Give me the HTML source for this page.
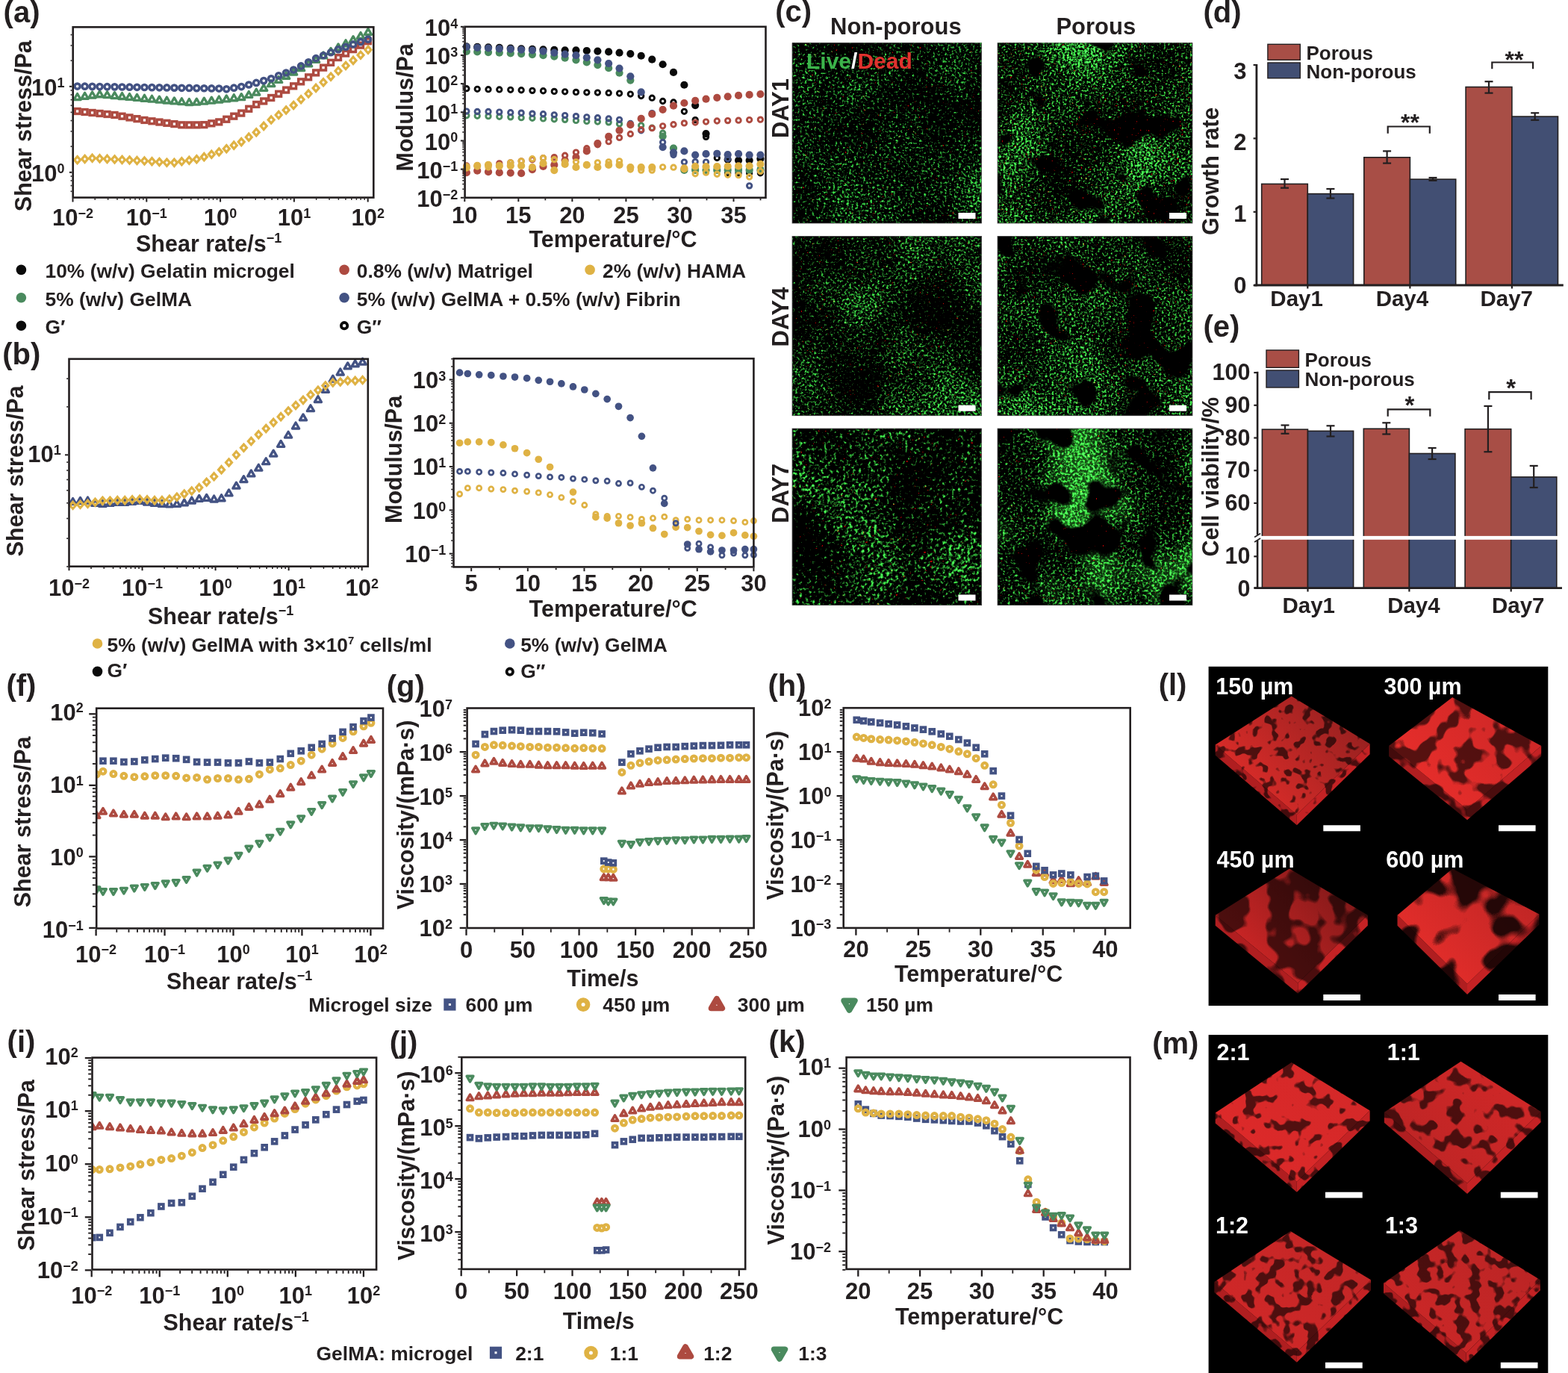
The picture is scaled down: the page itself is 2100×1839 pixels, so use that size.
<!DOCTYPE html>
<html><head><meta charset="utf-8"><title>figure</title>
<style>html,body{margin:0;padding:0;background:#fff;overflow:hidden;}svg{display:block;}
text{font-family:'Liberation Sans', Arial, Helvetica, sans-serif;}</style></head>
<body><svg xmlns="http://www.w3.org/2000/svg" width="2100" height="1839" viewBox="0 0 2100 1839">
<rect width="2100" height="1839" fill="#ffffff"/>
<path d="M103.6 209.66L107.6 214.26L103.6 218.86L99.6 214.26Z" fill="none" stroke="#dfb244" stroke-width="3.2" stroke-linejoin="miter"/>
<path d="M113.58 208.42L117.58 213.02L113.58 217.62L109.58 213.02Z" fill="none" stroke="#dfb244" stroke-width="3.2" stroke-linejoin="miter"/>
<path d="M123.57 207.23L127.57 211.83L123.57 216.43L119.57 211.83Z" fill="none" stroke="#dfb244" stroke-width="3.2" stroke-linejoin="miter"/>
<path d="M133.55 207.76L137.55 212.36L133.55 216.96L129.55 212.36Z" fill="none" stroke="#dfb244" stroke-width="3.2" stroke-linejoin="miter"/>
<path d="M143.54 208.3L147.54 212.9L143.54 217.5L139.54 212.9Z" fill="none" stroke="#dfb244" stroke-width="3.2" stroke-linejoin="miter"/>
<path d="M153.52 208.83L157.52 213.43L153.52 218.03L149.52 213.43Z" fill="none" stroke="#dfb244" stroke-width="3.2" stroke-linejoin="miter"/>
<path d="M163.51 209.37L167.51 213.97L163.51 218.57L159.51 213.97Z" fill="none" stroke="#dfb244" stroke-width="3.2" stroke-linejoin="miter"/>
<path d="M173.49 209.9L177.49 214.5L173.49 219.1L169.49 214.5Z" fill="none" stroke="#dfb244" stroke-width="3.2" stroke-linejoin="miter"/>
<path d="M183.48 210.44L187.48 215.04L183.48 219.64L179.48 215.04Z" fill="none" stroke="#dfb244" stroke-width="3.2" stroke-linejoin="miter"/>
<path d="M193.46 210.97L197.46 215.57L193.46 220.17L189.46 215.57Z" fill="none" stroke="#dfb244" stroke-width="3.2" stroke-linejoin="miter"/>
<path d="M203.45 211.66L207.45 216.26L203.45 220.86L199.45 216.26Z" fill="none" stroke="#dfb244" stroke-width="3.2" stroke-linejoin="miter"/>
<path d="M213.43 212.37L217.43 216.97L213.43 221.57L209.43 216.97Z" fill="none" stroke="#dfb244" stroke-width="3.2" stroke-linejoin="miter"/>
<path d="M223.42 213.08L227.42 217.68L223.42 222.28L219.42 217.68Z" fill="none" stroke="#dfb244" stroke-width="3.2" stroke-linejoin="miter"/>
<path d="M233.4 213.27L237.4 217.87L233.4 222.47L229.4 217.87Z" fill="none" stroke="#dfb244" stroke-width="3.2" stroke-linejoin="miter"/>
<path d="M243.38 211.73L247.38 216.33L243.38 220.93L239.38 216.33Z" fill="none" stroke="#dfb244" stroke-width="3.2" stroke-linejoin="miter"/>
<path d="M253.37 210.2L257.37 214.8L253.37 219.4L249.37 214.8Z" fill="none" stroke="#dfb244" stroke-width="3.2" stroke-linejoin="miter"/>
<path d="M263.35 208.66L267.35 213.26L263.35 217.86L259.35 213.26Z" fill="none" stroke="#dfb244" stroke-width="3.2" stroke-linejoin="miter"/>
<path d="M273.34 205.53L277.34 210.13L273.34 214.73L269.34 210.13Z" fill="none" stroke="#dfb244" stroke-width="3.2" stroke-linejoin="miter"/>
<path d="M283.32 202.2L287.32 206.8L283.32 211.4L279.32 206.8Z" fill="none" stroke="#dfb244" stroke-width="3.2" stroke-linejoin="miter"/>
<path d="M293.31 198.87L297.31 203.47L293.31 208.07L289.31 203.47Z" fill="none" stroke="#dfb244" stroke-width="3.2" stroke-linejoin="miter"/>
<path d="M303.29 194.57L307.29 199.17L303.29 203.77L299.29 199.17Z" fill="none" stroke="#dfb244" stroke-width="3.2" stroke-linejoin="miter"/>
<path d="M313.28 190.03L317.28 194.63L313.28 199.23L309.28 194.63Z" fill="none" stroke="#dfb244" stroke-width="3.2" stroke-linejoin="miter"/>
<path d="M323.26 185.49L327.26 190.09L323.26 194.69L319.26 190.09Z" fill="none" stroke="#dfb244" stroke-width="3.2" stroke-linejoin="miter"/>
<path d="M333.25 179.05L337.25 183.65L333.25 188.25L329.25 183.65Z" fill="none" stroke="#dfb244" stroke-width="3.2" stroke-linejoin="miter"/>
<path d="M343.23 172.57L347.23 177.17L343.23 181.77L339.23 177.17Z" fill="none" stroke="#dfb244" stroke-width="3.2" stroke-linejoin="miter"/>
<path d="M353.22 164.25L357.22 168.85L353.22 173.45L349.22 168.85Z" fill="none" stroke="#dfb244" stroke-width="3.2" stroke-linejoin="miter"/>
<path d="M363.2 155.93L367.2 160.53L363.2 165.13L359.2 160.53Z" fill="none" stroke="#dfb244" stroke-width="3.2" stroke-linejoin="miter"/>
<path d="M373.18 149.41L377.18 154.01L373.18 158.61L369.18 154.01Z" fill="none" stroke="#dfb244" stroke-width="3.2" stroke-linejoin="miter"/>
<path d="M383.17 142.89L387.17 147.49L383.17 152.09L379.17 147.49Z" fill="none" stroke="#dfb244" stroke-width="3.2" stroke-linejoin="miter"/>
<path d="M393.15 136.34L397.15 140.94L393.15 145.54L389.15 140.94Z" fill="none" stroke="#dfb244" stroke-width="3.2" stroke-linejoin="miter"/>
<path d="M403.14 128.66L407.14 133.26L403.14 137.86L399.14 133.26Z" fill="none" stroke="#dfb244" stroke-width="3.2" stroke-linejoin="miter"/>
<path d="M413.12 120.98L417.12 125.58L413.12 130.18L409.12 125.58Z" fill="none" stroke="#dfb244" stroke-width="3.2" stroke-linejoin="miter"/>
<path d="M423.11 113.3L427.11 117.9L423.11 122.5L419.11 117.9Z" fill="none" stroke="#dfb244" stroke-width="3.2" stroke-linejoin="miter"/>
<path d="M433.09 105.69L437.09 110.29L433.09 114.89L429.09 110.29Z" fill="none" stroke="#dfb244" stroke-width="3.2" stroke-linejoin="miter"/>
<path d="M443.08 98.07L447.08 102.67L443.08 107.27L439.08 102.67Z" fill="none" stroke="#dfb244" stroke-width="3.2" stroke-linejoin="miter"/>
<path d="M453.06 90.46L457.06 95.06L453.06 99.66L449.06 95.06Z" fill="none" stroke="#dfb244" stroke-width="3.2" stroke-linejoin="miter"/>
<path d="M463.05 83.37L467.05 87.97L463.05 92.57L459.05 87.97Z" fill="none" stroke="#dfb244" stroke-width="3.2" stroke-linejoin="miter"/>
<path d="M473.03 76.28L477.03 80.88L473.03 85.48L469.03 80.88Z" fill="none" stroke="#dfb244" stroke-width="3.2" stroke-linejoin="miter"/>
<path d="M483.02 69.2L487.02 73.8L483.02 78.4L479.02 73.8Z" fill="none" stroke="#dfb244" stroke-width="3.2" stroke-linejoin="miter"/>
<path d="M493 62.15L497 66.75L493 71.35L489 66.75Z" fill="none" stroke="#dfb244" stroke-width="3.2" stroke-linejoin="miter"/>
<rect x="100.2" y="145.6" width="6.8" height="6.8" fill="none" stroke="#ad4a40" stroke-width="3.5"/>
<rect x="110.18" y="146.6" width="6.8" height="6.8" fill="none" stroke="#ad4a40" stroke-width="3.5"/>
<rect x="120.17" y="147.6" width="6.8" height="6.8" fill="none" stroke="#ad4a40" stroke-width="3.5"/>
<rect x="130.15" y="148.59" width="6.8" height="6.8" fill="none" stroke="#ad4a40" stroke-width="3.5"/>
<rect x="140.14" y="149.59" width="6.8" height="6.8" fill="none" stroke="#ad4a40" stroke-width="3.5"/>
<rect x="150.12" y="150.59" width="6.8" height="6.8" fill="none" stroke="#ad4a40" stroke-width="3.5"/>
<rect x="160.11" y="152.3" width="6.8" height="6.8" fill="none" stroke="#ad4a40" stroke-width="3.5"/>
<rect x="170.09" y="154.05" width="6.8" height="6.8" fill="none" stroke="#ad4a40" stroke-width="3.5"/>
<rect x="180.08" y="155.79" width="6.8" height="6.8" fill="none" stroke="#ad4a40" stroke-width="3.5"/>
<rect x="190.06" y="157.54" width="6.8" height="6.8" fill="none" stroke="#ad4a40" stroke-width="3.5"/>
<rect x="200.05" y="158.88" width="6.8" height="6.8" fill="none" stroke="#ad4a40" stroke-width="3.5"/>
<rect x="210.03" y="160.15" width="6.8" height="6.8" fill="none" stroke="#ad4a40" stroke-width="3.5"/>
<rect x="220.02" y="161.41" width="6.8" height="6.8" fill="none" stroke="#ad4a40" stroke-width="3.5"/>
<rect x="230" y="162.67" width="6.8" height="6.8" fill="none" stroke="#ad4a40" stroke-width="3.5"/>
<rect x="239.98" y="163.93" width="6.8" height="6.8" fill="none" stroke="#ad4a40" stroke-width="3.5"/>
<rect x="249.97" y="163.99" width="6.8" height="6.8" fill="none" stroke="#ad4a40" stroke-width="3.5"/>
<rect x="259.95" y="163.99" width="6.8" height="6.8" fill="none" stroke="#ad4a40" stroke-width="3.5"/>
<rect x="269.94" y="163.77" width="6.8" height="6.8" fill="none" stroke="#ad4a40" stroke-width="3.5"/>
<rect x="279.92" y="161.88" width="6.8" height="6.8" fill="none" stroke="#ad4a40" stroke-width="3.5"/>
<rect x="289.91" y="160" width="6.8" height="6.8" fill="none" stroke="#ad4a40" stroke-width="3.5"/>
<rect x="299.89" y="156.34" width="6.8" height="6.8" fill="none" stroke="#ad4a40" stroke-width="3.5"/>
<rect x="309.88" y="152.26" width="6.8" height="6.8" fill="none" stroke="#ad4a40" stroke-width="3.5"/>
<rect x="319.86" y="148.17" width="6.8" height="6.8" fill="none" stroke="#ad4a40" stroke-width="3.5"/>
<rect x="329.85" y="142.38" width="6.8" height="6.8" fill="none" stroke="#ad4a40" stroke-width="3.5"/>
<rect x="339.83" y="136.54" width="6.8" height="6.8" fill="none" stroke="#ad4a40" stroke-width="3.5"/>
<rect x="349.82" y="132.06" width="6.8" height="6.8" fill="none" stroke="#ad4a40" stroke-width="3.5"/>
<rect x="359.8" y="127.58" width="6.8" height="6.8" fill="none" stroke="#ad4a40" stroke-width="3.5"/>
<rect x="369.78" y="122.37" width="6.8" height="6.8" fill="none" stroke="#ad4a40" stroke-width="3.5"/>
<rect x="379.77" y="117.16" width="6.8" height="6.8" fill="none" stroke="#ad4a40" stroke-width="3.5"/>
<rect x="389.75" y="111.93" width="6.8" height="6.8" fill="none" stroke="#ad4a40" stroke-width="3.5"/>
<rect x="399.74" y="105.95" width="6.8" height="6.8" fill="none" stroke="#ad4a40" stroke-width="3.5"/>
<rect x="409.72" y="99.98" width="6.8" height="6.8" fill="none" stroke="#ad4a40" stroke-width="3.5"/>
<rect x="419.71" y="93.99" width="6.8" height="6.8" fill="none" stroke="#ad4a40" stroke-width="3.5"/>
<rect x="429.69" y="87.22" width="6.8" height="6.8" fill="none" stroke="#ad4a40" stroke-width="3.5"/>
<rect x="439.68" y="80.45" width="6.8" height="6.8" fill="none" stroke="#ad4a40" stroke-width="3.5"/>
<rect x="449.66" y="73.68" width="6.8" height="6.8" fill="none" stroke="#ad4a40" stroke-width="3.5"/>
<rect x="459.65" y="68.19" width="6.8" height="6.8" fill="none" stroke="#ad4a40" stroke-width="3.5"/>
<rect x="469.63" y="62.72" width="6.8" height="6.8" fill="none" stroke="#ad4a40" stroke-width="3.5"/>
<rect x="479.62" y="57.24" width="6.8" height="6.8" fill="none" stroke="#ad4a40" stroke-width="3.5"/>
<rect x="489.6" y="51.8" width="6.8" height="6.8" fill="none" stroke="#ad4a40" stroke-width="3.5"/>
<path d="M103.6 125.51L108.2 133.48L99 133.48Z" fill="none" stroke="#4a8a5e" stroke-width="3.3" stroke-linejoin="round"/>
<path d="M113.58 124.26L118.18 132.23L108.98 132.23Z" fill="none" stroke="#4a8a5e" stroke-width="3.3" stroke-linejoin="round"/>
<path d="M123.57 123.02L128.17 130.98L118.97 130.98Z" fill="none" stroke="#4a8a5e" stroke-width="3.3" stroke-linejoin="round"/>
<path d="M133.55 121.78L138.15 129.75L128.95 129.75Z" fill="none" stroke="#4a8a5e" stroke-width="3.3" stroke-linejoin="round"/>
<path d="M143.54 122.7L148.14 130.67L138.94 130.67Z" fill="none" stroke="#4a8a5e" stroke-width="3.3" stroke-linejoin="round"/>
<path d="M153.52 123.62L158.12 131.59L148.92 131.59Z" fill="none" stroke="#4a8a5e" stroke-width="3.3" stroke-linejoin="round"/>
<path d="M163.51 124.54L168.11 132.51L158.91 132.51Z" fill="none" stroke="#4a8a5e" stroke-width="3.3" stroke-linejoin="round"/>
<path d="M173.49 125.46L178.09 133.42L168.89 133.42Z" fill="none" stroke="#4a8a5e" stroke-width="3.3" stroke-linejoin="round"/>
<path d="M183.48 126.38L188.08 134.34L178.88 134.34Z" fill="none" stroke="#4a8a5e" stroke-width="3.3" stroke-linejoin="round"/>
<path d="M193.46 127.3L198.06 135.26L188.86 135.26Z" fill="none" stroke="#4a8a5e" stroke-width="3.3" stroke-linejoin="round"/>
<path d="M203.45 128.22L208.05 136.18L198.85 136.18Z" fill="none" stroke="#4a8a5e" stroke-width="3.3" stroke-linejoin="round"/>
<path d="M213.43 129.14L218.03 137.1L208.83 137.1Z" fill="none" stroke="#4a8a5e" stroke-width="3.3" stroke-linejoin="round"/>
<path d="M223.42 130.06L228.02 138.02L218.82 138.02Z" fill="none" stroke="#4a8a5e" stroke-width="3.3" stroke-linejoin="round"/>
<path d="M233.4 130.95L238 138.91L228.8 138.91Z" fill="none" stroke="#4a8a5e" stroke-width="3.3" stroke-linejoin="round"/>
<path d="M243.38 131.75L247.98 139.71L238.78 139.71Z" fill="none" stroke="#4a8a5e" stroke-width="3.3" stroke-linejoin="round"/>
<path d="M253.37 132.54L257.97 140.51L248.77 140.51Z" fill="none" stroke="#4a8a5e" stroke-width="3.3" stroke-linejoin="round"/>
<path d="M263.35 132.15L267.95 140.12L258.75 140.12Z" fill="none" stroke="#4a8a5e" stroke-width="3.3" stroke-linejoin="round"/>
<path d="M273.34 131.15L277.94 139.12L268.74 139.12Z" fill="none" stroke="#4a8a5e" stroke-width="3.3" stroke-linejoin="round"/>
<path d="M283.32 130.14L287.92 138.11L278.72 138.11Z" fill="none" stroke="#4a8a5e" stroke-width="3.3" stroke-linejoin="round"/>
<path d="M293.31 129.02L297.91 136.99L288.71 136.99Z" fill="none" stroke="#4a8a5e" stroke-width="3.3" stroke-linejoin="round"/>
<path d="M303.29 127.9L307.89 135.87L298.69 135.87Z" fill="none" stroke="#4a8a5e" stroke-width="3.3" stroke-linejoin="round"/>
<path d="M313.28 126.77L317.88 134.74L308.68 134.74Z" fill="none" stroke="#4a8a5e" stroke-width="3.3" stroke-linejoin="round"/>
<path d="M323.26 125.65L327.86 133.62L318.66 133.62Z" fill="none" stroke="#4a8a5e" stroke-width="3.3" stroke-linejoin="round"/>
<path d="M333.25 122.46L337.85 130.43L328.65 130.43Z" fill="none" stroke="#4a8a5e" stroke-width="3.3" stroke-linejoin="round"/>
<path d="M343.23 119.22L347.83 127.18L338.63 127.18Z" fill="none" stroke="#4a8a5e" stroke-width="3.3" stroke-linejoin="round"/>
<path d="M353.22 113.46L357.82 121.43L348.62 121.43Z" fill="none" stroke="#4a8a5e" stroke-width="3.3" stroke-linejoin="round"/>
<path d="M363.2 107.7L367.8 115.67L358.6 115.67Z" fill="none" stroke="#4a8a5e" stroke-width="3.3" stroke-linejoin="round"/>
<path d="M373.18 102.49L377.78 110.46L368.58 110.46Z" fill="none" stroke="#4a8a5e" stroke-width="3.3" stroke-linejoin="round"/>
<path d="M383.17 97.28L387.77 105.25L378.57 105.25Z" fill="none" stroke="#4a8a5e" stroke-width="3.3" stroke-linejoin="round"/>
<path d="M393.15 92.06L397.75 100.03L388.55 100.03Z" fill="none" stroke="#4a8a5e" stroke-width="3.3" stroke-linejoin="round"/>
<path d="M403.14 86.51L407.74 94.48L398.54 94.48Z" fill="none" stroke="#4a8a5e" stroke-width="3.3" stroke-linejoin="round"/>
<path d="M413.12 80.97L417.72 88.93L408.52 88.93Z" fill="none" stroke="#4a8a5e" stroke-width="3.3" stroke-linejoin="round"/>
<path d="M423.11 75.42L427.71 83.39L418.51 83.39Z" fill="none" stroke="#4a8a5e" stroke-width="3.3" stroke-linejoin="round"/>
<path d="M433.09 69.92L437.69 77.89L428.49 77.89Z" fill="none" stroke="#4a8a5e" stroke-width="3.3" stroke-linejoin="round"/>
<path d="M443.08 64.42L447.68 72.39L438.48 72.39Z" fill="none" stroke="#4a8a5e" stroke-width="3.3" stroke-linejoin="round"/>
<path d="M453.06 58.92L457.66 66.89L448.46 66.89Z" fill="none" stroke="#4a8a5e" stroke-width="3.3" stroke-linejoin="round"/>
<path d="M463.05 53.76L467.65 61.73L458.45 61.73Z" fill="none" stroke="#4a8a5e" stroke-width="3.3" stroke-linejoin="round"/>
<path d="M473.03 48.61L477.63 56.58L468.43 56.58Z" fill="none" stroke="#4a8a5e" stroke-width="3.3" stroke-linejoin="round"/>
<path d="M483.02 43.46L487.62 51.42L478.42 51.42Z" fill="none" stroke="#4a8a5e" stroke-width="3.3" stroke-linejoin="round"/>
<path d="M493 38.33L497.6 46.3L488.4 46.3Z" fill="none" stroke="#4a8a5e" stroke-width="3.3" stroke-linejoin="round"/>
<circle cx="103.6" cy="115.55" r="3.6" fill="none" stroke="#435283" stroke-width="3.5"/>
<circle cx="113.58" cy="115.71" r="3.6" fill="none" stroke="#435283" stroke-width="3.5"/>
<circle cx="123.57" cy="115.87" r="3.6" fill="none" stroke="#435283" stroke-width="3.5"/>
<circle cx="133.55" cy="116.03" r="3.6" fill="none" stroke="#435283" stroke-width="3.5"/>
<circle cx="143.54" cy="116.19" r="3.6" fill="none" stroke="#435283" stroke-width="3.5"/>
<circle cx="153.52" cy="116.35" r="3.6" fill="none" stroke="#435283" stroke-width="3.5"/>
<circle cx="163.51" cy="116.51" r="3.6" fill="none" stroke="#435283" stroke-width="3.5"/>
<circle cx="173.49" cy="116.67" r="3.6" fill="none" stroke="#435283" stroke-width="3.5"/>
<circle cx="183.48" cy="116.83" r="3.6" fill="none" stroke="#435283" stroke-width="3.5"/>
<circle cx="193.46" cy="116.98" r="3.6" fill="none" stroke="#435283" stroke-width="3.5"/>
<circle cx="203.45" cy="117.14" r="3.6" fill="none" stroke="#435283" stroke-width="3.5"/>
<circle cx="213.43" cy="117.3" r="3.6" fill="none" stroke="#435283" stroke-width="3.5"/>
<circle cx="223.42" cy="117.46" r="3.6" fill="none" stroke="#435283" stroke-width="3.5"/>
<circle cx="233.4" cy="117.62" r="3.6" fill="none" stroke="#435283" stroke-width="3.5"/>
<circle cx="243.38" cy="117.78" r="3.6" fill="none" stroke="#435283" stroke-width="3.5"/>
<circle cx="253.37" cy="117.94" r="3.6" fill="none" stroke="#435283" stroke-width="3.5"/>
<circle cx="263.35" cy="118.1" r="3.6" fill="none" stroke="#435283" stroke-width="3.5"/>
<circle cx="273.34" cy="118.26" r="3.6" fill="none" stroke="#435283" stroke-width="3.5"/>
<circle cx="283.32" cy="118.42" r="3.6" fill="none" stroke="#435283" stroke-width="3.5"/>
<circle cx="293.31" cy="118.58" r="3.6" fill="none" stroke="#435283" stroke-width="3.5"/>
<circle cx="303.29" cy="119.33" r="3.6" fill="none" stroke="#435283" stroke-width="3.5"/>
<circle cx="313.28" cy="117.71" r="3.6" fill="none" stroke="#435283" stroke-width="3.5"/>
<circle cx="323.26" cy="116.08" r="3.6" fill="none" stroke="#435283" stroke-width="3.5"/>
<circle cx="333.25" cy="113.51" r="3.6" fill="none" stroke="#435283" stroke-width="3.5"/>
<circle cx="343.23" cy="110.92" r="3.6" fill="none" stroke="#435283" stroke-width="3.5"/>
<circle cx="353.22" cy="108.1" r="3.6" fill="none" stroke="#435283" stroke-width="3.5"/>
<circle cx="363.2" cy="105.29" r="3.6" fill="none" stroke="#435283" stroke-width="3.5"/>
<circle cx="373.18" cy="101.39" r="3.6" fill="none" stroke="#435283" stroke-width="3.5"/>
<circle cx="383.17" cy="97.48" r="3.6" fill="none" stroke="#435283" stroke-width="3.5"/>
<circle cx="393.15" cy="93.53" r="3.6" fill="none" stroke="#435283" stroke-width="3.5"/>
<circle cx="403.14" cy="88.41" r="3.6" fill="none" stroke="#435283" stroke-width="3.5"/>
<circle cx="413.12" cy="83.29" r="3.6" fill="none" stroke="#435283" stroke-width="3.5"/>
<circle cx="423.11" cy="78.2" r="3.6" fill="none" stroke="#435283" stroke-width="3.5"/>
<circle cx="433.09" cy="74.23" r="3.6" fill="none" stroke="#435283" stroke-width="3.5"/>
<circle cx="443.08" cy="70.25" r="3.6" fill="none" stroke="#435283" stroke-width="3.5"/>
<circle cx="453.06" cy="66.27" r="3.6" fill="none" stroke="#435283" stroke-width="3.5"/>
<circle cx="463.05" cy="62.85" r="3.6" fill="none" stroke="#435283" stroke-width="3.5"/>
<circle cx="473.03" cy="59.44" r="3.6" fill="none" stroke="#435283" stroke-width="3.5"/>
<circle cx="483.02" cy="56.03" r="3.6" fill="none" stroke="#435283" stroke-width="3.5"/>
<circle cx="493" cy="52.63" r="3.6" fill="none" stroke="#435283" stroke-width="3.5"/>
<rect x="97.7" y="36.3" width="402.6" height="228.3" fill="none" stroke="#231f20" stroke-width="2.6"/>
<line x1="94.6" y1="256.31" x2="96.4" y2="256.31" stroke="#231f20" stroke-width="1.6" stroke-linecap="butt"/>
<line x1="94.6" y1="248.61" x2="96.4" y2="248.61" stroke="#231f20" stroke-width="1.6" stroke-linecap="butt"/>
<line x1="94.6" y1="241.94" x2="96.4" y2="241.94" stroke="#231f20" stroke-width="1.6" stroke-linecap="butt"/>
<line x1="94.6" y1="236.06" x2="96.4" y2="236.06" stroke="#231f20" stroke-width="1.6" stroke-linecap="butt"/>
<line x1="92.9" y1="230.8" x2="96.4" y2="230.8" stroke="#231f20" stroke-width="2" stroke-linecap="butt"/>
<line x1="94.6" y1="196.18" x2="96.4" y2="196.18" stroke="#231f20" stroke-width="1.6" stroke-linecap="butt"/>
<line x1="94.6" y1="175.93" x2="96.4" y2="175.93" stroke="#231f20" stroke-width="1.6" stroke-linecap="butt"/>
<line x1="94.6" y1="161.56" x2="96.4" y2="161.56" stroke="#231f20" stroke-width="1.6" stroke-linecap="butt"/>
<line x1="94.6" y1="150.42" x2="96.4" y2="150.42" stroke="#231f20" stroke-width="1.6" stroke-linecap="butt"/>
<line x1="94.6" y1="141.31" x2="96.4" y2="141.31" stroke="#231f20" stroke-width="1.6" stroke-linecap="butt"/>
<line x1="94.6" y1="133.61" x2="96.4" y2="133.61" stroke="#231f20" stroke-width="1.6" stroke-linecap="butt"/>
<line x1="94.6" y1="126.94" x2="96.4" y2="126.94" stroke="#231f20" stroke-width="1.6" stroke-linecap="butt"/>
<line x1="94.6" y1="121.06" x2="96.4" y2="121.06" stroke="#231f20" stroke-width="1.6" stroke-linecap="butt"/>
<line x1="92.9" y1="115.8" x2="96.4" y2="115.8" stroke="#231f20" stroke-width="2" stroke-linecap="butt"/>
<line x1="94.6" y1="81.18" x2="96.4" y2="81.18" stroke="#231f20" stroke-width="1.6" stroke-linecap="butt"/>
<line x1="94.6" y1="60.93" x2="96.4" y2="60.93" stroke="#231f20" stroke-width="1.6" stroke-linecap="butt"/>
<line x1="94.6" y1="46.56" x2="96.4" y2="46.56" stroke="#231f20" stroke-width="1.6" stroke-linecap="butt"/>
<text x="86.6" y="242.5" font-size="31" text-anchor="end" fill="#231f20" font-weight="bold">10<tspan font-size="18" dy="-10.1">0</tspan></text>
<text x="86.6" y="127.5" font-size="31" text-anchor="end" fill="#231f20" font-weight="bold">10<tspan font-size="18" dy="-10.1">1</tspan></text>
<line x1="97.5" y1="265.9" x2="97.5" y2="270.5" stroke="#231f20" stroke-width="2" stroke-linecap="butt"/>
<line x1="127.24" y1="265.9" x2="127.24" y2="267.8" stroke="#231f20" stroke-width="1.6" stroke-linecap="butt"/>
<line x1="144.64" y1="265.9" x2="144.64" y2="267.8" stroke="#231f20" stroke-width="1.6" stroke-linecap="butt"/>
<line x1="156.98" y1="265.9" x2="156.98" y2="267.8" stroke="#231f20" stroke-width="1.6" stroke-linecap="butt"/>
<line x1="166.56" y1="265.9" x2="166.56" y2="267.8" stroke="#231f20" stroke-width="1.6" stroke-linecap="butt"/>
<line x1="174.38" y1="265.9" x2="174.38" y2="267.8" stroke="#231f20" stroke-width="1.6" stroke-linecap="butt"/>
<line x1="181" y1="265.9" x2="181" y2="267.8" stroke="#231f20" stroke-width="1.6" stroke-linecap="butt"/>
<line x1="186.73" y1="265.9" x2="186.73" y2="267.8" stroke="#231f20" stroke-width="1.6" stroke-linecap="butt"/>
<line x1="191.78" y1="265.9" x2="191.78" y2="267.8" stroke="#231f20" stroke-width="1.6" stroke-linecap="butt"/>
<line x1="196.3" y1="265.9" x2="196.3" y2="270.5" stroke="#231f20" stroke-width="2" stroke-linecap="butt"/>
<line x1="226.04" y1="265.9" x2="226.04" y2="267.8" stroke="#231f20" stroke-width="1.6" stroke-linecap="butt"/>
<line x1="243.44" y1="265.9" x2="243.44" y2="267.8" stroke="#231f20" stroke-width="1.6" stroke-linecap="butt"/>
<line x1="255.78" y1="265.9" x2="255.78" y2="267.8" stroke="#231f20" stroke-width="1.6" stroke-linecap="butt"/>
<line x1="265.36" y1="265.9" x2="265.36" y2="267.8" stroke="#231f20" stroke-width="1.6" stroke-linecap="butt"/>
<line x1="273.18" y1="265.9" x2="273.18" y2="267.8" stroke="#231f20" stroke-width="1.6" stroke-linecap="butt"/>
<line x1="279.8" y1="265.9" x2="279.8" y2="267.8" stroke="#231f20" stroke-width="1.6" stroke-linecap="butt"/>
<line x1="285.53" y1="265.9" x2="285.53" y2="267.8" stroke="#231f20" stroke-width="1.6" stroke-linecap="butt"/>
<line x1="290.58" y1="265.9" x2="290.58" y2="267.8" stroke="#231f20" stroke-width="1.6" stroke-linecap="butt"/>
<line x1="295.1" y1="265.9" x2="295.1" y2="270.5" stroke="#231f20" stroke-width="2" stroke-linecap="butt"/>
<line x1="324.84" y1="265.9" x2="324.84" y2="267.8" stroke="#231f20" stroke-width="1.6" stroke-linecap="butt"/>
<line x1="342.24" y1="265.9" x2="342.24" y2="267.8" stroke="#231f20" stroke-width="1.6" stroke-linecap="butt"/>
<line x1="354.58" y1="265.9" x2="354.58" y2="267.8" stroke="#231f20" stroke-width="1.6" stroke-linecap="butt"/>
<line x1="364.16" y1="265.9" x2="364.16" y2="267.8" stroke="#231f20" stroke-width="1.6" stroke-linecap="butt"/>
<line x1="371.98" y1="265.9" x2="371.98" y2="267.8" stroke="#231f20" stroke-width="1.6" stroke-linecap="butt"/>
<line x1="378.6" y1="265.9" x2="378.6" y2="267.8" stroke="#231f20" stroke-width="1.6" stroke-linecap="butt"/>
<line x1="384.33" y1="265.9" x2="384.33" y2="267.8" stroke="#231f20" stroke-width="1.6" stroke-linecap="butt"/>
<line x1="389.38" y1="265.9" x2="389.38" y2="267.8" stroke="#231f20" stroke-width="1.6" stroke-linecap="butt"/>
<line x1="393.9" y1="265.9" x2="393.9" y2="270.5" stroke="#231f20" stroke-width="2" stroke-linecap="butt"/>
<line x1="423.64" y1="265.9" x2="423.64" y2="267.8" stroke="#231f20" stroke-width="1.6" stroke-linecap="butt"/>
<line x1="441.04" y1="265.9" x2="441.04" y2="267.8" stroke="#231f20" stroke-width="1.6" stroke-linecap="butt"/>
<line x1="453.38" y1="265.9" x2="453.38" y2="267.8" stroke="#231f20" stroke-width="1.6" stroke-linecap="butt"/>
<line x1="462.96" y1="265.9" x2="462.96" y2="267.8" stroke="#231f20" stroke-width="1.6" stroke-linecap="butt"/>
<line x1="470.78" y1="265.9" x2="470.78" y2="267.8" stroke="#231f20" stroke-width="1.6" stroke-linecap="butt"/>
<line x1="477.4" y1="265.9" x2="477.4" y2="267.8" stroke="#231f20" stroke-width="1.6" stroke-linecap="butt"/>
<line x1="483.13" y1="265.9" x2="483.13" y2="267.8" stroke="#231f20" stroke-width="1.6" stroke-linecap="butt"/>
<line x1="488.18" y1="265.9" x2="488.18" y2="267.8" stroke="#231f20" stroke-width="1.6" stroke-linecap="butt"/>
<line x1="492.7" y1="265.9" x2="492.7" y2="270.5" stroke="#231f20" stroke-width="2" stroke-linecap="butt"/>
<text x="97.5" y="302.3" font-size="31" text-anchor="middle" fill="#231f20" font-weight="bold">10<tspan font-size="18" dy="-10.1">−2</tspan></text>
<text x="196.3" y="302.3" font-size="31" text-anchor="middle" fill="#231f20" font-weight="bold">10<tspan font-size="18" dy="-10.1">−1</tspan></text>
<text x="295.1" y="302.3" font-size="31" text-anchor="middle" fill="#231f20" font-weight="bold">10<tspan font-size="18" dy="-10.1">0</tspan></text>
<text x="393.9" y="302.3" font-size="31" text-anchor="middle" fill="#231f20" font-weight="bold">10<tspan font-size="18" dy="-10.1">1</tspan></text>
<text x="492.7" y="302.3" font-size="31" text-anchor="middle" fill="#231f20" font-weight="bold">10<tspan font-size="18" dy="-10.1">2</tspan></text>
<text x="41.69" y="168.7" font-size="30.5" text-anchor="middle" fill="#231f20" font-weight="bold" transform="rotate(-90 41.69 168.7)">Shear stress/Pa</text>
<text x="182" y="337.4" font-size="30.5" font-weight="bold" fill="#231f20">Shear rate/s<tspan font-size="18" dy="-12">−1</tspan></text>
<circle cx="624.85" cy="118.69" r="3.2" fill="none" stroke="#0a0a0a" stroke-width="2.9"/>
<circle cx="639.23" cy="119.3" r="3.2" fill="none" stroke="#0a0a0a" stroke-width="2.9"/>
<circle cx="654.01" cy="119.71" r="3.2" fill="none" stroke="#0a0a0a" stroke-width="2.9"/>
<circle cx="668.79" cy="119.92" r="3.2" fill="none" stroke="#0a0a0a" stroke-width="2.9"/>
<circle cx="683.77" cy="120.33" r="3.2" fill="none" stroke="#0a0a0a" stroke-width="2.9"/>
<circle cx="698.15" cy="120.74" r="3.2" fill="none" stroke="#0a0a0a" stroke-width="2.9"/>
<circle cx="712.93" cy="121.36" r="3.2" fill="none" stroke="#0a0a0a" stroke-width="2.9"/>
<circle cx="727.5" cy="121.77" r="3.2" fill="none" stroke="#0a0a0a" stroke-width="2.9"/>
<circle cx="742.28" cy="122.38" r="3.2" fill="none" stroke="#0a0a0a" stroke-width="2.9"/>
<circle cx="756.65" cy="122.79" r="3.2" fill="none" stroke="#0a0a0a" stroke-width="2.9"/>
<circle cx="771.44" cy="123.41" r="3.2" fill="none" stroke="#0a0a0a" stroke-width="2.9"/>
<circle cx="785.81" cy="123.82" r="3.2" fill="none" stroke="#0a0a0a" stroke-width="2.9"/>
<circle cx="800.38" cy="124.03" r="3.2" fill="none" stroke="#0a0a0a" stroke-width="2.9"/>
<circle cx="815.16" cy="124.44" r="3.2" fill="none" stroke="#0a0a0a" stroke-width="2.9"/>
<circle cx="829.54" cy="125.05" r="3.2" fill="none" stroke="#0a0a0a" stroke-width="2.9"/>
<circle cx="844.32" cy="126.08" r="3.2" fill="none" stroke="#0a0a0a" stroke-width="2.9"/>
<circle cx="858.69" cy="128.54" r="3.2" fill="none" stroke="#0a0a0a" stroke-width="2.9"/>
<circle cx="873.26" cy="131.21" r="3.2" fill="none" stroke="#0a0a0a" stroke-width="2.9"/>
<circle cx="887.63" cy="135.52" r="3.2" fill="none" stroke="#0a0a0a" stroke-width="2.9"/>
<circle cx="902" cy="136.96" r="3.2" fill="none" stroke="#0a0a0a" stroke-width="2.9"/>
<circle cx="916.38" cy="149.28" r="3.2" fill="none" stroke="#0a0a0a" stroke-width="2.9"/>
<circle cx="931.16" cy="160.57" r="3.2" fill="none" stroke="#0a0a0a" stroke-width="2.9"/>
<circle cx="945.53" cy="183.36" r="3.2" fill="none" stroke="#0a0a0a" stroke-width="2.9"/>
<circle cx="960.31" cy="211.48" r="3.2" fill="none" stroke="#0a0a0a" stroke-width="2.9"/>
<circle cx="974.68" cy="231.81" r="3.2" fill="none" stroke="#0a0a0a" stroke-width="2.9"/>
<circle cx="989.05" cy="231.81" r="3.2" fill="none" stroke="#0a0a0a" stroke-width="2.9"/>
<circle cx="1003.63" cy="231.81" r="3.2" fill="none" stroke="#0a0a0a" stroke-width="2.9"/>
<circle cx="1018.41" cy="231.81" r="3.2" fill="none" stroke="#0a0a0a" stroke-width="2.9"/>
<circle cx="624.85" cy="62.44" r="5.1" fill="#0a0a0a"/>
<circle cx="639.23" cy="62.85" r="5.1" fill="#0a0a0a"/>
<circle cx="654.01" cy="63.26" r="5.1" fill="#0a0a0a"/>
<circle cx="668.79" cy="63.87" r="5.1" fill="#0a0a0a"/>
<circle cx="683.77" cy="64.49" r="5.1" fill="#0a0a0a"/>
<circle cx="698.15" cy="65.31" r="5.1" fill="#0a0a0a"/>
<circle cx="712.93" cy="65.93" r="5.1" fill="#0a0a0a"/>
<circle cx="727.5" cy="66.34" r="5.1" fill="#0a0a0a"/>
<circle cx="742.28" cy="66.95" r="5.1" fill="#0a0a0a"/>
<circle cx="756.65" cy="67.36" r="5.1" fill="#0a0a0a"/>
<circle cx="771.44" cy="67.36" r="5.1" fill="#0a0a0a"/>
<circle cx="785.81" cy="67.98" r="5.1" fill="#0a0a0a"/>
<circle cx="800.38" cy="68.6" r="5.1" fill="#0a0a0a"/>
<circle cx="815.16" cy="69.42" r="5.1" fill="#0a0a0a"/>
<circle cx="829.54" cy="70.65" r="5.1" fill="#0a0a0a"/>
<circle cx="844.32" cy="72.09" r="5.1" fill="#0a0a0a"/>
<circle cx="858.69" cy="74.75" r="5.1" fill="#0a0a0a"/>
<circle cx="873.26" cy="79.68" r="5.1" fill="#0a0a0a"/>
<circle cx="887.63" cy="86.25" r="5.1" fill="#0a0a0a"/>
<circle cx="902" cy="96.93" r="5.1" fill="#0a0a0a"/>
<circle cx="916.38" cy="113.76" r="5.1" fill="#0a0a0a"/>
<circle cx="931.16" cy="141.07" r="5.1" fill="#0a0a0a"/>
<circle cx="945.53" cy="179.05" r="5.1" fill="#0a0a0a"/>
<circle cx="974.68" cy="213.74" r="5.1" fill="#0a0a0a"/>
<circle cx="989.05" cy="214.77" r="5.1" fill="#0a0a0a"/>
<circle cx="1003.63" cy="214.77" r="5.1" fill="#0a0a0a"/>
<circle cx="1018.41" cy="212.71" r="5.1" fill="#0a0a0a"/>
<circle cx="624.85" cy="154.82" r="3.2" fill="none" stroke="#4a8a5e" stroke-width="2.9"/>
<circle cx="639.23" cy="155.23" r="3.2" fill="none" stroke="#4a8a5e" stroke-width="2.9"/>
<circle cx="654.01" cy="155.64" r="3.2" fill="none" stroke="#4a8a5e" stroke-width="2.9"/>
<circle cx="668.79" cy="156.26" r="3.2" fill="none" stroke="#4a8a5e" stroke-width="2.9"/>
<circle cx="683.77" cy="156.87" r="3.2" fill="none" stroke="#4a8a5e" stroke-width="2.9"/>
<circle cx="698.15" cy="157.69" r="3.2" fill="none" stroke="#4a8a5e" stroke-width="2.9"/>
<circle cx="712.93" cy="158.31" r="3.2" fill="none" stroke="#4a8a5e" stroke-width="2.9"/>
<circle cx="727.5" cy="158.93" r="3.2" fill="none" stroke="#4a8a5e" stroke-width="2.9"/>
<circle cx="742.28" cy="159.75" r="3.2" fill="none" stroke="#4a8a5e" stroke-width="2.9"/>
<circle cx="756.65" cy="160.36" r="3.2" fill="none" stroke="#4a8a5e" stroke-width="2.9"/>
<circle cx="771.44" cy="161.39" r="3.2" fill="none" stroke="#4a8a5e" stroke-width="2.9"/>
<circle cx="785.81" cy="162.42" r="3.2" fill="none" stroke="#4a8a5e" stroke-width="2.9"/>
<circle cx="800.38" cy="163.03" r="3.2" fill="none" stroke="#4a8a5e" stroke-width="2.9"/>
<circle cx="815.16" cy="163.85" r="3.2" fill="none" stroke="#4a8a5e" stroke-width="2.9"/>
<circle cx="829.54" cy="165.91" r="3.2" fill="none" stroke="#4a8a5e" stroke-width="2.9"/>
<circle cx="858.69" cy="167.96" r="3.2" fill="none" stroke="#4a8a5e" stroke-width="2.9"/>
<circle cx="873.26" cy="171.24" r="3.2" fill="none" stroke="#4a8a5e" stroke-width="2.9"/>
<circle cx="887.63" cy="178.22" r="3.2" fill="none" stroke="#4a8a5e" stroke-width="2.9"/>
<circle cx="902" cy="198.34" r="3.2" fill="none" stroke="#4a8a5e" stroke-width="2.9"/>
<circle cx="916.38" cy="226.06" r="3.2" fill="none" stroke="#4a8a5e" stroke-width="2.9"/>
<circle cx="931.16" cy="226.06" r="3.2" fill="none" stroke="#4a8a5e" stroke-width="2.9"/>
<circle cx="945.53" cy="226.06" r="3.2" fill="none" stroke="#4a8a5e" stroke-width="2.9"/>
<circle cx="960.31" cy="226.06" r="3.2" fill="none" stroke="#4a8a5e" stroke-width="2.9"/>
<circle cx="974.68" cy="226.06" r="3.2" fill="none" stroke="#4a8a5e" stroke-width="2.9"/>
<circle cx="989.05" cy="226.06" r="3.2" fill="none" stroke="#4a8a5e" stroke-width="2.9"/>
<circle cx="1003.63" cy="226.06" r="3.2" fill="none" stroke="#4a8a5e" stroke-width="2.9"/>
<circle cx="1018.41" cy="226.06" r="3.2" fill="none" stroke="#4a8a5e" stroke-width="2.9"/>
<circle cx="624.85" cy="69.01" r="5.1" fill="#4a8a5e"/>
<circle cx="639.23" cy="69.42" r="5.1" fill="#4a8a5e"/>
<circle cx="654.01" cy="70.03" r="5.1" fill="#4a8a5e"/>
<circle cx="668.79" cy="70.65" r="5.1" fill="#4a8a5e"/>
<circle cx="683.77" cy="71.47" r="5.1" fill="#4a8a5e"/>
<circle cx="698.15" cy="72.09" r="5.1" fill="#4a8a5e"/>
<circle cx="712.93" cy="73.11" r="5.1" fill="#4a8a5e"/>
<circle cx="727.5" cy="74.14" r="5.1" fill="#4a8a5e"/>
<circle cx="742.28" cy="75.58" r="5.1" fill="#4a8a5e"/>
<circle cx="756.65" cy="77.63" r="5.1" fill="#4a8a5e"/>
<circle cx="771.44" cy="80.3" r="5.1" fill="#4a8a5e"/>
<circle cx="785.81" cy="83.38" r="5.1" fill="#4a8a5e"/>
<circle cx="800.38" cy="87.07" r="5.1" fill="#4a8a5e"/>
<circle cx="815.16" cy="91.18" r="5.1" fill="#4a8a5e"/>
<circle cx="829.54" cy="97.75" r="5.1" fill="#4a8a5e"/>
<circle cx="844.32" cy="107.6" r="5.1" fill="#4a8a5e"/>
<circle cx="887.63" cy="182.54" r="5.1" fill="#4a8a5e"/>
<circle cx="902" cy="198.55" r="5.1" fill="#4a8a5e"/>
<circle cx="916.38" cy="227.91" r="5.1" fill="#4a8a5e"/>
<circle cx="931.16" cy="227.91" r="5.1" fill="#4a8a5e"/>
<circle cx="945.53" cy="227.91" r="5.1" fill="#4a8a5e"/>
<circle cx="960.31" cy="227.91" r="5.1" fill="#4a8a5e"/>
<circle cx="974.68" cy="227.91" r="5.1" fill="#4a8a5e"/>
<circle cx="989.05" cy="227.91" r="5.1" fill="#4a8a5e"/>
<circle cx="1003.63" cy="227.91" r="5.1" fill="#4a8a5e"/>
<circle cx="1018.41" cy="227.91" r="5.1" fill="#4a8a5e"/>
<circle cx="624.85" cy="149.07" r="3.2" fill="none" stroke="#435283" stroke-width="2.9"/>
<circle cx="639.23" cy="149.48" r="3.2" fill="none" stroke="#435283" stroke-width="2.9"/>
<circle cx="654.01" cy="149.48" r="3.2" fill="none" stroke="#435283" stroke-width="2.9"/>
<circle cx="668.79" cy="150.1" r="3.2" fill="none" stroke="#435283" stroke-width="2.9"/>
<circle cx="683.77" cy="150.71" r="3.2" fill="none" stroke="#435283" stroke-width="2.9"/>
<circle cx="698.15" cy="151.13" r="3.2" fill="none" stroke="#435283" stroke-width="2.9"/>
<circle cx="712.93" cy="152.15" r="3.2" fill="none" stroke="#435283" stroke-width="2.9"/>
<circle cx="727.5" cy="152.77" r="3.2" fill="none" stroke="#435283" stroke-width="2.9"/>
<circle cx="742.28" cy="153.79" r="3.2" fill="none" stroke="#435283" stroke-width="2.9"/>
<circle cx="756.65" cy="154.62" r="3.2" fill="none" stroke="#435283" stroke-width="2.9"/>
<circle cx="771.44" cy="155.64" r="3.2" fill="none" stroke="#435283" stroke-width="2.9"/>
<circle cx="785.81" cy="156.87" r="3.2" fill="none" stroke="#435283" stroke-width="2.9"/>
<circle cx="800.38" cy="157.69" r="3.2" fill="none" stroke="#435283" stroke-width="2.9"/>
<circle cx="815.16" cy="158.93" r="3.2" fill="none" stroke="#435283" stroke-width="2.9"/>
<circle cx="829.54" cy="160.36" r="3.2" fill="none" stroke="#435283" stroke-width="2.9"/>
<circle cx="844.32" cy="165.5" r="3.2" fill="none" stroke="#435283" stroke-width="2.9"/>
<circle cx="858.69" cy="174.73" r="3.2" fill="none" stroke="#435283" stroke-width="2.9"/>
<circle cx="873.26" cy="151.54" r="3.2" fill="none" stroke="#435283" stroke-width="2.9"/>
<circle cx="887.63" cy="190.54" r="3.2" fill="none" stroke="#435283" stroke-width="2.9"/>
<circle cx="902" cy="207.58" r="3.2" fill="none" stroke="#435283" stroke-width="2.9"/>
<circle cx="916.38" cy="217.03" r="3.2" fill="none" stroke="#435283" stroke-width="2.9"/>
<circle cx="931.16" cy="216.61" r="3.2" fill="none" stroke="#435283" stroke-width="2.9"/>
<circle cx="945.53" cy="217.03" r="3.2" fill="none" stroke="#435283" stroke-width="2.9"/>
<circle cx="974.68" cy="212.71" r="3.2" fill="none" stroke="#435283" stroke-width="2.9"/>
<circle cx="1003.63" cy="248.85" r="3.2" fill="none" stroke="#435283" stroke-width="2.9"/>
<circle cx="624.85" cy="62.85" r="5.1" fill="#435283"/>
<circle cx="639.23" cy="63.87" r="5.1" fill="#435283"/>
<circle cx="654.01" cy="64.49" r="5.1" fill="#435283"/>
<circle cx="668.79" cy="65.31" r="5.1" fill="#435283"/>
<circle cx="683.77" cy="65.93" r="5.1" fill="#435283"/>
<circle cx="698.15" cy="66.54" r="5.1" fill="#435283"/>
<circle cx="712.93" cy="67.36" r="5.1" fill="#435283"/>
<circle cx="727.5" cy="68.6" r="5.1" fill="#435283"/>
<circle cx="742.28" cy="70.65" r="5.1" fill="#435283"/>
<circle cx="756.65" cy="72.7" r="5.1" fill="#435283"/>
<circle cx="771.44" cy="74.14" r="5.1" fill="#435283"/>
<circle cx="785.81" cy="77.22" r="5.1" fill="#435283"/>
<circle cx="800.38" cy="80.3" r="5.1" fill="#435283"/>
<circle cx="815.16" cy="85.02" r="5.1" fill="#435283"/>
<circle cx="829.54" cy="91.59" r="5.1" fill="#435283"/>
<circle cx="844.32" cy="102.26" r="5.1" fill="#435283"/>
<circle cx="858.69" cy="123.41" r="5.1" fill="#435283"/>
<circle cx="887.63" cy="197.11" r="5.1" fill="#435283"/>
<circle cx="902" cy="204.3" r="5.1" fill="#435283"/>
<circle cx="916.38" cy="202.45" r="5.1" fill="#435283"/>
<circle cx="931.16" cy="207.58" r="5.1" fill="#435283"/>
<circle cx="945.53" cy="206.14" r="5.1" fill="#435283"/>
<circle cx="960.31" cy="205.73" r="5.1" fill="#435283"/>
<circle cx="974.68" cy="207.17" r="5.1" fill="#435283"/>
<circle cx="989.05" cy="206.14" r="5.1" fill="#435283"/>
<circle cx="1003.63" cy="207.58" r="5.1" fill="#435283"/>
<circle cx="1018.41" cy="207.58" r="5.1" fill="#435283"/>
<circle cx="624.85" cy="221.95" r="3.2" fill="none" stroke="#ad4a40" stroke-width="2.9"/>
<circle cx="639.23" cy="221.95" r="3.2" fill="none" stroke="#ad4a40" stroke-width="2.9"/>
<circle cx="654.01" cy="220.93" r="3.2" fill="none" stroke="#ad4a40" stroke-width="2.9"/>
<circle cx="668.79" cy="218.87" r="3.2" fill="none" stroke="#ad4a40" stroke-width="2.9"/>
<circle cx="683.77" cy="217.85" r="3.2" fill="none" stroke="#ad4a40" stroke-width="2.9"/>
<circle cx="698.15" cy="215.79" r="3.2" fill="none" stroke="#ad4a40" stroke-width="2.9"/>
<circle cx="712.93" cy="213.74" r="3.2" fill="none" stroke="#ad4a40" stroke-width="2.9"/>
<circle cx="727.5" cy="211.69" r="3.2" fill="none" stroke="#ad4a40" stroke-width="2.9"/>
<circle cx="742.28" cy="210.66" r="3.2" fill="none" stroke="#ad4a40" stroke-width="2.9"/>
<circle cx="756.65" cy="208.2" r="3.2" fill="none" stroke="#ad4a40" stroke-width="2.9"/>
<circle cx="771.44" cy="204.09" r="3.2" fill="none" stroke="#ad4a40" stroke-width="2.9"/>
<circle cx="785.81" cy="198.75" r="3.2" fill="none" stroke="#ad4a40" stroke-width="2.9"/>
<circle cx="800.38" cy="193.83" r="3.2" fill="none" stroke="#ad4a40" stroke-width="2.9"/>
<circle cx="815.16" cy="189.72" r="3.2" fill="none" stroke="#ad4a40" stroke-width="2.9"/>
<circle cx="829.54" cy="184.38" r="3.2" fill="none" stroke="#ad4a40" stroke-width="2.9"/>
<circle cx="844.32" cy="179.46" r="3.2" fill="none" stroke="#ad4a40" stroke-width="2.9"/>
<circle cx="858.69" cy="173.71" r="3.2" fill="none" stroke="#ad4a40" stroke-width="2.9"/>
<circle cx="873.26" cy="171.65" r="3.2" fill="none" stroke="#ad4a40" stroke-width="2.9"/>
<circle cx="887.63" cy="168.78" r="3.2" fill="none" stroke="#ad4a40" stroke-width="2.9"/>
<circle cx="902" cy="166.73" r="3.2" fill="none" stroke="#ad4a40" stroke-width="2.9"/>
<circle cx="916.38" cy="164.88" r="3.2" fill="none" stroke="#ad4a40" stroke-width="2.9"/>
<circle cx="931.16" cy="164.06" r="3.2" fill="none" stroke="#ad4a40" stroke-width="2.9"/>
<circle cx="945.53" cy="163.03" r="3.2" fill="none" stroke="#ad4a40" stroke-width="2.9"/>
<circle cx="960.31" cy="162.01" r="3.2" fill="none" stroke="#ad4a40" stroke-width="2.9"/>
<circle cx="974.68" cy="161.6" r="3.2" fill="none" stroke="#ad4a40" stroke-width="2.9"/>
<circle cx="989.05" cy="161.18" r="3.2" fill="none" stroke="#ad4a40" stroke-width="2.9"/>
<circle cx="1003.63" cy="160.57" r="3.2" fill="none" stroke="#ad4a40" stroke-width="2.9"/>
<circle cx="1018.41" cy="160.16" r="3.2" fill="none" stroke="#ad4a40" stroke-width="2.9"/>
<circle cx="624.85" cy="231.19" r="5.1" fill="#ad4a40"/>
<circle cx="639.23" cy="228.73" r="5.1" fill="#ad4a40"/>
<circle cx="654.01" cy="230.16" r="5.1" fill="#ad4a40"/>
<circle cx="668.79" cy="231.19" r="5.1" fill="#ad4a40"/>
<circle cx="683.77" cy="231.6" r="5.1" fill="#ad4a40"/>
<circle cx="698.15" cy="232.22" r="5.1" fill="#ad4a40"/>
<circle cx="712.93" cy="227.08" r="5.1" fill="#ad4a40"/>
<circle cx="727.5" cy="222.98" r="5.1" fill="#ad4a40"/>
<circle cx="742.28" cy="220.93" r="5.1" fill="#ad4a40"/>
<circle cx="756.65" cy="214.77" r="5.1" fill="#ad4a40"/>
<circle cx="771.44" cy="210.66" r="5.1" fill="#ad4a40"/>
<circle cx="785.81" cy="202.45" r="5.1" fill="#ad4a40"/>
<circle cx="800.38" cy="192.18" r="5.1" fill="#ad4a40"/>
<circle cx="815.16" cy="182.95" r="5.1" fill="#ad4a40"/>
<circle cx="829.54" cy="174.73" r="5.1" fill="#ad4a40"/>
<circle cx="844.32" cy="167.14" r="5.1" fill="#ad4a40"/>
<circle cx="858.69" cy="158.93" r="5.1" fill="#ad4a40"/>
<circle cx="873.26" cy="152.77" r="5.1" fill="#ad4a40"/>
<circle cx="887.63" cy="146.81" r="5.1" fill="#ad4a40"/>
<circle cx="902" cy="141.68" r="5.1" fill="#ad4a40"/>
<circle cx="916.38" cy="137.99" r="5.1" fill="#ad4a40"/>
<circle cx="931.16" cy="134.91" r="5.1" fill="#ad4a40"/>
<circle cx="945.53" cy="132.65" r="5.1" fill="#ad4a40"/>
<circle cx="960.31" cy="130.8" r="5.1" fill="#ad4a40"/>
<circle cx="974.68" cy="129.36" r="5.1" fill="#ad4a40"/>
<circle cx="989.05" cy="127.93" r="5.1" fill="#ad4a40"/>
<circle cx="1003.63" cy="126.9" r="5.1" fill="#ad4a40"/>
<circle cx="1018.41" cy="126.08" r="5.1" fill="#ad4a40"/>
<circle cx="624.85" cy="222.98" r="3.2" fill="none" stroke="#dfb244" stroke-width="2.9"/>
<circle cx="639.23" cy="222.98" r="3.2" fill="none" stroke="#dfb244" stroke-width="2.9"/>
<circle cx="654.01" cy="224.01" r="3.2" fill="none" stroke="#dfb244" stroke-width="2.9"/>
<circle cx="668.79" cy="222.98" r="3.2" fill="none" stroke="#dfb244" stroke-width="2.9"/>
<circle cx="683.77" cy="217.85" r="3.2" fill="none" stroke="#dfb244" stroke-width="2.9"/>
<circle cx="698.15" cy="215.79" r="3.2" fill="none" stroke="#dfb244" stroke-width="2.9"/>
<circle cx="712.93" cy="212.71" r="3.2" fill="none" stroke="#dfb244" stroke-width="2.9"/>
<circle cx="727.5" cy="211.69" r="3.2" fill="none" stroke="#dfb244" stroke-width="2.9"/>
<circle cx="742.28" cy="213.74" r="3.2" fill="none" stroke="#dfb244" stroke-width="2.9"/>
<circle cx="756.65" cy="216.82" r="3.2" fill="none" stroke="#dfb244" stroke-width="2.9"/>
<circle cx="771.44" cy="216.82" r="3.2" fill="none" stroke="#dfb244" stroke-width="2.9"/>
<circle cx="785.81" cy="220.93" r="3.2" fill="none" stroke="#dfb244" stroke-width="2.9"/>
<circle cx="800.38" cy="217.85" r="3.2" fill="none" stroke="#dfb244" stroke-width="2.9"/>
<circle cx="815.16" cy="216.82" r="3.2" fill="none" stroke="#dfb244" stroke-width="2.9"/>
<circle cx="829.54" cy="215.79" r="3.2" fill="none" stroke="#dfb244" stroke-width="2.9"/>
<circle cx="844.32" cy="227.08" r="3.2" fill="none" stroke="#dfb244" stroke-width="2.9"/>
<circle cx="858.69" cy="228.11" r="3.2" fill="none" stroke="#dfb244" stroke-width="2.9"/>
<circle cx="873.26" cy="228.11" r="3.2" fill="none" stroke="#dfb244" stroke-width="2.9"/>
<circle cx="887.63" cy="223.8" r="3.2" fill="none" stroke="#dfb244" stroke-width="2.9"/>
<circle cx="902" cy="224.21" r="3.2" fill="none" stroke="#dfb244" stroke-width="2.9"/>
<circle cx="916.38" cy="226.67" r="3.2" fill="none" stroke="#dfb244" stroke-width="2.9"/>
<circle cx="931.16" cy="232.83" r="3.2" fill="none" stroke="#dfb244" stroke-width="2.9"/>
<circle cx="945.53" cy="231.19" r="3.2" fill="none" stroke="#dfb244" stroke-width="2.9"/>
<circle cx="960.31" cy="233.24" r="3.2" fill="none" stroke="#dfb244" stroke-width="2.9"/>
<circle cx="974.68" cy="234.27" r="3.2" fill="none" stroke="#dfb244" stroke-width="2.9"/>
<circle cx="989.05" cy="234.68" r="3.2" fill="none" stroke="#dfb244" stroke-width="2.9"/>
<circle cx="1003.63" cy="236.94" r="3.2" fill="none" stroke="#dfb244" stroke-width="2.9"/>
<circle cx="1018.41" cy="229.34" r="3.2" fill="none" stroke="#dfb244" stroke-width="2.9"/>
<circle cx="624.85" cy="224.62" r="5.1" fill="#dfb244"/>
<circle cx="639.23" cy="221.95" r="5.1" fill="#dfb244"/>
<circle cx="654.01" cy="220.93" r="5.1" fill="#dfb244"/>
<circle cx="668.79" cy="221.95" r="5.1" fill="#dfb244"/>
<circle cx="683.77" cy="221.95" r="5.1" fill="#dfb244"/>
<circle cx="698.15" cy="221.95" r="5.1" fill="#dfb244"/>
<circle cx="712.93" cy="224.01" r="5.1" fill="#dfb244"/>
<circle cx="727.5" cy="218.87" r="5.1" fill="#dfb244"/>
<circle cx="742.28" cy="228.11" r="5.1" fill="#dfb244"/>
<circle cx="756.65" cy="219.9" r="5.1" fill="#dfb244"/>
<circle cx="771.44" cy="224.01" r="5.1" fill="#dfb244"/>
<circle cx="785.81" cy="220.93" r="5.1" fill="#dfb244"/>
<circle cx="800.38" cy="224.01" r="5.1" fill="#dfb244"/>
<circle cx="815.16" cy="220.93" r="5.1" fill="#dfb244"/>
<circle cx="829.54" cy="220.93" r="5.1" fill="#dfb244"/>
<circle cx="844.32" cy="224.01" r="5.1" fill="#dfb244"/>
<circle cx="858.69" cy="224.01" r="5.1" fill="#dfb244"/>
<circle cx="873.26" cy="224.01" r="5.1" fill="#dfb244"/>
<circle cx="916.38" cy="225.24" r="5.1" fill="#dfb244"/>
<circle cx="931.16" cy="222.77" r="5.1" fill="#dfb244"/>
<circle cx="945.53" cy="223.18" r="5.1" fill="#dfb244"/>
<circle cx="960.31" cy="223.18" r="5.1" fill="#dfb244"/>
<circle cx="974.68" cy="222.77" r="5.1" fill="#dfb244"/>
<circle cx="989.05" cy="222.36" r="5.1" fill="#dfb244"/>
<circle cx="1003.63" cy="222.36" r="5.1" fill="#dfb244"/>
<circle cx="1018.41" cy="219.9" r="5.1" fill="#dfb244"/>
<rect x="622.6" y="35.8" width="402.9" height="229" fill="none" stroke="#231f20" stroke-width="2.6"/>
<line x1="616.9" y1="264.8" x2="621.3" y2="264.8" stroke="#231f20" stroke-width="2" stroke-linecap="butt"/>
<line x1="619.3" y1="253.31" x2="621.3" y2="253.31" stroke="#231f20" stroke-width="1.6" stroke-linecap="butt"/>
<line x1="619.3" y1="246.59" x2="621.3" y2="246.59" stroke="#231f20" stroke-width="1.6" stroke-linecap="butt"/>
<line x1="619.3" y1="241.82" x2="621.3" y2="241.82" stroke="#231f20" stroke-width="1.6" stroke-linecap="butt"/>
<line x1="619.3" y1="238.12" x2="621.3" y2="238.12" stroke="#231f20" stroke-width="1.6" stroke-linecap="butt"/>
<line x1="619.3" y1="235.1" x2="621.3" y2="235.1" stroke="#231f20" stroke-width="1.6" stroke-linecap="butt"/>
<line x1="619.3" y1="232.55" x2="621.3" y2="232.55" stroke="#231f20" stroke-width="1.6" stroke-linecap="butt"/>
<line x1="619.3" y1="230.33" x2="621.3" y2="230.33" stroke="#231f20" stroke-width="1.6" stroke-linecap="butt"/>
<line x1="619.3" y1="228.38" x2="621.3" y2="228.38" stroke="#231f20" stroke-width="1.6" stroke-linecap="butt"/>
<line x1="616.9" y1="226.63" x2="621.3" y2="226.63" stroke="#231f20" stroke-width="2" stroke-linecap="butt"/>
<line x1="619.3" y1="215.14" x2="621.3" y2="215.14" stroke="#231f20" stroke-width="1.6" stroke-linecap="butt"/>
<line x1="619.3" y1="208.42" x2="621.3" y2="208.42" stroke="#231f20" stroke-width="1.6" stroke-linecap="butt"/>
<line x1="619.3" y1="203.65" x2="621.3" y2="203.65" stroke="#231f20" stroke-width="1.6" stroke-linecap="butt"/>
<line x1="619.3" y1="199.96" x2="621.3" y2="199.96" stroke="#231f20" stroke-width="1.6" stroke-linecap="butt"/>
<line x1="619.3" y1="196.93" x2="621.3" y2="196.93" stroke="#231f20" stroke-width="1.6" stroke-linecap="butt"/>
<line x1="619.3" y1="194.38" x2="621.3" y2="194.38" stroke="#231f20" stroke-width="1.6" stroke-linecap="butt"/>
<line x1="619.3" y1="192.17" x2="621.3" y2="192.17" stroke="#231f20" stroke-width="1.6" stroke-linecap="butt"/>
<line x1="619.3" y1="190.21" x2="621.3" y2="190.21" stroke="#231f20" stroke-width="1.6" stroke-linecap="butt"/>
<line x1="616.9" y1="188.47" x2="621.3" y2="188.47" stroke="#231f20" stroke-width="2" stroke-linecap="butt"/>
<line x1="619.3" y1="176.98" x2="621.3" y2="176.98" stroke="#231f20" stroke-width="1.6" stroke-linecap="butt"/>
<line x1="619.3" y1="170.26" x2="621.3" y2="170.26" stroke="#231f20" stroke-width="1.6" stroke-linecap="butt"/>
<line x1="619.3" y1="165.49" x2="621.3" y2="165.49" stroke="#231f20" stroke-width="1.6" stroke-linecap="butt"/>
<line x1="619.3" y1="161.79" x2="621.3" y2="161.79" stroke="#231f20" stroke-width="1.6" stroke-linecap="butt"/>
<line x1="619.3" y1="158.77" x2="621.3" y2="158.77" stroke="#231f20" stroke-width="1.6" stroke-linecap="butt"/>
<line x1="619.3" y1="156.21" x2="621.3" y2="156.21" stroke="#231f20" stroke-width="1.6" stroke-linecap="butt"/>
<line x1="619.3" y1="154" x2="621.3" y2="154" stroke="#231f20" stroke-width="1.6" stroke-linecap="butt"/>
<line x1="619.3" y1="152.05" x2="621.3" y2="152.05" stroke="#231f20" stroke-width="1.6" stroke-linecap="butt"/>
<line x1="616.9" y1="150.3" x2="621.3" y2="150.3" stroke="#231f20" stroke-width="2" stroke-linecap="butt"/>
<line x1="619.3" y1="138.81" x2="621.3" y2="138.81" stroke="#231f20" stroke-width="1.6" stroke-linecap="butt"/>
<line x1="619.3" y1="132.09" x2="621.3" y2="132.09" stroke="#231f20" stroke-width="1.6" stroke-linecap="butt"/>
<line x1="619.3" y1="127.32" x2="621.3" y2="127.32" stroke="#231f20" stroke-width="1.6" stroke-linecap="butt"/>
<line x1="619.3" y1="123.62" x2="621.3" y2="123.62" stroke="#231f20" stroke-width="1.6" stroke-linecap="butt"/>
<line x1="619.3" y1="120.6" x2="621.3" y2="120.6" stroke="#231f20" stroke-width="1.6" stroke-linecap="butt"/>
<line x1="619.3" y1="118.05" x2="621.3" y2="118.05" stroke="#231f20" stroke-width="1.6" stroke-linecap="butt"/>
<line x1="619.3" y1="115.83" x2="621.3" y2="115.83" stroke="#231f20" stroke-width="1.6" stroke-linecap="butt"/>
<line x1="619.3" y1="113.88" x2="621.3" y2="113.88" stroke="#231f20" stroke-width="1.6" stroke-linecap="butt"/>
<line x1="616.9" y1="112.13" x2="621.3" y2="112.13" stroke="#231f20" stroke-width="2" stroke-linecap="butt"/>
<line x1="619.3" y1="100.64" x2="621.3" y2="100.64" stroke="#231f20" stroke-width="1.6" stroke-linecap="butt"/>
<line x1="619.3" y1="93.92" x2="621.3" y2="93.92" stroke="#231f20" stroke-width="1.6" stroke-linecap="butt"/>
<line x1="619.3" y1="89.15" x2="621.3" y2="89.15" stroke="#231f20" stroke-width="1.6" stroke-linecap="butt"/>
<line x1="619.3" y1="85.46" x2="621.3" y2="85.46" stroke="#231f20" stroke-width="1.6" stroke-linecap="butt"/>
<line x1="619.3" y1="82.43" x2="621.3" y2="82.43" stroke="#231f20" stroke-width="1.6" stroke-linecap="butt"/>
<line x1="619.3" y1="79.88" x2="621.3" y2="79.88" stroke="#231f20" stroke-width="1.6" stroke-linecap="butt"/>
<line x1="619.3" y1="77.67" x2="621.3" y2="77.67" stroke="#231f20" stroke-width="1.6" stroke-linecap="butt"/>
<line x1="619.3" y1="75.71" x2="621.3" y2="75.71" stroke="#231f20" stroke-width="1.6" stroke-linecap="butt"/>
<line x1="616.9" y1="73.97" x2="621.3" y2="73.97" stroke="#231f20" stroke-width="2" stroke-linecap="butt"/>
<line x1="619.3" y1="62.48" x2="621.3" y2="62.48" stroke="#231f20" stroke-width="1.6" stroke-linecap="butt"/>
<line x1="619.3" y1="55.76" x2="621.3" y2="55.76" stroke="#231f20" stroke-width="1.6" stroke-linecap="butt"/>
<line x1="619.3" y1="50.99" x2="621.3" y2="50.99" stroke="#231f20" stroke-width="1.6" stroke-linecap="butt"/>
<line x1="619.3" y1="47.29" x2="621.3" y2="47.29" stroke="#231f20" stroke-width="1.6" stroke-linecap="butt"/>
<line x1="619.3" y1="44.27" x2="621.3" y2="44.27" stroke="#231f20" stroke-width="1.6" stroke-linecap="butt"/>
<line x1="619.3" y1="41.71" x2="621.3" y2="41.71" stroke="#231f20" stroke-width="1.6" stroke-linecap="butt"/>
<line x1="619.3" y1="39.5" x2="621.3" y2="39.5" stroke="#231f20" stroke-width="1.6" stroke-linecap="butt"/>
<line x1="619.3" y1="37.55" x2="621.3" y2="37.55" stroke="#231f20" stroke-width="1.6" stroke-linecap="butt"/>
<line x1="616.9" y1="35.8" x2="621.3" y2="35.8" stroke="#231f20" stroke-width="2" stroke-linecap="butt"/>
<text x="613.3" y="277.1" font-size="31" text-anchor="end" fill="#231f20" font-weight="bold">10<tspan font-size="18" dy="-10.3">−2</tspan></text>
<text x="613.3" y="238.93" font-size="31" text-anchor="end" fill="#231f20" font-weight="bold">10<tspan font-size="18" dy="-10.3">−1</tspan></text>
<text x="613.3" y="200.77" font-size="31" text-anchor="end" fill="#231f20" font-weight="bold">10<tspan font-size="18" dy="-10.3">0</tspan></text>
<text x="613.3" y="162.6" font-size="31" text-anchor="end" fill="#231f20" font-weight="bold">10<tspan font-size="18" dy="-10.3">1</tspan></text>
<text x="613.3" y="124.43" font-size="31" text-anchor="end" fill="#231f20" font-weight="bold">10<tspan font-size="18" dy="-10.3">2</tspan></text>
<text x="613.3" y="86.27" font-size="31" text-anchor="end" fill="#231f20" font-weight="bold">10<tspan font-size="18" dy="-10.3">3</tspan></text>
<text x="613.3" y="48.1" font-size="31" text-anchor="end" fill="#231f20" font-weight="bold">10<tspan font-size="18" dy="-10.3">4</tspan></text>
<line x1="622.3" y1="266.1" x2="622.3" y2="270.1" stroke="#231f20" stroke-width="2" stroke-linecap="butt"/>
<text x="622.3" y="299" font-size="31" text-anchor="middle" fill="#231f20" font-weight="bold">10</text>
<line x1="694.34" y1="266.1" x2="694.34" y2="270.1" stroke="#231f20" stroke-width="2" stroke-linecap="butt"/>
<text x="694.34" y="299" font-size="31" text-anchor="middle" fill="#231f20" font-weight="bold">15</text>
<line x1="766.38" y1="266.1" x2="766.38" y2="270.1" stroke="#231f20" stroke-width="2" stroke-linecap="butt"/>
<text x="766.38" y="299" font-size="31" text-anchor="middle" fill="#231f20" font-weight="bold">20</text>
<line x1="838.42" y1="266.1" x2="838.42" y2="270.1" stroke="#231f20" stroke-width="2" stroke-linecap="butt"/>
<text x="838.42" y="299" font-size="31" text-anchor="middle" fill="#231f20" font-weight="bold">25</text>
<line x1="910.46" y1="266.1" x2="910.46" y2="270.1" stroke="#231f20" stroke-width="2" stroke-linecap="butt"/>
<text x="910.46" y="299" font-size="31" text-anchor="middle" fill="#231f20" font-weight="bold">30</text>
<line x1="982.5" y1="266.1" x2="982.5" y2="270.1" stroke="#231f20" stroke-width="2" stroke-linecap="butt"/>
<text x="982.5" y="299" font-size="31" text-anchor="middle" fill="#231f20" font-weight="bold">35</text>
<line x1="658.32" y1="266.1" x2="658.32" y2="268.3" stroke="#231f20" stroke-width="1.8" stroke-linecap="butt"/>
<line x1="730.36" y1="266.1" x2="730.36" y2="268.3" stroke="#231f20" stroke-width="1.8" stroke-linecap="butt"/>
<line x1="802.4" y1="266.1" x2="802.4" y2="268.3" stroke="#231f20" stroke-width="1.8" stroke-linecap="butt"/>
<line x1="874.44" y1="266.1" x2="874.44" y2="268.3" stroke="#231f20" stroke-width="1.8" stroke-linecap="butt"/>
<line x1="946.48" y1="266.1" x2="946.48" y2="268.3" stroke="#231f20" stroke-width="1.8" stroke-linecap="butt"/>
<line x1="1018.52" y1="266.1" x2="1018.52" y2="268.3" stroke="#231f20" stroke-width="1.8" stroke-linecap="butt"/>
<text x="553.49" y="143.8" font-size="30.5" text-anchor="middle" fill="#231f20" font-weight="bold" transform="rotate(-90 553.49 143.8)">Modulus/Pa</text>
<text x="821" y="330.6" font-size="30.5" text-anchor="middle" fill="#231f20" font-weight="bold">Temperature/°C</text>
<circle cx="28.4" cy="361.4" r="6.8" fill="#0a0a0a"/>
<text x="60.5" y="372.4" font-size="26.4" text-anchor="start" fill="#231f20" font-weight="bold">10% (w/v) Gelatin microgel</text>
<circle cx="461.1" cy="361.4" r="6.8" fill="#ad4a40"/>
<text x="477.8" y="372.4" font-size="26.4" text-anchor="start" fill="#231f20" font-weight="bold">0.8% (w/v) Matrigel</text>
<circle cx="790.1" cy="361.4" r="6.8" fill="#dfb244"/>
<text x="807" y="372.4" font-size="26.4" text-anchor="start" fill="#231f20" font-weight="bold">2% (w/v) HAMA</text>
<circle cx="28.4" cy="398.8" r="6.8" fill="#4a8a5e"/>
<text x="60.5" y="409.8" font-size="26.4" text-anchor="start" fill="#231f20" font-weight="bold">5% (w/v) GelMA</text>
<circle cx="461.1" cy="398.8" r="6.8" fill="#435283"/>
<text x="477.8" y="409.8" font-size="26.4" text-anchor="start" fill="#231f20" font-weight="bold">5% (w/v) GelMA + 0.5% (w/v) Fibrin</text>
<circle cx="28.4" cy="436.2" r="6.8" fill="#0a0a0a"/>
<text x="60.5" y="447.1" font-size="26.4" text-anchor="start" fill="#231f20" font-weight="bold">G′</text>
<circle cx="461.1" cy="436.2" r="4.2" fill="none" stroke="#0a0a0a" stroke-width="3.8"/>
<text x="477.8" y="447.1" font-size="26.4" text-anchor="start" fill="#231f20" font-weight="bold">G″</text>
<path d="M97.58 667.46L102.18 675.42L92.98 675.42Z" fill="none" stroke="#435283" stroke-width="3.3" stroke-linejoin="round"/>
<path d="M107.53 666.44L112.13 674.41L102.93 674.41Z" fill="none" stroke="#435283" stroke-width="3.3" stroke-linejoin="round"/>
<path d="M117.48 666.04L122.08 674L112.88 674Z" fill="none" stroke="#435283" stroke-width="3.3" stroke-linejoin="round"/>
<path d="M127.42 669.49L132.02 677.45L122.82 677.45Z" fill="none" stroke="#435283" stroke-width="3.3" stroke-linejoin="round"/>
<path d="M137.37 670.5L141.97 678.47L132.77 678.47Z" fill="none" stroke="#435283" stroke-width="3.3" stroke-linejoin="round"/>
<path d="M147.32 669.49L151.92 677.45L142.72 677.45Z" fill="none" stroke="#435283" stroke-width="3.3" stroke-linejoin="round"/>
<path d="M157.27 668.47L161.87 676.44L152.67 676.44Z" fill="none" stroke="#435283" stroke-width="3.3" stroke-linejoin="round"/>
<path d="M167.22 668.47L171.82 676.44L162.62 676.44Z" fill="none" stroke="#435283" stroke-width="3.3" stroke-linejoin="round"/>
<path d="M177.17 667.46L181.77 675.42L172.57 675.42Z" fill="none" stroke="#435283" stroke-width="3.3" stroke-linejoin="round"/>
<path d="M187.12 666.44L191.72 674.41L182.52 674.41Z" fill="none" stroke="#435283" stroke-width="3.3" stroke-linejoin="round"/>
<path d="M197.07 668.07L201.67 676.03L192.47 676.03Z" fill="none" stroke="#435283" stroke-width="3.3" stroke-linejoin="round"/>
<path d="M207.02 669.49L211.62 677.45L202.42 677.45Z" fill="none" stroke="#435283" stroke-width="3.3" stroke-linejoin="round"/>
<path d="M216.97 670.5L221.57 678.47L212.37 678.47Z" fill="none" stroke="#435283" stroke-width="3.3" stroke-linejoin="round"/>
<path d="M226.92 670.91L231.52 678.87L222.32 678.87Z" fill="none" stroke="#435283" stroke-width="3.3" stroke-linejoin="round"/>
<path d="M236.87 670.5L241.47 678.47L232.27 678.47Z" fill="none" stroke="#435283" stroke-width="3.3" stroke-linejoin="round"/>
<path d="M246.82 668.88L251.42 676.84L242.22 676.84Z" fill="none" stroke="#435283" stroke-width="3.3" stroke-linejoin="round"/>
<path d="M256.77 666.04L261.37 674L252.17 674Z" fill="none" stroke="#435283" stroke-width="3.3" stroke-linejoin="round"/>
<path d="M266.72 663.4L271.32 671.37L262.12 671.37Z" fill="none" stroke="#435283" stroke-width="3.3" stroke-linejoin="round"/>
<path d="M276.67 662.39L281.27 670.35L272.07 670.35Z" fill="none" stroke="#435283" stroke-width="3.3" stroke-linejoin="round"/>
<path d="M286.62 664.01L291.22 671.98L282.02 671.98Z" fill="none" stroke="#435283" stroke-width="3.3" stroke-linejoin="round"/>
<path d="M296.57 662.79L301.17 670.76L291.97 670.76Z" fill="none" stroke="#435283" stroke-width="3.3" stroke-linejoin="round"/>
<path d="M306.52 655.9L311.12 663.86L301.92 663.86Z" fill="none" stroke="#435283" stroke-width="3.3" stroke-linejoin="round"/>
<path d="M316.47 646.16L321.07 654.13L311.87 654.13Z" fill="none" stroke="#435283" stroke-width="3.3" stroke-linejoin="round"/>
<path d="M326.42 637.64L331.02 645.61L321.82 645.61Z" fill="none" stroke="#435283" stroke-width="3.3" stroke-linejoin="round"/>
<path d="M336.37 629.93L340.97 637.9L331.77 637.9Z" fill="none" stroke="#435283" stroke-width="3.3" stroke-linejoin="round"/>
<path d="M346.31 622.22L350.91 630.19L341.71 630.19Z" fill="none" stroke="#435283" stroke-width="3.3" stroke-linejoin="round"/>
<path d="M356.26 613.7L360.86 621.67L351.66 621.67Z" fill="none" stroke="#435283" stroke-width="3.3" stroke-linejoin="round"/>
<path d="M366.21 603.16L370.81 611.12L361.61 611.12Z" fill="none" stroke="#435283" stroke-width="3.3" stroke-linejoin="round"/>
<path d="M376.16 590.38L380.76 598.35L371.56 598.35Z" fill="none" stroke="#435283" stroke-width="3.3" stroke-linejoin="round"/>
<path d="M386.11 578.21L390.71 586.18L381.51 586.18Z" fill="none" stroke="#435283" stroke-width="3.3" stroke-linejoin="round"/>
<path d="M396.06 566.04L400.66 574L391.46 574Z" fill="none" stroke="#435283" stroke-width="3.3" stroke-linejoin="round"/>
<path d="M406.01 554.88L410.61 562.85L401.41 562.85Z" fill="none" stroke="#435283" stroke-width="3.3" stroke-linejoin="round"/>
<path d="M415.96 542.71L420.56 550.68L411.36 550.68Z" fill="none" stroke="#435283" stroke-width="3.3" stroke-linejoin="round"/>
<path d="M425.91 530.54L430.51 538.51L421.31 538.51Z" fill="none" stroke="#435283" stroke-width="3.3" stroke-linejoin="round"/>
<path d="M435.86 517.36L440.46 525.32L431.26 525.32Z" fill="none" stroke="#435283" stroke-width="3.3" stroke-linejoin="round"/>
<path d="M445.81 503.16L450.41 511.12L441.21 511.12Z" fill="none" stroke="#435283" stroke-width="3.3" stroke-linejoin="round"/>
<path d="M455.76 494.03L460.36 502L451.16 502Z" fill="none" stroke="#435283" stroke-width="3.3" stroke-linejoin="round"/>
<path d="M465.71 485.92L470.31 493.88L461.11 493.88Z" fill="none" stroke="#435283" stroke-width="3.3" stroke-linejoin="round"/>
<path d="M475.66 482.87L480.26 490.84L471.06 490.84Z" fill="none" stroke="#435283" stroke-width="3.3" stroke-linejoin="round"/>
<path d="M485.61 480.24L490.21 488.2L481.01 488.2Z" fill="none" stroke="#435283" stroke-width="3.3" stroke-linejoin="round"/>
<path d="M97.58 672.23L101.58 676.83L97.58 681.43L93.58 676.83Z" fill="none" stroke="#dfb244" stroke-width="3.2" stroke-linejoin="miter"/>
<path d="M107.53 671.21L111.53 675.81L107.53 680.41L103.53 675.81Z" fill="none" stroke="#dfb244" stroke-width="3.2" stroke-linejoin="miter"/>
<path d="M117.48 670.2L121.48 674.8L117.48 679.4L113.48 674.8Z" fill="none" stroke="#dfb244" stroke-width="3.2" stroke-linejoin="miter"/>
<path d="M127.42 668.17L131.42 672.77L127.42 677.37L123.42 672.77Z" fill="none" stroke="#dfb244" stroke-width="3.2" stroke-linejoin="miter"/>
<path d="M137.37 666.14L141.37 670.74L137.37 675.34L133.37 670.74Z" fill="none" stroke="#dfb244" stroke-width="3.2" stroke-linejoin="miter"/>
<path d="M147.32 666.14L151.32 670.74L147.32 675.34L143.32 670.74Z" fill="none" stroke="#dfb244" stroke-width="3.2" stroke-linejoin="miter"/>
<path d="M157.27 665.53L161.27 670.13L157.27 674.73L153.27 670.13Z" fill="none" stroke="#dfb244" stroke-width="3.2" stroke-linejoin="miter"/>
<path d="M167.22 665.53L171.22 670.13L167.22 674.73L163.22 670.13Z" fill="none" stroke="#dfb244" stroke-width="3.2" stroke-linejoin="miter"/>
<path d="M177.17 664.72L181.17 669.32L177.17 673.92L173.17 669.32Z" fill="none" stroke="#dfb244" stroke-width="3.2" stroke-linejoin="miter"/>
<path d="M187.12 664.11L191.12 668.71L187.12 673.31L183.12 668.71Z" fill="none" stroke="#dfb244" stroke-width="3.2" stroke-linejoin="miter"/>
<path d="M197.07 664.72L201.07 669.32L197.07 673.92L193.07 669.32Z" fill="none" stroke="#dfb244" stroke-width="3.2" stroke-linejoin="miter"/>
<path d="M207.02 665.53L211.02 670.13L207.02 674.73L203.02 670.13Z" fill="none" stroke="#dfb244" stroke-width="3.2" stroke-linejoin="miter"/>
<path d="M216.97 665.53L220.97 670.13L216.97 674.73L212.97 670.13Z" fill="none" stroke="#dfb244" stroke-width="3.2" stroke-linejoin="miter"/>
<path d="M226.92 664.11L230.92 668.71L226.92 673.31L222.92 668.71Z" fill="none" stroke="#dfb244" stroke-width="3.2" stroke-linejoin="miter"/>
<path d="M236.87 661.07L240.87 665.67L236.87 670.27L232.87 665.67Z" fill="none" stroke="#dfb244" stroke-width="3.2" stroke-linejoin="miter"/>
<path d="M246.82 657.01L250.82 661.61L246.82 666.21L242.82 661.61Z" fill="none" stroke="#dfb244" stroke-width="3.2" stroke-linejoin="miter"/>
<path d="M256.77 652.96L260.77 657.56L256.77 662.16L252.77 657.56Z" fill="none" stroke="#dfb244" stroke-width="3.2" stroke-linejoin="miter"/>
<path d="M266.72 648.49L270.72 653.09L266.72 657.69L262.72 653.09Z" fill="none" stroke="#dfb244" stroke-width="3.2" stroke-linejoin="miter"/>
<path d="M276.67 641.19L280.67 645.79L276.67 650.39L272.67 645.79Z" fill="none" stroke="#dfb244" stroke-width="3.2" stroke-linejoin="miter"/>
<path d="M286.62 633.69L290.62 638.29L286.62 642.89L282.62 638.29Z" fill="none" stroke="#dfb244" stroke-width="3.2" stroke-linejoin="miter"/>
<path d="M296.57 624.56L300.57 629.16L296.57 633.76L292.57 629.16Z" fill="none" stroke="#dfb244" stroke-width="3.2" stroke-linejoin="miter"/>
<path d="M306.52 614.82L310.52 619.42L306.52 624.02L302.52 619.42Z" fill="none" stroke="#dfb244" stroke-width="3.2" stroke-linejoin="miter"/>
<path d="M316.47 604.68L320.47 609.28L316.47 613.88L312.47 609.28Z" fill="none" stroke="#dfb244" stroke-width="3.2" stroke-linejoin="miter"/>
<path d="M326.42 595.15L330.42 599.75L326.42 604.35L322.42 599.75Z" fill="none" stroke="#dfb244" stroke-width="3.2" stroke-linejoin="miter"/>
<path d="M336.37 586.42L340.37 591.02L336.37 595.62L332.37 591.02Z" fill="none" stroke="#dfb244" stroke-width="3.2" stroke-linejoin="miter"/>
<path d="M346.31 577.5L350.31 582.1L346.31 586.7L342.31 582.1Z" fill="none" stroke="#dfb244" stroke-width="3.2" stroke-linejoin="miter"/>
<path d="M356.26 569.39L360.26 573.99L356.26 578.59L352.26 573.99Z" fill="none" stroke="#dfb244" stroke-width="3.2" stroke-linejoin="miter"/>
<path d="M366.21 561.27L370.21 565.87L366.21 570.47L362.21 565.87Z" fill="none" stroke="#dfb244" stroke-width="3.2" stroke-linejoin="miter"/>
<path d="M376.16 553.56L380.16 558.16L376.16 562.76L372.16 558.16Z" fill="none" stroke="#dfb244" stroke-width="3.2" stroke-linejoin="miter"/>
<path d="M386.11 545.86L390.11 550.46L386.11 555.06L382.11 550.46Z" fill="none" stroke="#dfb244" stroke-width="3.2" stroke-linejoin="miter"/>
<path d="M396.06 538.35L400.06 542.95L396.06 547.55L392.06 542.95Z" fill="none" stroke="#dfb244" stroke-width="3.2" stroke-linejoin="miter"/>
<path d="M406.01 531.25L410.01 535.85L406.01 540.45L402.01 535.85Z" fill="none" stroke="#dfb244" stroke-width="3.2" stroke-linejoin="miter"/>
<path d="M415.96 524.15L419.96 528.75L415.96 533.35L411.96 528.75Z" fill="none" stroke="#dfb244" stroke-width="3.2" stroke-linejoin="miter"/>
<path d="M425.91 518.07L429.91 522.67L425.91 527.27L421.91 522.67Z" fill="none" stroke="#dfb244" stroke-width="3.2" stroke-linejoin="miter"/>
<path d="M435.86 511.98L439.86 516.58L435.86 521.18L431.86 516.58Z" fill="none" stroke="#dfb244" stroke-width="3.2" stroke-linejoin="miter"/>
<path d="M445.81 507.93L449.81 512.53L445.81 517.13L441.81 512.53Z" fill="none" stroke="#dfb244" stroke-width="3.2" stroke-linejoin="miter"/>
<path d="M455.76 506.91L459.76 511.51L455.76 516.11L451.76 511.51Z" fill="none" stroke="#dfb244" stroke-width="3.2" stroke-linejoin="miter"/>
<path d="M465.71 505.29L469.71 509.89L465.71 514.49L461.71 509.89Z" fill="none" stroke="#dfb244" stroke-width="3.2" stroke-linejoin="miter"/>
<path d="M475.66 505.29L479.66 509.89L475.66 514.49L471.66 509.89Z" fill="none" stroke="#dfb244" stroke-width="3.2" stroke-linejoin="miter"/>
<path d="M485.61 504.48L489.61 509.08L485.61 513.68L481.61 509.08Z" fill="none" stroke="#dfb244" stroke-width="3.2" stroke-linejoin="miter"/>
<rect x="92.5" y="480.8" width="400.3" height="277.9" fill="none" stroke="#231f20" stroke-width="2.6"/>
<line x1="89.2" y1="758.88" x2="91.2" y2="758.88" stroke="#231f20" stroke-width="1.6" stroke-linecap="butt"/>
<line x1="89.2" y1="721.2" x2="91.2" y2="721.2" stroke="#231f20" stroke-width="1.6" stroke-linecap="butt"/>
<line x1="89.2" y1="694.46" x2="91.2" y2="694.46" stroke="#231f20" stroke-width="1.6" stroke-linecap="butt"/>
<line x1="89.2" y1="673.72" x2="91.2" y2="673.72" stroke="#231f20" stroke-width="1.6" stroke-linecap="butt"/>
<line x1="89.2" y1="656.78" x2="91.2" y2="656.78" stroke="#231f20" stroke-width="1.6" stroke-linecap="butt"/>
<line x1="89.2" y1="642.45" x2="91.2" y2="642.45" stroke="#231f20" stroke-width="1.6" stroke-linecap="butt"/>
<line x1="89.2" y1="630.04" x2="91.2" y2="630.04" stroke="#231f20" stroke-width="1.6" stroke-linecap="butt"/>
<line x1="89.2" y1="619.09" x2="91.2" y2="619.09" stroke="#231f20" stroke-width="1.6" stroke-linecap="butt"/>
<line x1="89.2" y1="544.88" x2="91.2" y2="544.88" stroke="#231f20" stroke-width="1.6" stroke-linecap="butt"/>
<line x1="89.2" y1="507.2" x2="91.2" y2="507.2" stroke="#231f20" stroke-width="1.6" stroke-linecap="butt"/>
<line x1="87" y1="609.3" x2="91.2" y2="609.3" stroke="#231f20" stroke-width="2" stroke-linecap="butt"/>
<text x="81.7" y="618.9" font-size="31" text-anchor="end" fill="#231f20" font-weight="bold">10<tspan font-size="18" dy="-10.3">1</tspan></text>
<line x1="92.5" y1="760" x2="92.5" y2="764.2" stroke="#231f20" stroke-width="2" stroke-linecap="butt"/>
<line x1="122.02" y1="760" x2="122.02" y2="761.9" stroke="#231f20" stroke-width="1.6" stroke-linecap="butt"/>
<line x1="139.28" y1="760" x2="139.28" y2="761.9" stroke="#231f20" stroke-width="1.6" stroke-linecap="butt"/>
<line x1="151.53" y1="760" x2="151.53" y2="761.9" stroke="#231f20" stroke-width="1.6" stroke-linecap="butt"/>
<line x1="161.03" y1="760" x2="161.03" y2="761.9" stroke="#231f20" stroke-width="1.6" stroke-linecap="butt"/>
<line x1="168.8" y1="760" x2="168.8" y2="761.9" stroke="#231f20" stroke-width="1.6" stroke-linecap="butt"/>
<line x1="175.36" y1="760" x2="175.36" y2="761.9" stroke="#231f20" stroke-width="1.6" stroke-linecap="butt"/>
<line x1="181.05" y1="760" x2="181.05" y2="761.9" stroke="#231f20" stroke-width="1.6" stroke-linecap="butt"/>
<line x1="186.06" y1="760" x2="186.06" y2="761.9" stroke="#231f20" stroke-width="1.6" stroke-linecap="butt"/>
<line x1="190.55" y1="760" x2="190.55" y2="764.2" stroke="#231f20" stroke-width="2" stroke-linecap="butt"/>
<line x1="220.07" y1="760" x2="220.07" y2="761.9" stroke="#231f20" stroke-width="1.6" stroke-linecap="butt"/>
<line x1="237.33" y1="760" x2="237.33" y2="761.9" stroke="#231f20" stroke-width="1.6" stroke-linecap="butt"/>
<line x1="249.58" y1="760" x2="249.58" y2="761.9" stroke="#231f20" stroke-width="1.6" stroke-linecap="butt"/>
<line x1="259.08" y1="760" x2="259.08" y2="761.9" stroke="#231f20" stroke-width="1.6" stroke-linecap="butt"/>
<line x1="266.85" y1="760" x2="266.85" y2="761.9" stroke="#231f20" stroke-width="1.6" stroke-linecap="butt"/>
<line x1="273.41" y1="760" x2="273.41" y2="761.9" stroke="#231f20" stroke-width="1.6" stroke-linecap="butt"/>
<line x1="279.1" y1="760" x2="279.1" y2="761.9" stroke="#231f20" stroke-width="1.6" stroke-linecap="butt"/>
<line x1="284.11" y1="760" x2="284.11" y2="761.9" stroke="#231f20" stroke-width="1.6" stroke-linecap="butt"/>
<line x1="288.6" y1="760" x2="288.6" y2="764.2" stroke="#231f20" stroke-width="2" stroke-linecap="butt"/>
<line x1="318.12" y1="760" x2="318.12" y2="761.9" stroke="#231f20" stroke-width="1.6" stroke-linecap="butt"/>
<line x1="335.38" y1="760" x2="335.38" y2="761.9" stroke="#231f20" stroke-width="1.6" stroke-linecap="butt"/>
<line x1="347.63" y1="760" x2="347.63" y2="761.9" stroke="#231f20" stroke-width="1.6" stroke-linecap="butt"/>
<line x1="357.13" y1="760" x2="357.13" y2="761.9" stroke="#231f20" stroke-width="1.6" stroke-linecap="butt"/>
<line x1="364.9" y1="760" x2="364.9" y2="761.9" stroke="#231f20" stroke-width="1.6" stroke-linecap="butt"/>
<line x1="371.46" y1="760" x2="371.46" y2="761.9" stroke="#231f20" stroke-width="1.6" stroke-linecap="butt"/>
<line x1="377.15" y1="760" x2="377.15" y2="761.9" stroke="#231f20" stroke-width="1.6" stroke-linecap="butt"/>
<line x1="382.16" y1="760" x2="382.16" y2="761.9" stroke="#231f20" stroke-width="1.6" stroke-linecap="butt"/>
<line x1="386.65" y1="760" x2="386.65" y2="764.2" stroke="#231f20" stroke-width="2" stroke-linecap="butt"/>
<line x1="416.17" y1="760" x2="416.17" y2="761.9" stroke="#231f20" stroke-width="1.6" stroke-linecap="butt"/>
<line x1="433.43" y1="760" x2="433.43" y2="761.9" stroke="#231f20" stroke-width="1.6" stroke-linecap="butt"/>
<line x1="445.68" y1="760" x2="445.68" y2="761.9" stroke="#231f20" stroke-width="1.6" stroke-linecap="butt"/>
<line x1="455.18" y1="760" x2="455.18" y2="761.9" stroke="#231f20" stroke-width="1.6" stroke-linecap="butt"/>
<line x1="462.95" y1="760" x2="462.95" y2="761.9" stroke="#231f20" stroke-width="1.6" stroke-linecap="butt"/>
<line x1="469.51" y1="760" x2="469.51" y2="761.9" stroke="#231f20" stroke-width="1.6" stroke-linecap="butt"/>
<line x1="475.2" y1="760" x2="475.2" y2="761.9" stroke="#231f20" stroke-width="1.6" stroke-linecap="butt"/>
<line x1="480.21" y1="760" x2="480.21" y2="761.9" stroke="#231f20" stroke-width="1.6" stroke-linecap="butt"/>
<line x1="484.7" y1="760" x2="484.7" y2="764.2" stroke="#231f20" stroke-width="2" stroke-linecap="butt"/>
<text x="92.5" y="798.2" font-size="31" text-anchor="middle" fill="#231f20" font-weight="bold">10<tspan font-size="18" dy="-10.3">−2</tspan></text>
<text x="190.55" y="798.2" font-size="31" text-anchor="middle" fill="#231f20" font-weight="bold">10<tspan font-size="18" dy="-10.3">−1</tspan></text>
<text x="288.6" y="798.2" font-size="31" text-anchor="middle" fill="#231f20" font-weight="bold">10<tspan font-size="18" dy="-10.3">0</tspan></text>
<text x="386.65" y="798.2" font-size="31" text-anchor="middle" fill="#231f20" font-weight="bold">10<tspan font-size="18" dy="-10.3">1</tspan></text>
<text x="484.7" y="798.2" font-size="31" text-anchor="middle" fill="#231f20" font-weight="bold">10<tspan font-size="18" dy="-10.3">2</tspan></text>
<text x="31.29" y="630.9" font-size="30.5" text-anchor="middle" fill="#231f20" font-weight="bold" transform="rotate(-90 31.29 630.9)">Shear stress/Pa</text>
<text x="198" y="836.3" font-size="30.5" font-weight="bold" fill="#231f20">Shear rate/s<tspan font-size="18" dy="-12">−1</tspan></text>
<circle cx="615.59" cy="661.77" r="3.1" fill="none" stroke="#dfb244" stroke-width="2.7"/>
<circle cx="626.34" cy="653.71" r="3.1" fill="none" stroke="#dfb244" stroke-width="2.7"/>
<circle cx="641.67" cy="653.71" r="3.1" fill="none" stroke="#dfb244" stroke-width="2.7"/>
<circle cx="657.8" cy="655.05" r="3.1" fill="none" stroke="#dfb244" stroke-width="2.7"/>
<circle cx="673.92" cy="655.59" r="3.1" fill="none" stroke="#dfb244" stroke-width="2.7"/>
<circle cx="689.52" cy="657.2" r="3.1" fill="none" stroke="#dfb244" stroke-width="2.7"/>
<circle cx="705.65" cy="658.28" r="3.1" fill="none" stroke="#dfb244" stroke-width="2.7"/>
<circle cx="721.24" cy="659.89" r="3.1" fill="none" stroke="#dfb244" stroke-width="2.7"/>
<circle cx="736.56" cy="662.58" r="3.1" fill="none" stroke="#dfb244" stroke-width="2.7"/>
<circle cx="751.88" cy="666.34" r="3.1" fill="none" stroke="#dfb244" stroke-width="2.7"/>
<circle cx="767.47" cy="671.72" r="3.1" fill="none" stroke="#dfb244" stroke-width="2.7"/>
<circle cx="782.8" cy="676.56" r="3.1" fill="none" stroke="#dfb244" stroke-width="2.7"/>
<circle cx="797.85" cy="688.66" r="3.1" fill="none" stroke="#dfb244" stroke-width="2.7"/>
<circle cx="813.17" cy="691.34" r="3.1" fill="none" stroke="#dfb244" stroke-width="2.7"/>
<circle cx="828.49" cy="691.34" r="3.1" fill="none" stroke="#dfb244" stroke-width="2.7"/>
<circle cx="844.09" cy="692.69" r="3.1" fill="none" stroke="#dfb244" stroke-width="2.7"/>
<circle cx="859.41" cy="695.38" r="3.1" fill="none" stroke="#dfb244" stroke-width="2.7"/>
<circle cx="874.46" cy="694.03" r="3.1" fill="none" stroke="#dfb244" stroke-width="2.7"/>
<circle cx="889.78" cy="692.15" r="3.1" fill="none" stroke="#dfb244" stroke-width="2.7"/>
<circle cx="905.11" cy="696.72" r="3.1" fill="none" stroke="#dfb244" stroke-width="2.7"/>
<circle cx="920.7" cy="695.38" r="3.1" fill="none" stroke="#dfb244" stroke-width="2.7"/>
<circle cx="936.02" cy="696.72" r="3.1" fill="none" stroke="#dfb244" stroke-width="2.7"/>
<circle cx="951.61" cy="696.72" r="3.1" fill="none" stroke="#dfb244" stroke-width="2.7"/>
<circle cx="966.94" cy="696.72" r="3.1" fill="none" stroke="#dfb244" stroke-width="2.7"/>
<circle cx="982.53" cy="697.53" r="3.1" fill="none" stroke="#dfb244" stroke-width="2.7"/>
<circle cx="997.85" cy="699.41" r="3.1" fill="none" stroke="#dfb244" stroke-width="2.7"/>
<circle cx="1009.41" cy="697.53" r="3.1" fill="none" stroke="#dfb244" stroke-width="2.7"/>
<circle cx="615.59" cy="593.23" r="4.85" fill="#dfb244"/>
<circle cx="626.34" cy="591.88" r="4.85" fill="#dfb244"/>
<circle cx="641.67" cy="591.88" r="4.85" fill="#dfb244"/>
<circle cx="657.8" cy="592.69" r="4.85" fill="#dfb244"/>
<circle cx="673.92" cy="595.91" r="4.85" fill="#dfb244"/>
<circle cx="689.52" cy="600.75" r="4.85" fill="#dfb244"/>
<circle cx="705.65" cy="606.67" r="4.85" fill="#dfb244"/>
<circle cx="721.24" cy="615.27" r="4.85" fill="#dfb244"/>
<circle cx="736.56" cy="625.48" r="4.85" fill="#dfb244"/>
<circle cx="767.47" cy="659.09" r="4.85" fill="#dfb244"/>
<circle cx="797.85" cy="692.69" r="4.85" fill="#dfb244"/>
<circle cx="813.17" cy="694.03" r="4.85" fill="#dfb244"/>
<circle cx="828.49" cy="700.75" r="4.85" fill="#dfb244"/>
<circle cx="844.09" cy="703.98" r="4.85" fill="#dfb244"/>
<circle cx="859.41" cy="700.75" r="4.85" fill="#dfb244"/>
<circle cx="874.46" cy="707.47" r="4.85" fill="#dfb244"/>
<circle cx="889.78" cy="715.54" r="4.85" fill="#dfb244"/>
<circle cx="905.11" cy="706.13" r="4.85" fill="#dfb244"/>
<circle cx="920.7" cy="706.67" r="4.85" fill="#dfb244"/>
<circle cx="936.02" cy="711.51" r="4.85" fill="#dfb244"/>
<circle cx="951.61" cy="716.34" r="4.85" fill="#dfb244"/>
<circle cx="966.94" cy="717.42" r="4.85" fill="#dfb244"/>
<circle cx="982.53" cy="713.66" r="4.85" fill="#dfb244"/>
<circle cx="997.85" cy="716.88" r="4.85" fill="#dfb244"/>
<circle cx="1009.41" cy="718.23" r="4.85" fill="#dfb244"/>
<circle cx="615.59" cy="631.4" r="3.1" fill="none" stroke="#435283" stroke-width="2.7"/>
<circle cx="626.34" cy="631.4" r="3.1" fill="none" stroke="#435283" stroke-width="2.7"/>
<circle cx="641.67" cy="632.2" r="3.1" fill="none" stroke="#435283" stroke-width="2.7"/>
<circle cx="657.8" cy="633.01" r="3.1" fill="none" stroke="#435283" stroke-width="2.7"/>
<circle cx="673.92" cy="633.55" r="3.1" fill="none" stroke="#435283" stroke-width="2.7"/>
<circle cx="689.52" cy="634.89" r="3.1" fill="none" stroke="#435283" stroke-width="2.7"/>
<circle cx="705.65" cy="636.24" r="3.1" fill="none" stroke="#435283" stroke-width="2.7"/>
<circle cx="721.24" cy="637.58" r="3.1" fill="none" stroke="#435283" stroke-width="2.7"/>
<circle cx="736.56" cy="638.92" r="3.1" fill="none" stroke="#435283" stroke-width="2.7"/>
<circle cx="751.88" cy="639.46" r="3.1" fill="none" stroke="#435283" stroke-width="2.7"/>
<circle cx="767.47" cy="641.08" r="3.1" fill="none" stroke="#435283" stroke-width="2.7"/>
<circle cx="782.8" cy="642.15" r="3.1" fill="none" stroke="#435283" stroke-width="2.7"/>
<circle cx="797.85" cy="643.76" r="3.1" fill="none" stroke="#435283" stroke-width="2.7"/>
<circle cx="813.17" cy="644.3" r="3.1" fill="none" stroke="#435283" stroke-width="2.7"/>
<circle cx="828.49" cy="647.53" r="3.1" fill="none" stroke="#435283" stroke-width="2.7"/>
<circle cx="844.09" cy="646.99" r="3.1" fill="none" stroke="#435283" stroke-width="2.7"/>
<circle cx="859.41" cy="652.37" r="3.1" fill="none" stroke="#435283" stroke-width="2.7"/>
<circle cx="874.46" cy="657.2" r="3.1" fill="none" stroke="#435283" stroke-width="2.7"/>
<circle cx="889.78" cy="667.15" r="3.1" fill="none" stroke="#435283" stroke-width="2.7"/>
<circle cx="905.11" cy="700.75" r="3.1" fill="none" stroke="#435283" stroke-width="2.7"/>
<circle cx="920.7" cy="734.35" r="3.1" fill="none" stroke="#435283" stroke-width="2.7"/>
<circle cx="936.02" cy="728.17" r="3.1" fill="none" stroke="#435283" stroke-width="2.7"/>
<circle cx="951.61" cy="733.01" r="3.1" fill="none" stroke="#435283" stroke-width="2.7"/>
<circle cx="966.94" cy="743.76" r="3.1" fill="none" stroke="#435283" stroke-width="2.7"/>
<circle cx="982.53" cy="741.08" r="3.1" fill="none" stroke="#435283" stroke-width="2.7"/>
<circle cx="997.85" cy="743.76" r="3.1" fill="none" stroke="#435283" stroke-width="2.7"/>
<circle cx="1009.41" cy="743.23" r="3.1" fill="none" stroke="#435283" stroke-width="2.7"/>
<circle cx="615.59" cy="499.14" r="4.85" fill="#435283"/>
<circle cx="626.34" cy="500.48" r="4.85" fill="#435283"/>
<circle cx="641.67" cy="501.83" r="4.85" fill="#435283"/>
<circle cx="657.8" cy="502.63" r="4.85" fill="#435283"/>
<circle cx="673.92" cy="503.98" r="4.85" fill="#435283"/>
<circle cx="689.52" cy="505.05" r="4.85" fill="#435283"/>
<circle cx="705.65" cy="506.67" r="4.85" fill="#435283"/>
<circle cx="721.24" cy="509.35" r="4.85" fill="#435283"/>
<circle cx="736.56" cy="511.24" r="4.85" fill="#435283"/>
<circle cx="751.88" cy="513.92" r="4.85" fill="#435283"/>
<circle cx="767.47" cy="517.96" r="4.85" fill="#435283"/>
<circle cx="782.8" cy="521.99" r="4.85" fill="#435283"/>
<circle cx="797.85" cy="527.37" r="4.85" fill="#435283"/>
<circle cx="813.17" cy="534.62" r="4.85" fill="#435283"/>
<circle cx="828.49" cy="544.3" r="4.85" fill="#435283"/>
<circle cx="844.09" cy="559.62" r="4.85" fill="#435283"/>
<circle cx="859.41" cy="584.35" r="4.85" fill="#435283"/>
<circle cx="874.46" cy="626.83" r="4.85" fill="#435283"/>
<circle cx="889.78" cy="674.41" r="4.85" fill="#435283"/>
<circle cx="920.7" cy="728.98" r="4.85" fill="#435283"/>
<circle cx="936.02" cy="735.7" r="4.85" fill="#435283"/>
<circle cx="951.61" cy="738.92" r="4.85" fill="#435283"/>
<circle cx="966.94" cy="737.04" r="4.85" fill="#435283"/>
<circle cx="982.53" cy="737.04" r="4.85" fill="#435283"/>
<circle cx="997.85" cy="735.7" r="4.85" fill="#435283"/>
<circle cx="1009.41" cy="735.7" r="4.85" fill="#435283"/>
<rect x="607.5" y="480.3" width="401.9" height="279.1" fill="none" stroke="#231f20" stroke-width="2.6"/>
<line x1="604.2" y1="759.14" x2="606.2" y2="759.14" stroke="#231f20" stroke-width="1.6" stroke-linecap="butt"/>
<line x1="604.2" y1="754.53" x2="606.2" y2="754.53" stroke="#231f20" stroke-width="1.6" stroke-linecap="butt"/>
<line x1="604.2" y1="750.63" x2="606.2" y2="750.63" stroke="#231f20" stroke-width="1.6" stroke-linecap="butt"/>
<line x1="604.2" y1="747.25" x2="606.2" y2="747.25" stroke="#231f20" stroke-width="1.6" stroke-linecap="butt"/>
<line x1="604.2" y1="744.27" x2="606.2" y2="744.27" stroke="#231f20" stroke-width="1.6" stroke-linecap="butt"/>
<line x1="601.7" y1="741.6" x2="606.2" y2="741.6" stroke="#231f20" stroke-width="2" stroke-linecap="butt"/>
<line x1="604.2" y1="724.06" x2="606.2" y2="724.06" stroke="#231f20" stroke-width="1.6" stroke-linecap="butt"/>
<line x1="604.2" y1="713.8" x2="606.2" y2="713.8" stroke="#231f20" stroke-width="1.6" stroke-linecap="butt"/>
<line x1="604.2" y1="706.51" x2="606.2" y2="706.51" stroke="#231f20" stroke-width="1.6" stroke-linecap="butt"/>
<line x1="604.2" y1="700.87" x2="606.2" y2="700.87" stroke="#231f20" stroke-width="1.6" stroke-linecap="butt"/>
<line x1="604.2" y1="696.25" x2="606.2" y2="696.25" stroke="#231f20" stroke-width="1.6" stroke-linecap="butt"/>
<line x1="604.2" y1="692.35" x2="606.2" y2="692.35" stroke="#231f20" stroke-width="1.6" stroke-linecap="butt"/>
<line x1="604.2" y1="688.97" x2="606.2" y2="688.97" stroke="#231f20" stroke-width="1.6" stroke-linecap="butt"/>
<line x1="604.2" y1="685.99" x2="606.2" y2="685.99" stroke="#231f20" stroke-width="1.6" stroke-linecap="butt"/>
<line x1="601.7" y1="683.33" x2="606.2" y2="683.33" stroke="#231f20" stroke-width="2" stroke-linecap="butt"/>
<line x1="604.2" y1="665.78" x2="606.2" y2="665.78" stroke="#231f20" stroke-width="1.6" stroke-linecap="butt"/>
<line x1="604.2" y1="655.52" x2="606.2" y2="655.52" stroke="#231f20" stroke-width="1.6" stroke-linecap="butt"/>
<line x1="604.2" y1="648.24" x2="606.2" y2="648.24" stroke="#231f20" stroke-width="1.6" stroke-linecap="butt"/>
<line x1="604.2" y1="642.59" x2="606.2" y2="642.59" stroke="#231f20" stroke-width="1.6" stroke-linecap="butt"/>
<line x1="604.2" y1="637.98" x2="606.2" y2="637.98" stroke="#231f20" stroke-width="1.6" stroke-linecap="butt"/>
<line x1="604.2" y1="634.08" x2="606.2" y2="634.08" stroke="#231f20" stroke-width="1.6" stroke-linecap="butt"/>
<line x1="604.2" y1="630.7" x2="606.2" y2="630.7" stroke="#231f20" stroke-width="1.6" stroke-linecap="butt"/>
<line x1="604.2" y1="627.72" x2="606.2" y2="627.72" stroke="#231f20" stroke-width="1.6" stroke-linecap="butt"/>
<line x1="601.7" y1="625.05" x2="606.2" y2="625.05" stroke="#231f20" stroke-width="2" stroke-linecap="butt"/>
<line x1="604.2" y1="607.51" x2="606.2" y2="607.51" stroke="#231f20" stroke-width="1.6" stroke-linecap="butt"/>
<line x1="604.2" y1="597.25" x2="606.2" y2="597.25" stroke="#231f20" stroke-width="1.6" stroke-linecap="butt"/>
<line x1="604.2" y1="589.96" x2="606.2" y2="589.96" stroke="#231f20" stroke-width="1.6" stroke-linecap="butt"/>
<line x1="604.2" y1="584.32" x2="606.2" y2="584.32" stroke="#231f20" stroke-width="1.6" stroke-linecap="butt"/>
<line x1="604.2" y1="579.7" x2="606.2" y2="579.7" stroke="#231f20" stroke-width="1.6" stroke-linecap="butt"/>
<line x1="604.2" y1="575.8" x2="606.2" y2="575.8" stroke="#231f20" stroke-width="1.6" stroke-linecap="butt"/>
<line x1="604.2" y1="572.42" x2="606.2" y2="572.42" stroke="#231f20" stroke-width="1.6" stroke-linecap="butt"/>
<line x1="604.2" y1="569.44" x2="606.2" y2="569.44" stroke="#231f20" stroke-width="1.6" stroke-linecap="butt"/>
<line x1="601.7" y1="566.77" x2="606.2" y2="566.77" stroke="#231f20" stroke-width="2" stroke-linecap="butt"/>
<line x1="604.2" y1="549.23" x2="606.2" y2="549.23" stroke="#231f20" stroke-width="1.6" stroke-linecap="butt"/>
<line x1="604.2" y1="538.97" x2="606.2" y2="538.97" stroke="#231f20" stroke-width="1.6" stroke-linecap="butt"/>
<line x1="604.2" y1="531.69" x2="606.2" y2="531.69" stroke="#231f20" stroke-width="1.6" stroke-linecap="butt"/>
<line x1="604.2" y1="526.04" x2="606.2" y2="526.04" stroke="#231f20" stroke-width="1.6" stroke-linecap="butt"/>
<line x1="604.2" y1="521.43" x2="606.2" y2="521.43" stroke="#231f20" stroke-width="1.6" stroke-linecap="butt"/>
<line x1="604.2" y1="517.53" x2="606.2" y2="517.53" stroke="#231f20" stroke-width="1.6" stroke-linecap="butt"/>
<line x1="604.2" y1="514.15" x2="606.2" y2="514.15" stroke="#231f20" stroke-width="1.6" stroke-linecap="butt"/>
<line x1="604.2" y1="511.17" x2="606.2" y2="511.17" stroke="#231f20" stroke-width="1.6" stroke-linecap="butt"/>
<line x1="601.7" y1="508.5" x2="606.2" y2="508.5" stroke="#231f20" stroke-width="2" stroke-linecap="butt"/>
<line x1="604.2" y1="490.96" x2="606.2" y2="490.96" stroke="#231f20" stroke-width="1.6" stroke-linecap="butt"/>
<line x1="604.2" y1="480.7" x2="606.2" y2="480.7" stroke="#231f20" stroke-width="1.6" stroke-linecap="butt"/>
<text x="597.2" y="753" font-size="31" text-anchor="end" fill="#231f20" font-weight="bold">10<tspan font-size="18" dy="-10">−1</tspan></text>
<text x="597.2" y="694.73" font-size="31" text-anchor="end" fill="#231f20" font-weight="bold">10<tspan font-size="18" dy="-10">0</tspan></text>
<text x="597.2" y="636.45" font-size="31" text-anchor="end" fill="#231f20" font-weight="bold">10<tspan font-size="18" dy="-10">1</tspan></text>
<text x="597.2" y="578.17" font-size="31" text-anchor="end" fill="#231f20" font-weight="bold">10<tspan font-size="18" dy="-10">2</tspan></text>
<text x="597.2" y="519.9" font-size="31" text-anchor="end" fill="#231f20" font-weight="bold">10<tspan font-size="18" dy="-10">3</tspan></text>
<line x1="631.2" y1="760.7" x2="631.2" y2="765.2" stroke="#231f20" stroke-width="2" stroke-linecap="butt"/>
<text x="631.2" y="792.2" font-size="31" text-anchor="middle" fill="#231f20" font-weight="bold">5</text>
<line x1="706.84" y1="760.7" x2="706.84" y2="765.2" stroke="#231f20" stroke-width="2" stroke-linecap="butt"/>
<text x="706.84" y="792.2" font-size="31" text-anchor="middle" fill="#231f20" font-weight="bold">10</text>
<line x1="782.48" y1="760.7" x2="782.48" y2="765.2" stroke="#231f20" stroke-width="2" stroke-linecap="butt"/>
<text x="782.48" y="792.2" font-size="31" text-anchor="middle" fill="#231f20" font-weight="bold">15</text>
<line x1="858.12" y1="760.7" x2="858.12" y2="765.2" stroke="#231f20" stroke-width="2" stroke-linecap="butt"/>
<text x="858.12" y="792.2" font-size="31" text-anchor="middle" fill="#231f20" font-weight="bold">20</text>
<line x1="933.76" y1="760.7" x2="933.76" y2="765.2" stroke="#231f20" stroke-width="2" stroke-linecap="butt"/>
<text x="933.76" y="792.2" font-size="31" text-anchor="middle" fill="#231f20" font-weight="bold">25</text>
<line x1="1009.4" y1="760.7" x2="1009.4" y2="765.2" stroke="#231f20" stroke-width="2" stroke-linecap="butt"/>
<text x="1009.4" y="792.2" font-size="31" text-anchor="middle" fill="#231f20" font-weight="bold">30</text>
<line x1="669.02" y1="760.7" x2="669.02" y2="763.2" stroke="#231f20" stroke-width="1.8" stroke-linecap="butt"/>
<line x1="744.66" y1="760.7" x2="744.66" y2="763.2" stroke="#231f20" stroke-width="1.8" stroke-linecap="butt"/>
<line x1="820.3" y1="760.7" x2="820.3" y2="763.2" stroke="#231f20" stroke-width="1.8" stroke-linecap="butt"/>
<line x1="895.94" y1="760.7" x2="895.94" y2="763.2" stroke="#231f20" stroke-width="1.8" stroke-linecap="butt"/>
<line x1="971.58" y1="760.7" x2="971.58" y2="763.2" stroke="#231f20" stroke-width="1.8" stroke-linecap="butt"/>
<text x="537.89" y="615.4" font-size="30.5" text-anchor="middle" fill="#231f20" font-weight="bold" transform="rotate(-90 537.89 615.4)">Modulus/Pa</text>
<text x="821.2" y="825.8" font-size="30.5" text-anchor="middle" fill="#231f20" font-weight="bold">Temperature/°C</text>
<circle cx="130.5" cy="862" r="6.8" fill="#dfb244"/>
<text x="143.6" y="872.6" font-size="26.4" font-weight="bold" fill="#231f20">5% (w/v) GelMA with 3×10<tspan font-size="15" dy="-10">7</tspan><tspan dy="10"> cells/ml</tspan></text>
<circle cx="130.5" cy="899.4" r="6.8" fill="#0a0a0a"/>
<text x="143.6" y="906.5" font-size="26.4" text-anchor="start" fill="#231f20" font-weight="bold">G′</text>
<circle cx="682.8" cy="862" r="6.8" fill="#435283"/>
<text x="697.2" y="872.8" font-size="26.4" text-anchor="start" fill="#231f20" font-weight="bold">5% (w/v) GelMA</text>
<circle cx="682.8" cy="899.7" r="4.2" fill="none" stroke="#0a0a0a" stroke-width="3.8"/>
<text x="697.2" y="907.5" font-size="26.4" text-anchor="start" fill="#231f20" font-weight="bold">G″</text>
<defs><filter id="np1" x="0" y="0" width="1" height="1" color-interpolation-filters="sRGB"><feTurbulence type="fractalNoise" baseFrequency="0.32" numOctaves="2" seed="3" result="hi0"/><feColorMatrix in="hi0" type="matrix" values="1 0 0 0 0  0 1 0 0 0  0 0 1 0 0  0 0 0 0 1" result="hi"/><feTurbulence type="fractalNoise" baseFrequency="0.01" numOctaves="2" seed="14" result="lo0"/><feColorMatrix in="lo0" type="matrix" values="1 0 0 0 0  1 0 0 0 0  1 0 0 0 0  0 0 0 0 1" result="lo"/><feComposite in="hi" in2="lo" operator="arithmetic" k1="0" k2="1" k3="0.45" k4="-0.23" result="sum"/><feColorMatrix in="sum" type="matrix" values="0.9 0 0 0 -0.49  3.38 0 0 0 -1.82  1.08 0 0 0 -0.58  0 0 0 0 1" result="sp"/><feColorMatrix in="hi" type="matrix" values="0 0 0 0 0  0 0 0 0 0  0 0 0 0 0  0 0 0 0 1" result="blk"/><feColorMatrix in="hi" type="matrix" values="0 0 14 0 -10.78  0 0 0 0 0  0 0 0 0 0  0 0 0 0 1" result="rd"/><feComposite in="sp" in2="rd" operator="arithmetic" k1="0" k2="1" k3="0.75" k4="0"/></filter><filter id="np2" x="0" y="0" width="1" height="1" color-interpolation-filters="sRGB"><feTurbulence type="fractalNoise" baseFrequency="0.32" numOctaves="2" seed="7" result="hi0"/><feColorMatrix in="hi0" type="matrix" values="1 0 0 0 0  0 1 0 0 0  0 0 1 0 0  0 0 0 0 1" result="hi"/><feTurbulence type="fractalNoise" baseFrequency="0.01" numOctaves="2" seed="18" result="lo0"/><feColorMatrix in="lo0" type="matrix" values="1 0 0 0 0  1 0 0 0 0  1 0 0 0 0  0 0 0 0 1" result="lo"/><feComposite in="hi" in2="lo" operator="arithmetic" k1="0" k2="1" k3="0.45" k4="-0.23" result="sum"/><feColorMatrix in="sum" type="matrix" values="0.9 0 0 0 -0.48  3.38 0 0 0 -1.81  1.08 0 0 0 -0.58  0 0 0 0 1" result="sp"/><feColorMatrix in="hi" type="matrix" values="0 0 0 0 0  0 0 0 0 0  0 0 0 0 0  0 0 0 0 1" result="blk"/><feColorMatrix in="hi" type="matrix" values="0 0 14 0 -10.78  0 0 0 0 0  0 0 0 0 0  0 0 0 0 1" result="rd"/><feComposite in="sp" in2="rd" operator="arithmetic" k1="0" k2="1" k3="0.75" k4="0"/></filter><filter id="np3" x="0" y="0" width="1" height="1" color-interpolation-filters="sRGB"><feTurbulence type="fractalNoise" baseFrequency="0.24" numOctaves="2" seed="9" result="hi0"/><feColorMatrix in="hi0" type="matrix" values="1 0 0 0 0  0 1 0 0 0  0 0 1 0 0  0 0 0 0 1" result="hi"/><feTurbulence type="fractalNoise" baseFrequency="0.01" numOctaves="2" seed="20" result="lo0"/><feColorMatrix in="lo0" type="matrix" values="1 0 0 0 0  1 0 0 0 0  1 0 0 0 0  0 0 0 0 1" result="lo"/><feComposite in="hi" in2="lo" operator="arithmetic" k1="0" k2="1" k3="0.45" k4="-0.23" result="sum"/><feColorMatrix in="sum" type="matrix" values="0.96 0 0 0 -0.54  3.6 0 0 0 -2.03  1.15 0 0 0 -0.65  0 0 0 0 1" result="sp"/><feColorMatrix in="hi" type="matrix" values="0 0 0 0 0  0 0 0 0 0  0 0 0 0 0  0 0 0 0 1" result="blk"/><feColorMatrix in="hi" type="matrix" values="0 0 14 0 -10.64  0 0 0 0 0  0 0 0 0 0  0 0 0 0 1" result="rd"/><feComposite in="sp" in2="rd" operator="arithmetic" k1="0" k2="1" k3="0.75" k4="0"/></filter><filter id="po1" x="0" y="0" width="1" height="1" color-interpolation-filters="sRGB"><feTurbulence type="fractalNoise" baseFrequency="0.34" numOctaves="2" seed="13" result="hi0"/><feColorMatrix in="hi0" type="matrix" values="1 0 0 0 0  0 1 0 0 0  0 0 1 0 0  0 0 0 0 1" result="hi"/><feTurbulence type="fractalNoise" baseFrequency="0.01" numOctaves="2" seed="24" result="lo0"/><feColorMatrix in="lo0" type="matrix" values="1 0 0 0 0  1 0 0 0 0  1 0 0 0 0  0 0 0 0 1" result="lo"/><feComposite in="hi" in2="lo" operator="arithmetic" k1="0" k2="1" k3="0.35" k4="-0.17" result="sum"/><feColorMatrix in="sum" type="matrix" values="0.96 0 0 0 -0.48  3.6 0 0 0 -1.8  1.15 0 0 0 -0.58  0 0 0 0 1" result="sp"/><feTurbulence type="fractalNoise" baseFrequency="0.02" numOctaves="2" seed="36" result="hn0"/><feColorMatrix in="hn0" type="matrix" values="16 0 0 0 -5.92  16 0 0 0 -5.92  16 0 0 0 -5.92  0 0 0 0 1" result="hm"/><feComposite in="sp" in2="hm" operator="arithmetic" k1="1" k2="0" k3="0" k4="0" result="sph"/><feColorMatrix in="hi" type="matrix" values="0 0 0 0 0  0 0 0 0 0  0 0 0 0 0  0 0 0 0 1" result="blk"/><feColorMatrix in="hi" type="matrix" values="0 0 14 0 -10.36  0 0 0 0 0  0 0 0 0 0  0 0 0 0 1" result="rd"/><feComposite in="sph" in2="rd" operator="arithmetic" k1="0" k2="1" k3="0.75" k4="0"/></filter><filter id="po2" x="0" y="0" width="1" height="1" color-interpolation-filters="sRGB"><feTurbulence type="fractalNoise" baseFrequency="0.34" numOctaves="2" seed="17" result="hi0"/><feColorMatrix in="hi0" type="matrix" values="1 0 0 0 0  0 1 0 0 0  0 0 1 0 0  0 0 0 0 1" result="hi"/><feTurbulence type="fractalNoise" baseFrequency="0.01" numOctaves="2" seed="28" result="lo0"/><feColorMatrix in="lo0" type="matrix" values="1 0 0 0 0  1 0 0 0 0  1 0 0 0 0  0 0 0 0 1" result="lo"/><feComposite in="hi" in2="lo" operator="arithmetic" k1="0" k2="1" k3="0.35" k4="-0.17" result="sum"/><feColorMatrix in="sum" type="matrix" values="0.96 0 0 0 -0.49  3.6 0 0 0 -1.84  1.15 0 0 0 -0.59  0 0 0 0 1" result="sp"/><feTurbulence type="fractalNoise" baseFrequency="0.02" numOctaves="2" seed="40" result="hn0"/><feColorMatrix in="hn0" type="matrix" values="16 0 0 0 -6.08  16 0 0 0 -6.08  16 0 0 0 -6.08  0 0 0 0 1" result="hm"/><feComposite in="sp" in2="hm" operator="arithmetic" k1="1" k2="0" k3="0" k4="0" result="sph"/><feColorMatrix in="hi" type="matrix" values="0 0 0 0 0  0 0 0 0 0  0 0 0 0 0  0 0 0 0 1" result="blk"/><feColorMatrix in="hi" type="matrix" values="0 0 14 0 -10.5  0 0 0 0 0  0 0 0 0 0  0 0 0 0 1" result="rd"/><feComposite in="sph" in2="rd" operator="arithmetic" k1="0" k2="1" k3="0.75" k4="0"/></filter><filter id="po3" x="0" y="0" width="1" height="1" color-interpolation-filters="sRGB"><feTurbulence type="fractalNoise" baseFrequency="0.3" numOctaves="2" seed="19" result="hi0"/><feColorMatrix in="hi0" type="matrix" values="1 0 0 0 0  0 1 0 0 0  0 0 1 0 0  0 0 0 0 1" result="hi"/><feTurbulence type="fractalNoise" baseFrequency="0.01" numOctaves="2" seed="30" result="lo0"/><feColorMatrix in="lo0" type="matrix" values="1 0 0 0 0  1 0 0 0 0  1 0 0 0 0  0 0 0 0 1" result="lo"/><feComposite in="hi" in2="lo" operator="arithmetic" k1="0" k2="1" k3="0.3" k4="-0.15" result="sum"/><feColorMatrix in="sum" type="matrix" values="0.9 0 0 0 -0.44  3.38 0 0 0 -1.65  1.08 0 0 0 -0.53  0 0 0 0 1" result="sp"/><feColorMatrix in="lo" type="matrix" values="0.31 0 0 0 -0.14  1.05 0 0 0 -0.47  0.31 0 0 0 -0.14  0 0 0 0 1" result="hz"/><feComposite in="sp" in2="hz" operator="arithmetic" k1="0" k2="1" k3="1" k4="0" result="sph0"/><feTurbulence type="fractalNoise" baseFrequency="0.02" numOctaves="2" seed="42" result="hn0"/><feColorMatrix in="hn0" type="matrix" values="12 0 0 0 -4.56  12 0 0 0 -4.56  12 0 0 0 -4.56  0 0 0 0 1" result="hm"/><feComposite in="sph0" in2="hm" operator="arithmetic" k1="1" k2="0" k3="0" k4="0" result="sph"/><feColorMatrix in="hi" type="matrix" values="0 0 0 0 0  0 0 0 0 0  0 0 0 0 0  0 0 0 0 1" result="blk"/><feColorMatrix in="hi" type="matrix" values="0 0 14 0 -10.78  0 0 0 0 0  0 0 0 0 0  0 0 0 0 1" result="rd"/><feComposite in="sph" in2="rd" operator="arithmetic" k1="0" k2="1" k3="0.75" k4="0"/></filter></defs>
<rect x="1061" y="57.8" width="253.5" height="241.2" fill="#000" stroke="none" stroke-width="0"/>
<rect x="1061" y="57.8" width="253.5" height="241.2" fill="#000" filter="url(#np1)"/>
<rect x="1061" y="57.8" width="253.5" height="241.2" fill="none" stroke="#555" stroke-width="0.8"/>
<rect x="1336" y="57.8" width="261" height="241.2" fill="#000" stroke="none" stroke-width="0"/>
<rect x="1336" y="57.8" width="261" height="241.2" fill="#000" filter="url(#po1)"/>
<rect x="1336" y="57.8" width="261" height="241.2" fill="none" stroke="#555" stroke-width="0.8"/>
<rect x="1283.5" y="285" width="23" height="8" fill="#ffffff" stroke="none" stroke-width="0"/>
<rect x="1566" y="285" width="23" height="8" fill="#ffffff" stroke="none" stroke-width="0"/>
<rect x="1061" y="316.5" width="253.5" height="240.2" fill="#000" stroke="none" stroke-width="0"/>
<rect x="1061" y="316.5" width="253.5" height="240.2" fill="#000" filter="url(#np2)"/>
<rect x="1061" y="316.5" width="253.5" height="240.2" fill="none" stroke="#555" stroke-width="0.8"/>
<rect x="1336" y="316.5" width="261" height="240.2" fill="#000" stroke="none" stroke-width="0"/>
<rect x="1336" y="316.5" width="261" height="240.2" fill="#000" filter="url(#po2)"/>
<rect x="1336" y="316.5" width="261" height="240.2" fill="none" stroke="#555" stroke-width="0.8"/>
<rect x="1283.5" y="542.7" width="23" height="8" fill="#ffffff" stroke="none" stroke-width="0"/>
<rect x="1566" y="542.7" width="23" height="8" fill="#ffffff" stroke="none" stroke-width="0"/>
<rect x="1061" y="574" width="253.5" height="236.5" fill="#000" stroke="none" stroke-width="0"/>
<rect x="1061" y="574" width="253.5" height="236.5" fill="#000" filter="url(#np3)"/>
<rect x="1061" y="574" width="253.5" height="236.5" fill="none" stroke="#555" stroke-width="0.8"/>
<rect x="1336" y="574" width="261" height="236.5" fill="#000" stroke="none" stroke-width="0"/>
<rect x="1336" y="574" width="261" height="236.5" fill="#000" filter="url(#po3)"/>
<rect x="1336" y="574" width="261" height="236.5" fill="none" stroke="#555" stroke-width="0.8"/>
<rect x="1283.5" y="796.5" width="23" height="8" fill="#ffffff" stroke="none" stroke-width="0"/>
<rect x="1566" y="796.5" width="23" height="8" fill="#ffffff" stroke="none" stroke-width="0"/>
<text x="1199.9" y="45.5" font-size="31" text-anchor="middle" fill="#231f20" font-weight="bold">Non-porous</text>
<text x="1467.8" y="45.5" font-size="31" text-anchor="middle" fill="#231f20" font-weight="bold">Porous</text>
<text x="1056.36" y="145" font-size="31" text-anchor="middle" fill="#231f20" font-weight="bold" transform="rotate(-90 1056.36 145)">DAY1</text>
<text x="1056.36" y="424.5" font-size="31" text-anchor="middle" fill="#231f20" font-weight="bold" transform="rotate(-90 1056.36 424.5)">DAY4</text>
<text x="1056.36" y="660.7" font-size="31" text-anchor="middle" fill="#231f20" font-weight="bold" transform="rotate(-90 1056.36 660.7)">DAY7</text>
<text x="1080" y="92.4" font-size="30" font-weight="bold"><tspan fill="#3cb44b">Live</tspan><tspan fill="#ffffff">/</tspan><tspan fill="#e0322e">Dead</tspan></text>
<rect x="1689.7" y="246.41" width="61.6" height="135.59" fill="#a84e46" stroke="#231f20" stroke-width="1.6"/>
<rect x="1751.3" y="259.59" width="61.3" height="122.41" fill="#424f73" stroke="#231f20" stroke-width="1.6"/>
<rect x="1826.8" y="210.79" width="61.6" height="171.21" fill="#a84e46" stroke="#231f20" stroke-width="1.6"/>
<rect x="1888.4" y="240.11" width="61.3" height="141.89" fill="#424f73" stroke="#231f20" stroke-width="1.6"/>
<rect x="1963.1" y="116.52" width="61.8" height="265.48" fill="#a84e46" stroke="#231f20" stroke-width="1.6"/>
<rect x="2024.9" y="156.08" width="61.6" height="225.92" fill="#424f73" stroke="#231f20" stroke-width="1.6"/>
<line x1="1720.5" y1="240" x2="1720.5" y2="251.7" stroke="#231f20" stroke-width="2.2" stroke-linecap="butt"/>
<line x1="1715" y1="240" x2="1726" y2="240" stroke="#231f20" stroke-width="2.2" stroke-linecap="butt"/>
<line x1="1715" y1="251.7" x2="1726" y2="251.7" stroke="#231f20" stroke-width="2.2" stroke-linecap="butt"/>
<line x1="1781.9" y1="253" x2="1781.9" y2="265.5" stroke="#231f20" stroke-width="2.2" stroke-linecap="butt"/>
<line x1="1776.4" y1="253" x2="1787.4" y2="253" stroke="#231f20" stroke-width="2.2" stroke-linecap="butt"/>
<line x1="1776.4" y1="265.5" x2="1787.4" y2="265.5" stroke="#231f20" stroke-width="2.2" stroke-linecap="butt"/>
<line x1="1857.6" y1="202.4" x2="1857.6" y2="218.6" stroke="#231f20" stroke-width="2.2" stroke-linecap="butt"/>
<line x1="1852.1" y1="202.4" x2="1863.1" y2="202.4" stroke="#231f20" stroke-width="2.2" stroke-linecap="butt"/>
<line x1="1852.1" y1="218.6" x2="1863.1" y2="218.6" stroke="#231f20" stroke-width="2.2" stroke-linecap="butt"/>
<line x1="1919" y1="238" x2="1919" y2="241.8" stroke="#231f20" stroke-width="2.2" stroke-linecap="butt"/>
<line x1="1913.5" y1="238" x2="1924.5" y2="238" stroke="#231f20" stroke-width="2.2" stroke-linecap="butt"/>
<line x1="1913.5" y1="241.8" x2="1924.5" y2="241.8" stroke="#231f20" stroke-width="2.2" stroke-linecap="butt"/>
<line x1="1994" y1="109.2" x2="1994" y2="124.6" stroke="#231f20" stroke-width="2.2" stroke-linecap="butt"/>
<line x1="1988.5" y1="109.2" x2="1999.5" y2="109.2" stroke="#231f20" stroke-width="2.2" stroke-linecap="butt"/>
<line x1="1988.5" y1="124.6" x2="1999.5" y2="124.6" stroke="#231f20" stroke-width="2.2" stroke-linecap="butt"/>
<line x1="2055.7" y1="151.3" x2="2055.7" y2="160.8" stroke="#231f20" stroke-width="2.2" stroke-linecap="butt"/>
<line x1="2050.2" y1="151.3" x2="2061.2" y2="151.3" stroke="#231f20" stroke-width="2.2" stroke-linecap="butt"/>
<line x1="2050.2" y1="160.8" x2="2061.2" y2="160.8" stroke="#231f20" stroke-width="2.2" stroke-linecap="butt"/>
<line x1="1682.9" y1="86" x2="1682.9" y2="383.3" stroke="#231f20" stroke-width="2.8" stroke-linecap="butt"/>
<line x1="1679.5" y1="382" x2="2093.8" y2="382" stroke="#231f20" stroke-width="2.8" stroke-linecap="butt"/>
<line x1="1678.6" y1="382.2" x2="1682.9" y2="382.2" stroke="#231f20" stroke-width="2.2" stroke-linecap="butt"/>
<text x="1669.5" y="392.5" font-size="31" text-anchor="end" fill="#231f20" font-weight="bold">0</text>
<line x1="1678.6" y1="283.8" x2="1682.9" y2="283.8" stroke="#231f20" stroke-width="2.2" stroke-linecap="butt"/>
<text x="1669.5" y="296.5" font-size="31" text-anchor="end" fill="#231f20" font-weight="bold">1</text>
<line x1="1678.6" y1="185.4" x2="1682.9" y2="185.4" stroke="#231f20" stroke-width="2.2" stroke-linecap="butt"/>
<text x="1669.5" y="200.8" font-size="31" text-anchor="end" fill="#231f20" font-weight="bold">2</text>
<line x1="1678.6" y1="87" x2="1682.9" y2="87" stroke="#231f20" stroke-width="2.2" stroke-linecap="butt"/>
<text x="1669.5" y="105.5" font-size="31" text-anchor="end" fill="#231f20" font-weight="bold">3</text>
<line x1="1751.3" y1="382" x2="1751.3" y2="386.5" stroke="#231f20" stroke-width="2.2" stroke-linecap="butt"/>
<line x1="1888.4" y1="382" x2="1888.4" y2="386.5" stroke="#231f20" stroke-width="2.2" stroke-linecap="butt"/>
<line x1="2024.9" y1="382" x2="2024.9" y2="386.5" stroke="#231f20" stroke-width="2.2" stroke-linecap="butt"/>
<text x="1736.6" y="410.1" font-size="29.5" text-anchor="middle" fill="#231f20" font-weight="bold">Day1</text>
<text x="1877.9" y="410.1" font-size="29.5" text-anchor="middle" fill="#231f20" font-weight="bold">Day4</text>
<text x="2017.7" y="410.1" font-size="29.5" text-anchor="middle" fill="#231f20" font-weight="bold">Day7</text>
<path d="M1858.7 178.7L1858.7 169.5L1914.8 169.5L1914.8 178.7" fill="none" stroke="#231f20" stroke-width="2.2"/>
<text x="1888.4" y="174.5" font-size="32" text-anchor="middle" fill="#231f20" font-weight="bold">**</text>
<path d="M1998.3 92.2L1998.3 83.5L2053.1 83.5L2053.1 92.2" fill="none" stroke="#231f20" stroke-width="2.2"/>
<text x="2028" y="91" font-size="32" text-anchor="middle" fill="#231f20" font-weight="bold">**</text>
<rect x="1697.9" y="59.3" width="43.4" height="21" fill="#a84e46" stroke="#231f20" stroke-width="1.4"/>
<rect x="1697.9" y="84" width="43.4" height="20.7" fill="#424f73" stroke="#231f20" stroke-width="1.4"/>
<text x="1749.5" y="80.3" font-size="26" text-anchor="start" fill="#231f20" font-weight="bold">Porous</text>
<text x="1749.5" y="104.7" font-size="26" text-anchor="start" fill="#231f20" font-weight="bold">Non-porous</text>
<text x="1632.49" y="229.3" font-size="30.5" text-anchor="middle" fill="#231f20" font-weight="bold" transform="rotate(-90 1632.49 229.3)">Growth rate</text>
<rect x="1690.4" y="575.14" width="61.1" height="212.46" fill="#a84e46" stroke="#231f20" stroke-width="1.6"/>
<rect x="1751.5" y="577.32" width="61.1" height="210.28" fill="#424f73" stroke="#231f20" stroke-width="1.6"/>
<rect x="1826.3" y="574.26" width="61.1" height="213.34" fill="#a84e46" stroke="#231f20" stroke-width="1.6"/>
<rect x="1887.4" y="607.48" width="61.5" height="180.12" fill="#424f73" stroke="#231f20" stroke-width="1.6"/>
<rect x="1962.1" y="574.7" width="61.6" height="212.9" fill="#a84e46" stroke="#231f20" stroke-width="1.6"/>
<rect x="2023.7" y="638.94" width="61.1" height="148.66" fill="#424f73" stroke="#231f20" stroke-width="1.6"/>
<line x1="1721" y1="569.5" x2="1721" y2="580.8" stroke="#231f20" stroke-width="2.2" stroke-linecap="butt"/>
<line x1="1715.5" y1="569.5" x2="1726.5" y2="569.5" stroke="#231f20" stroke-width="2.2" stroke-linecap="butt"/>
<line x1="1715.5" y1="580.8" x2="1726.5" y2="580.8" stroke="#231f20" stroke-width="2.2" stroke-linecap="butt"/>
<line x1="1782" y1="570.3" x2="1782" y2="584.5" stroke="#231f20" stroke-width="2.2" stroke-linecap="butt"/>
<line x1="1776.5" y1="570.3" x2="1787.5" y2="570.3" stroke="#231f20" stroke-width="2.2" stroke-linecap="butt"/>
<line x1="1776.5" y1="584.5" x2="1787.5" y2="584.5" stroke="#231f20" stroke-width="2.2" stroke-linecap="butt"/>
<line x1="1856.8" y1="566.3" x2="1856.8" y2="581.5" stroke="#231f20" stroke-width="2.2" stroke-linecap="butt"/>
<line x1="1851.3" y1="566.3" x2="1862.3" y2="566.3" stroke="#231f20" stroke-width="2.2" stroke-linecap="butt"/>
<line x1="1851.3" y1="581.5" x2="1862.3" y2="581.5" stroke="#231f20" stroke-width="2.2" stroke-linecap="butt"/>
<line x1="1918.1" y1="600" x2="1918.1" y2="615" stroke="#231f20" stroke-width="2.2" stroke-linecap="butt"/>
<line x1="1912.6" y1="600" x2="1923.6" y2="600" stroke="#231f20" stroke-width="2.2" stroke-linecap="butt"/>
<line x1="1912.6" y1="615" x2="1923.6" y2="615" stroke="#231f20" stroke-width="2.2" stroke-linecap="butt"/>
<line x1="1992.9" y1="543.9" x2="1992.9" y2="605.2" stroke="#231f20" stroke-width="2.2" stroke-linecap="butt"/>
<line x1="1987.4" y1="543.9" x2="1998.4" y2="543.9" stroke="#231f20" stroke-width="2.2" stroke-linecap="butt"/>
<line x1="1987.4" y1="605.2" x2="1998.4" y2="605.2" stroke="#231f20" stroke-width="2.2" stroke-linecap="butt"/>
<line x1="2054.2" y1="623.9" x2="2054.2" y2="653" stroke="#231f20" stroke-width="2.2" stroke-linecap="butt"/>
<line x1="2048.7" y1="623.9" x2="2059.7" y2="623.9" stroke="#231f20" stroke-width="2.2" stroke-linecap="butt"/>
<line x1="2048.7" y1="653" x2="2059.7" y2="653" stroke="#231f20" stroke-width="2.2" stroke-linecap="butt"/>
<rect x="1676" y="717.9" width="420" height="4.9" fill="#ffffff" stroke="none" stroke-width="0"/>
<line x1="1684.1" y1="497.8" x2="1684.1" y2="716.5" stroke="#231f20" stroke-width="2.6" stroke-linecap="butt"/>
<line x1="1684.1" y1="724" x2="1684.1" y2="788.8" stroke="#231f20" stroke-width="2.6" stroke-linecap="butt"/>
<line x1="1680.1" y1="719.5" x2="1688.1" y2="714.5" stroke="#231f20" stroke-width="1.6" stroke-linecap="butt"/>
<line x1="1680.1" y1="726" x2="1688.1" y2="721" stroke="#231f20" stroke-width="1.6" stroke-linecap="butt"/>
<line x1="1679.7" y1="787.6" x2="2092" y2="787.6" stroke="#231f20" stroke-width="2.8" stroke-linecap="butt"/>
<line x1="1679.3" y1="499.1" x2="1684.1" y2="499.1" stroke="#231f20" stroke-width="2.2" stroke-linecap="butt"/>
<text x="1674.4" y="509.2" font-size="30.5" text-anchor="end" fill="#231f20" font-weight="bold">100</text>
<line x1="1679.3" y1="542.8" x2="1684.1" y2="542.8" stroke="#231f20" stroke-width="2.2" stroke-linecap="butt"/>
<text x="1674.4" y="552.9" font-size="30.5" text-anchor="end" fill="#231f20" font-weight="bold">90</text>
<line x1="1679.3" y1="586.5" x2="1684.1" y2="586.5" stroke="#231f20" stroke-width="2.2" stroke-linecap="butt"/>
<text x="1674.4" y="596.6" font-size="30.5" text-anchor="end" fill="#231f20" font-weight="bold">80</text>
<line x1="1679.3" y1="630.2" x2="1684.1" y2="630.2" stroke="#231f20" stroke-width="2.2" stroke-linecap="butt"/>
<text x="1674.4" y="640.3" font-size="30.5" text-anchor="end" fill="#231f20" font-weight="bold">70</text>
<line x1="1679.3" y1="673.9" x2="1684.1" y2="673.9" stroke="#231f20" stroke-width="2.2" stroke-linecap="butt"/>
<text x="1674.4" y="684" font-size="30.5" text-anchor="end" fill="#231f20" font-weight="bold">60</text>
<line x1="1679.3" y1="745.3" x2="1684.1" y2="745.3" stroke="#231f20" stroke-width="2.2" stroke-linecap="butt"/>
<text x="1674.4" y="755.4" font-size="30.5" text-anchor="end" fill="#231f20" font-weight="bold">10</text>
<line x1="1679.3" y1="787.5" x2="1684.1" y2="787.5" stroke="#231f20" stroke-width="2.2" stroke-linecap="butt"/>
<text x="1674.4" y="798.5" font-size="30.5" text-anchor="end" fill="#231f20" font-weight="bold">0</text>
<line x1="1751.5" y1="787.6" x2="1751.5" y2="792.5" stroke="#231f20" stroke-width="2.2" stroke-linecap="butt"/>
<line x1="1887.4" y1="787.6" x2="1887.4" y2="792.5" stroke="#231f20" stroke-width="2.2" stroke-linecap="butt"/>
<line x1="2023.7" y1="787.6" x2="2023.7" y2="792.5" stroke="#231f20" stroke-width="2.2" stroke-linecap="butt"/>
<text x="1752.7" y="821.1" font-size="29.5" text-anchor="middle" fill="#231f20" font-weight="bold">Day1</text>
<text x="1893.4" y="821.1" font-size="29.5" text-anchor="middle" fill="#231f20" font-weight="bold">Day4</text>
<text x="2033.2" y="821.1" font-size="29.5" text-anchor="middle" fill="#231f20" font-weight="bold">Day7</text>
<path d="M1858.7 557.8L1858.7 548.4L1915.3 548.4L1915.3 557.8" fill="none" stroke="#231f20" stroke-width="2.2"/>
<text x="1887.9" y="554" font-size="33" text-anchor="middle" fill="#231f20" font-weight="bold">*</text>
<path d="M1994.3 535.2L1994.3 525.2L2050.6 525.2L2050.6 535.2" fill="none" stroke="#231f20" stroke-width="2.2"/>
<text x="2023.7" y="531" font-size="33" text-anchor="middle" fill="#231f20" font-weight="bold">*</text>
<rect x="1696" y="469" width="43.4" height="23.3" fill="#a84e46" stroke="#231f20" stroke-width="1.4"/>
<rect x="1696" y="496" width="43.4" height="23" fill="#424f73" stroke="#231f20" stroke-width="1.4"/>
<text x="1747.5" y="491" font-size="26" text-anchor="start" fill="#231f20" font-weight="bold">Porous</text>
<text x="1747.5" y="516.7" font-size="26" text-anchor="start" fill="#231f20" font-weight="bold">Non-porous</text>
<text x="1631.99" y="638.7" font-size="30.5" text-anchor="middle" fill="#231f20" font-weight="bold" transform="rotate(-90 1631.99 638.7)">Cell viability/%</text>
<clipPath id="cf"><rect x="129.2" y="948.7" width="383.8" height="294.8"/></clipPath>
<g clip-path="url(#cf)">
<path d="M129.39 1195.62L133.69 1188.17L125.09 1188.17Z" fill="none" stroke="#4a8a5e" stroke-width="3.6" stroke-linejoin="round"/>
<path d="M137.96 1198.29L142.26 1190.85L133.66 1190.85Z" fill="none" stroke="#4a8a5e" stroke-width="3.6" stroke-linejoin="round"/>
<path d="M151.92 1198.29L156.22 1190.85L147.62 1190.85Z" fill="none" stroke="#4a8a5e" stroke-width="3.6" stroke-linejoin="round"/>
<path d="M165.88 1196.96L170.18 1189.51L161.58 1189.51Z" fill="none" stroke="#4a8a5e" stroke-width="3.6" stroke-linejoin="round"/>
<path d="M179.84 1193.74L184.14 1186.29L175.54 1186.29Z" fill="none" stroke="#4a8a5e" stroke-width="3.6" stroke-linejoin="round"/>
<path d="M193.81 1192.13L198.11 1184.69L189.51 1184.69Z" fill="none" stroke="#4a8a5e" stroke-width="3.6" stroke-linejoin="round"/>
<path d="M207.77 1190.26L212.07 1182.81L203.47 1182.81Z" fill="none" stroke="#4a8a5e" stroke-width="3.6" stroke-linejoin="round"/>
<path d="M221.73 1187.58L226.03 1180.13L217.43 1180.13Z" fill="none" stroke="#4a8a5e" stroke-width="3.6" stroke-linejoin="round"/>
<path d="M235.69 1186.24L239.99 1178.79L231.39 1178.79Z" fill="none" stroke="#4a8a5e" stroke-width="3.6" stroke-linejoin="round"/>
<path d="M249.65 1182.22L253.95 1174.77L245.35 1174.77Z" fill="none" stroke="#4a8a5e" stroke-width="3.6" stroke-linejoin="round"/>
<path d="M263.62 1172.85L267.92 1165.4L259.32 1165.4Z" fill="none" stroke="#4a8a5e" stroke-width="3.6" stroke-linejoin="round"/>
<path d="M277.58 1166.95L281.88 1159.51L273.28 1159.51Z" fill="none" stroke="#4a8a5e" stroke-width="3.6" stroke-linejoin="round"/>
<path d="M291.54 1162.67L295.84 1155.22L287.24 1155.22Z" fill="none" stroke="#4a8a5e" stroke-width="3.6" stroke-linejoin="round"/>
<path d="M305.5 1156.77L309.8 1149.33L301.2 1149.33Z" fill="none" stroke="#4a8a5e" stroke-width="3.6" stroke-linejoin="round"/>
<path d="M319.46 1150.08L323.76 1142.63L315.16 1142.63Z" fill="none" stroke="#4a8a5e" stroke-width="3.6" stroke-linejoin="round"/>
<path d="M333.43 1140.7L337.73 1133.25L329.13 1133.25Z" fill="none" stroke="#4a8a5e" stroke-width="3.6" stroke-linejoin="round"/>
<path d="M347.39 1134L351.69 1126.56L343.09 1126.56Z" fill="none" stroke="#4a8a5e" stroke-width="3.6" stroke-linejoin="round"/>
<path d="M361.35 1125.97L365.65 1118.52L357.05 1118.52Z" fill="none" stroke="#4a8a5e" stroke-width="3.6" stroke-linejoin="round"/>
<path d="M375.31 1117.93L379.61 1110.48L371.01 1110.48Z" fill="none" stroke="#4a8a5e" stroke-width="3.6" stroke-linejoin="round"/>
<path d="M389.27 1108.55L393.57 1101.11L384.97 1101.11Z" fill="none" stroke="#4a8a5e" stroke-width="3.6" stroke-linejoin="round"/>
<path d="M403.24 1100.52L407.54 1093.07L398.94 1093.07Z" fill="none" stroke="#4a8a5e" stroke-width="3.6" stroke-linejoin="round"/>
<path d="M417.2 1091.14L421.5 1083.69L412.9 1083.69Z" fill="none" stroke="#4a8a5e" stroke-width="3.6" stroke-linejoin="round"/>
<path d="M431.16 1082.3L435.46 1074.85L426.86 1074.85Z" fill="none" stroke="#4a8a5e" stroke-width="3.6" stroke-linejoin="round"/>
<path d="M445.12 1073.73L449.42 1066.28L440.82 1066.28Z" fill="none" stroke="#4a8a5e" stroke-width="3.6" stroke-linejoin="round"/>
<path d="M459.08 1065.16L463.38 1057.71L454.78 1057.71Z" fill="none" stroke="#4a8a5e" stroke-width="3.6" stroke-linejoin="round"/>
<path d="M473.05 1054.44L477.35 1047L468.75 1047Z" fill="none" stroke="#4a8a5e" stroke-width="3.6" stroke-linejoin="round"/>
<path d="M487.01 1045.6L491.31 1038.16L482.71 1038.16Z" fill="none" stroke="#4a8a5e" stroke-width="3.6" stroke-linejoin="round"/>
<path d="M496.92 1040.25L501.22 1032.8L492.62 1032.8Z" fill="none" stroke="#4a8a5e" stroke-width="3.6" stroke-linejoin="round"/>
<path d="M129.39 1087.91L133.69 1095.36L125.09 1095.36Z" fill="none" stroke="#ad4a40" stroke-width="3.6" stroke-linejoin="round"/>
<path d="M137.96 1082.55L142.26 1090L133.66 1090Z" fill="none" stroke="#ad4a40" stroke-width="3.6" stroke-linejoin="round"/>
<path d="M151.92 1085.23L156.22 1092.68L147.62 1092.68Z" fill="none" stroke="#ad4a40" stroke-width="3.6" stroke-linejoin="round"/>
<path d="M165.88 1086.57L170.18 1094.02L161.58 1094.02Z" fill="none" stroke="#ad4a40" stroke-width="3.6" stroke-linejoin="round"/>
<path d="M179.84 1086.57L184.14 1094.02L175.54 1094.02Z" fill="none" stroke="#ad4a40" stroke-width="3.6" stroke-linejoin="round"/>
<path d="M193.81 1088.45L198.11 1095.89L189.51 1095.89Z" fill="none" stroke="#ad4a40" stroke-width="3.6" stroke-linejoin="round"/>
<path d="M207.77 1088.45L212.07 1095.89L203.47 1095.89Z" fill="none" stroke="#ad4a40" stroke-width="3.6" stroke-linejoin="round"/>
<path d="M221.73 1090.05L226.03 1097.5L217.43 1097.5Z" fill="none" stroke="#ad4a40" stroke-width="3.6" stroke-linejoin="round"/>
<path d="M235.69 1089.25L239.99 1096.7L231.39 1096.7Z" fill="none" stroke="#ad4a40" stroke-width="3.6" stroke-linejoin="round"/>
<path d="M249.65 1090.05L253.95 1097.5L245.35 1097.5Z" fill="none" stroke="#ad4a40" stroke-width="3.6" stroke-linejoin="round"/>
<path d="M263.62 1089.25L267.92 1096.7L259.32 1096.7Z" fill="none" stroke="#ad4a40" stroke-width="3.6" stroke-linejoin="round"/>
<path d="M277.58 1089.25L281.88 1096.7L273.28 1096.7Z" fill="none" stroke="#ad4a40" stroke-width="3.6" stroke-linejoin="round"/>
<path d="M291.54 1088.45L295.84 1095.89L287.24 1095.89Z" fill="none" stroke="#ad4a40" stroke-width="3.6" stroke-linejoin="round"/>
<path d="M305.5 1087.37L309.8 1094.82L301.2 1094.82Z" fill="none" stroke="#ad4a40" stroke-width="3.6" stroke-linejoin="round"/>
<path d="M319.46 1082.55L323.76 1090L315.16 1090Z" fill="none" stroke="#ad4a40" stroke-width="3.6" stroke-linejoin="round"/>
<path d="M333.43 1076.66L337.73 1084.11L329.13 1084.11Z" fill="none" stroke="#ad4a40" stroke-width="3.6" stroke-linejoin="round"/>
<path d="M347.39 1073.18L351.69 1080.62L343.09 1080.62Z" fill="none" stroke="#ad4a40" stroke-width="3.6" stroke-linejoin="round"/>
<path d="M361.35 1066.48L365.65 1073.93L357.05 1073.93Z" fill="none" stroke="#ad4a40" stroke-width="3.6" stroke-linejoin="round"/>
<path d="M375.31 1058.98L379.61 1066.43L371.01 1066.43Z" fill="none" stroke="#ad4a40" stroke-width="3.6" stroke-linejoin="round"/>
<path d="M389.27 1050.41L393.57 1057.85L384.97 1057.85Z" fill="none" stroke="#ad4a40" stroke-width="3.6" stroke-linejoin="round"/>
<path d="M403.24 1042.91L407.54 1050.35L398.94 1050.35Z" fill="none" stroke="#ad4a40" stroke-width="3.6" stroke-linejoin="round"/>
<path d="M417.2 1034.33L421.5 1041.78L412.9 1041.78Z" fill="none" stroke="#ad4a40" stroke-width="3.6" stroke-linejoin="round"/>
<path d="M431.16 1026.3L435.46 1033.74L426.86 1033.74Z" fill="none" stroke="#ad4a40" stroke-width="3.6" stroke-linejoin="round"/>
<path d="M445.12 1017.72L449.42 1025.17L440.82 1025.17Z" fill="none" stroke="#ad4a40" stroke-width="3.6" stroke-linejoin="round"/>
<path d="M459.08 1008.88L463.38 1016.33L454.78 1016.33Z" fill="none" stroke="#ad4a40" stroke-width="3.6" stroke-linejoin="round"/>
<path d="M473.05 1000.85L477.35 1008.3L468.75 1008.3Z" fill="none" stroke="#ad4a40" stroke-width="3.6" stroke-linejoin="round"/>
<path d="M487.01 991.47L491.31 998.92L482.71 998.92Z" fill="none" stroke="#ad4a40" stroke-width="3.6" stroke-linejoin="round"/>
<path d="M496.92 986.65L501.22 994.1L492.62 994.1Z" fill="none" stroke="#ad4a40" stroke-width="3.6" stroke-linejoin="round"/>
<circle cx="129.39" cy="1037.16" r="3.4" fill="none" stroke="#dfb244" stroke-width="4.2"/>
<circle cx="137.96" cy="1033.14" r="3.4" fill="none" stroke="#dfb244" stroke-width="4.2"/>
<circle cx="151.92" cy="1036.62" r="3.4" fill="none" stroke="#dfb244" stroke-width="4.2"/>
<circle cx="165.88" cy="1039.3" r="3.4" fill="none" stroke="#dfb244" stroke-width="4.2"/>
<circle cx="179.84" cy="1040.64" r="3.4" fill="none" stroke="#dfb244" stroke-width="4.2"/>
<circle cx="193.81" cy="1039.83" r="3.4" fill="none" stroke="#dfb244" stroke-width="4.2"/>
<circle cx="207.77" cy="1038.76" r="3.4" fill="none" stroke="#dfb244" stroke-width="4.2"/>
<circle cx="221.73" cy="1038.76" r="3.4" fill="none" stroke="#dfb244" stroke-width="4.2"/>
<circle cx="235.69" cy="1039.3" r="3.4" fill="none" stroke="#dfb244" stroke-width="4.2"/>
<circle cx="249.65" cy="1041.98" r="3.4" fill="none" stroke="#dfb244" stroke-width="4.2"/>
<circle cx="263.62" cy="1041.44" r="3.4" fill="none" stroke="#dfb244" stroke-width="4.2"/>
<circle cx="277.58" cy="1044.12" r="3.4" fill="none" stroke="#dfb244" stroke-width="4.2"/>
<circle cx="291.54" cy="1042.51" r="3.4" fill="none" stroke="#dfb244" stroke-width="4.2"/>
<circle cx="305.5" cy="1042.51" r="3.4" fill="none" stroke="#dfb244" stroke-width="4.2"/>
<circle cx="319.46" cy="1044.12" r="3.4" fill="none" stroke="#dfb244" stroke-width="4.2"/>
<circle cx="333.43" cy="1043.32" r="3.4" fill="none" stroke="#dfb244" stroke-width="4.2"/>
<circle cx="347.39" cy="1037.16" r="3.4" fill="none" stroke="#dfb244" stroke-width="4.2"/>
<circle cx="361.35" cy="1030.73" r="3.4" fill="none" stroke="#dfb244" stroke-width="4.2"/>
<circle cx="375.31" cy="1029.12" r="3.4" fill="none" stroke="#dfb244" stroke-width="4.2"/>
<circle cx="389.27" cy="1024.56" r="3.4" fill="none" stroke="#dfb244" stroke-width="4.2"/>
<circle cx="403.24" cy="1019.21" r="3.4" fill="none" stroke="#dfb244" stroke-width="4.2"/>
<circle cx="417.2" cy="1011.17" r="3.4" fill="none" stroke="#dfb244" stroke-width="4.2"/>
<circle cx="431.16" cy="1003.13" r="3.4" fill="none" stroke="#dfb244" stroke-width="4.2"/>
<circle cx="445.12" cy="995.9" r="3.4" fill="none" stroke="#dfb244" stroke-width="4.2"/>
<circle cx="459.08" cy="988.4" r="3.4" fill="none" stroke="#dfb244" stroke-width="4.2"/>
<circle cx="473.05" cy="979.83" r="3.4" fill="none" stroke="#dfb244" stroke-width="4.2"/>
<circle cx="487.01" cy="972.86" r="3.4" fill="none" stroke="#dfb244" stroke-width="4.2"/>
<circle cx="496.92" cy="968.31" r="3.4" fill="none" stroke="#dfb244" stroke-width="4.2"/>
<rect x="135.06" y="1016.31" width="5.8" height="5.8" fill="none" stroke="#435283" stroke-width="3.8"/>
<rect x="149.02" y="1016.31" width="5.8" height="5.8" fill="none" stroke="#435283" stroke-width="3.8"/>
<rect x="162.98" y="1017.65" width="5.8" height="5.8" fill="none" stroke="#435283" stroke-width="3.8"/>
<rect x="176.94" y="1017.11" width="5.8" height="5.8" fill="none" stroke="#435283" stroke-width="3.8"/>
<rect x="190.91" y="1014.97" width="5.8" height="5.8" fill="none" stroke="#435283" stroke-width="3.8"/>
<rect x="204.87" y="1013.63" width="5.8" height="5.8" fill="none" stroke="#435283" stroke-width="3.8"/>
<rect x="218.83" y="1012.29" width="5.8" height="5.8" fill="none" stroke="#435283" stroke-width="3.8"/>
<rect x="232.79" y="1012.82" width="5.8" height="5.8" fill="none" stroke="#435283" stroke-width="3.8"/>
<rect x="246.75" y="1014.43" width="5.8" height="5.8" fill="none" stroke="#435283" stroke-width="3.8"/>
<rect x="260.72" y="1017.65" width="5.8" height="5.8" fill="none" stroke="#435283" stroke-width="3.8"/>
<rect x="274.68" y="1018.18" width="5.8" height="5.8" fill="none" stroke="#435283" stroke-width="3.8"/>
<rect x="288.64" y="1018.18" width="5.8" height="5.8" fill="none" stroke="#435283" stroke-width="3.8"/>
<rect x="302.6" y="1018.99" width="5.8" height="5.8" fill="none" stroke="#435283" stroke-width="3.8"/>
<rect x="316.56" y="1018.99" width="5.8" height="5.8" fill="none" stroke="#435283" stroke-width="3.8"/>
<rect x="330.53" y="1017.11" width="5.8" height="5.8" fill="none" stroke="#435283" stroke-width="3.8"/>
<rect x="344.49" y="1018.99" width="5.8" height="5.8" fill="none" stroke="#435283" stroke-width="3.8"/>
<rect x="358.45" y="1018.18" width="5.8" height="5.8" fill="none" stroke="#435283" stroke-width="3.8"/>
<rect x="372.41" y="1013.63" width="5.8" height="5.8" fill="none" stroke="#435283" stroke-width="3.8"/>
<rect x="386.37" y="1006.4" width="5.8" height="5.8" fill="none" stroke="#435283" stroke-width="3.8"/>
<rect x="400.34" y="1002.91" width="5.8" height="5.8" fill="none" stroke="#435283" stroke-width="3.8"/>
<rect x="414.3" y="998.36" width="5.8" height="5.8" fill="none" stroke="#435283" stroke-width="3.8"/>
<rect x="428.26" y="993.54" width="5.8" height="5.8" fill="none" stroke="#435283" stroke-width="3.8"/>
<rect x="442.22" y="986.04" width="5.8" height="5.8" fill="none" stroke="#435283" stroke-width="3.8"/>
<rect x="456.18" y="977.46" width="5.8" height="5.8" fill="none" stroke="#435283" stroke-width="3.8"/>
<rect x="470.15" y="970.77" width="5.8" height="5.8" fill="none" stroke="#435283" stroke-width="3.8"/>
<rect x="484.11" y="962.73" width="5.8" height="5.8" fill="none" stroke="#435283" stroke-width="3.8"/>
<rect x="494.02" y="958.18" width="5.8" height="5.8" fill="none" stroke="#435283" stroke-width="3.8"/>
</g>
<rect x="129.2" y="948.7" width="383.8" height="294.8" fill="none" stroke="#231f20" stroke-width="2.6"/>
<line x1="119.2" y1="1242.9" x2="127.9" y2="1242.9" stroke="#231f20" stroke-width="2.3" stroke-linecap="butt"/>
<line x1="123.9" y1="1214.14" x2="127.9" y2="1214.14" stroke="#231f20" stroke-width="1.9" stroke-linecap="butt"/>
<line x1="123.9" y1="1197.32" x2="127.9" y2="1197.32" stroke="#231f20" stroke-width="1.9" stroke-linecap="butt"/>
<line x1="123.9" y1="1185.38" x2="127.9" y2="1185.38" stroke="#231f20" stroke-width="1.9" stroke-linecap="butt"/>
<line x1="123.9" y1="1176.13" x2="127.9" y2="1176.13" stroke="#231f20" stroke-width="1.9" stroke-linecap="butt"/>
<line x1="123.9" y1="1168.56" x2="127.9" y2="1168.56" stroke="#231f20" stroke-width="1.9" stroke-linecap="butt"/>
<line x1="123.9" y1="1162.16" x2="127.9" y2="1162.16" stroke="#231f20" stroke-width="1.9" stroke-linecap="butt"/>
<line x1="123.9" y1="1156.62" x2="127.9" y2="1156.62" stroke="#231f20" stroke-width="1.9" stroke-linecap="butt"/>
<line x1="123.9" y1="1151.74" x2="127.9" y2="1151.74" stroke="#231f20" stroke-width="1.9" stroke-linecap="butt"/>
<line x1="119.2" y1="1147.37" x2="127.9" y2="1147.37" stroke="#231f20" stroke-width="2.3" stroke-linecap="butt"/>
<line x1="123.9" y1="1118.61" x2="127.9" y2="1118.61" stroke="#231f20" stroke-width="1.9" stroke-linecap="butt"/>
<line x1="123.9" y1="1101.79" x2="127.9" y2="1101.79" stroke="#231f20" stroke-width="1.9" stroke-linecap="butt"/>
<line x1="123.9" y1="1089.85" x2="127.9" y2="1089.85" stroke="#231f20" stroke-width="1.9" stroke-linecap="butt"/>
<line x1="123.9" y1="1080.59" x2="127.9" y2="1080.59" stroke="#231f20" stroke-width="1.9" stroke-linecap="butt"/>
<line x1="123.9" y1="1073.03" x2="127.9" y2="1073.03" stroke="#231f20" stroke-width="1.9" stroke-linecap="butt"/>
<line x1="123.9" y1="1066.63" x2="127.9" y2="1066.63" stroke="#231f20" stroke-width="1.9" stroke-linecap="butt"/>
<line x1="123.9" y1="1061.09" x2="127.9" y2="1061.09" stroke="#231f20" stroke-width="1.9" stroke-linecap="butt"/>
<line x1="123.9" y1="1056.2" x2="127.9" y2="1056.2" stroke="#231f20" stroke-width="1.9" stroke-linecap="butt"/>
<line x1="119.2" y1="1051.83" x2="127.9" y2="1051.83" stroke="#231f20" stroke-width="2.3" stroke-linecap="butt"/>
<line x1="123.9" y1="1023.07" x2="127.9" y2="1023.07" stroke="#231f20" stroke-width="1.9" stroke-linecap="butt"/>
<line x1="123.9" y1="1006.25" x2="127.9" y2="1006.25" stroke="#231f20" stroke-width="1.9" stroke-linecap="butt"/>
<line x1="123.9" y1="994.32" x2="127.9" y2="994.32" stroke="#231f20" stroke-width="1.9" stroke-linecap="butt"/>
<line x1="123.9" y1="985.06" x2="127.9" y2="985.06" stroke="#231f20" stroke-width="1.9" stroke-linecap="butt"/>
<line x1="123.9" y1="977.49" x2="127.9" y2="977.49" stroke="#231f20" stroke-width="1.9" stroke-linecap="butt"/>
<line x1="123.9" y1="971.1" x2="127.9" y2="971.1" stroke="#231f20" stroke-width="1.9" stroke-linecap="butt"/>
<line x1="123.9" y1="965.56" x2="127.9" y2="965.56" stroke="#231f20" stroke-width="1.9" stroke-linecap="butt"/>
<line x1="123.9" y1="960.67" x2="127.9" y2="960.67" stroke="#231f20" stroke-width="1.9" stroke-linecap="butt"/>
<line x1="119.2" y1="956.3" x2="127.9" y2="956.3" stroke="#231f20" stroke-width="2.3" stroke-linecap="butt"/>
<text x="111.7" y="1255.8" font-size="31" text-anchor="end" fill="#231f20" font-weight="bold">10<tspan font-size="18" dy="-10.2">−1</tspan></text>
<text x="111.7" y="1158.5" font-size="31" text-anchor="end" fill="#231f20" font-weight="bold">10<tspan font-size="18" dy="-10.2">0</tspan></text>
<text x="111.7" y="1062" font-size="31" text-anchor="end" fill="#231f20" font-weight="bold">10<tspan font-size="18" dy="-10.2">1</tspan></text>
<text x="111.7" y="964.5" font-size="31" text-anchor="end" fill="#231f20" font-weight="bold">10<tspan font-size="18" dy="-10.2">2</tspan></text>
<line x1="128.6" y1="1244.8" x2="128.6" y2="1253.3" stroke="#231f20" stroke-width="2.3" stroke-linecap="butt"/>
<line x1="156.28" y1="1244.8" x2="156.28" y2="1248.8" stroke="#231f20" stroke-width="1.9" stroke-linecap="butt"/>
<line x1="172.47" y1="1244.8" x2="172.47" y2="1248.8" stroke="#231f20" stroke-width="1.9" stroke-linecap="butt"/>
<line x1="183.96" y1="1244.8" x2="183.96" y2="1248.8" stroke="#231f20" stroke-width="1.9" stroke-linecap="butt"/>
<line x1="192.87" y1="1244.8" x2="192.87" y2="1248.8" stroke="#231f20" stroke-width="1.9" stroke-linecap="butt"/>
<line x1="200.15" y1="1244.8" x2="200.15" y2="1248.8" stroke="#231f20" stroke-width="1.9" stroke-linecap="butt"/>
<line x1="206.31" y1="1244.8" x2="206.31" y2="1248.8" stroke="#231f20" stroke-width="1.9" stroke-linecap="butt"/>
<line x1="211.64" y1="1244.8" x2="211.64" y2="1248.8" stroke="#231f20" stroke-width="1.9" stroke-linecap="butt"/>
<line x1="216.34" y1="1244.8" x2="216.34" y2="1248.8" stroke="#231f20" stroke-width="1.9" stroke-linecap="butt"/>
<line x1="220.55" y1="1244.8" x2="220.55" y2="1253.3" stroke="#231f20" stroke-width="2.3" stroke-linecap="butt"/>
<line x1="248.23" y1="1244.8" x2="248.23" y2="1248.8" stroke="#231f20" stroke-width="1.9" stroke-linecap="butt"/>
<line x1="264.42" y1="1244.8" x2="264.42" y2="1248.8" stroke="#231f20" stroke-width="1.9" stroke-linecap="butt"/>
<line x1="275.91" y1="1244.8" x2="275.91" y2="1248.8" stroke="#231f20" stroke-width="1.9" stroke-linecap="butt"/>
<line x1="284.82" y1="1244.8" x2="284.82" y2="1248.8" stroke="#231f20" stroke-width="1.9" stroke-linecap="butt"/>
<line x1="292.1" y1="1244.8" x2="292.1" y2="1248.8" stroke="#231f20" stroke-width="1.9" stroke-linecap="butt"/>
<line x1="298.26" y1="1244.8" x2="298.26" y2="1248.8" stroke="#231f20" stroke-width="1.9" stroke-linecap="butt"/>
<line x1="303.59" y1="1244.8" x2="303.59" y2="1248.8" stroke="#231f20" stroke-width="1.9" stroke-linecap="butt"/>
<line x1="308.29" y1="1244.8" x2="308.29" y2="1248.8" stroke="#231f20" stroke-width="1.9" stroke-linecap="butt"/>
<line x1="312.5" y1="1244.8" x2="312.5" y2="1253.3" stroke="#231f20" stroke-width="2.3" stroke-linecap="butt"/>
<line x1="340.18" y1="1244.8" x2="340.18" y2="1248.8" stroke="#231f20" stroke-width="1.9" stroke-linecap="butt"/>
<line x1="356.37" y1="1244.8" x2="356.37" y2="1248.8" stroke="#231f20" stroke-width="1.9" stroke-linecap="butt"/>
<line x1="367.86" y1="1244.8" x2="367.86" y2="1248.8" stroke="#231f20" stroke-width="1.9" stroke-linecap="butt"/>
<line x1="376.77" y1="1244.8" x2="376.77" y2="1248.8" stroke="#231f20" stroke-width="1.9" stroke-linecap="butt"/>
<line x1="384.05" y1="1244.8" x2="384.05" y2="1248.8" stroke="#231f20" stroke-width="1.9" stroke-linecap="butt"/>
<line x1="390.21" y1="1244.8" x2="390.21" y2="1248.8" stroke="#231f20" stroke-width="1.9" stroke-linecap="butt"/>
<line x1="395.54" y1="1244.8" x2="395.54" y2="1248.8" stroke="#231f20" stroke-width="1.9" stroke-linecap="butt"/>
<line x1="400.24" y1="1244.8" x2="400.24" y2="1248.8" stroke="#231f20" stroke-width="1.9" stroke-linecap="butt"/>
<line x1="404.45" y1="1244.8" x2="404.45" y2="1253.3" stroke="#231f20" stroke-width="2.3" stroke-linecap="butt"/>
<line x1="432.13" y1="1244.8" x2="432.13" y2="1248.8" stroke="#231f20" stroke-width="1.9" stroke-linecap="butt"/>
<line x1="448.32" y1="1244.8" x2="448.32" y2="1248.8" stroke="#231f20" stroke-width="1.9" stroke-linecap="butt"/>
<line x1="459.81" y1="1244.8" x2="459.81" y2="1248.8" stroke="#231f20" stroke-width="1.9" stroke-linecap="butt"/>
<line x1="468.72" y1="1244.8" x2="468.72" y2="1248.8" stroke="#231f20" stroke-width="1.9" stroke-linecap="butt"/>
<line x1="476" y1="1244.8" x2="476" y2="1248.8" stroke="#231f20" stroke-width="1.9" stroke-linecap="butt"/>
<line x1="482.16" y1="1244.8" x2="482.16" y2="1248.8" stroke="#231f20" stroke-width="1.9" stroke-linecap="butt"/>
<line x1="487.49" y1="1244.8" x2="487.49" y2="1248.8" stroke="#231f20" stroke-width="1.9" stroke-linecap="butt"/>
<line x1="492.19" y1="1244.8" x2="492.19" y2="1248.8" stroke="#231f20" stroke-width="1.9" stroke-linecap="butt"/>
<line x1="496.4" y1="1244.8" x2="496.4" y2="1253.3" stroke="#231f20" stroke-width="2.3" stroke-linecap="butt"/>
<text x="128.6" y="1288.5" font-size="31" text-anchor="middle" fill="#231f20" font-weight="bold">10<tspan font-size="18" dy="-10.7">−2</tspan></text>
<text x="220.55" y="1288.5" font-size="31" text-anchor="middle" fill="#231f20" font-weight="bold">10<tspan font-size="18" dy="-10.7">−1</tspan></text>
<text x="312.5" y="1288.5" font-size="31" text-anchor="middle" fill="#231f20" font-weight="bold">10<tspan font-size="18" dy="-10.7">0</tspan></text>
<text x="404.45" y="1288.5" font-size="31" text-anchor="middle" fill="#231f20" font-weight="bold">10<tspan font-size="18" dy="-10.7">1</tspan></text>
<text x="496.4" y="1288.5" font-size="31" text-anchor="middle" fill="#231f20" font-weight="bold">10<tspan font-size="18" dy="-10.7">2</tspan></text>
<text x="40.99" y="1100.9" font-size="30.5" text-anchor="middle" fill="#231f20" font-weight="bold" transform="rotate(-90 40.99 1100.9)">Shear stress/Pa</text>
<text x="223" y="1324.6" font-size="30.5" font-weight="bold" fill="#231f20">Shear rate/s<tspan font-size="18" dy="-12">−1</tspan></text>
<path d="M637.06 1116.59L641.36 1109.14L632.76 1109.14Z" fill="none" stroke="#4a8a5e" stroke-width="3.6" stroke-linejoin="round"/>
<path d="M649.39 1111.23L653.69 1103.79L645.09 1103.79Z" fill="none" stroke="#4a8a5e" stroke-width="3.6" stroke-linejoin="round"/>
<path d="M661.44 1109.89L665.74 1102.45L657.14 1102.45Z" fill="none" stroke="#4a8a5e" stroke-width="3.6" stroke-linejoin="round"/>
<path d="M673.23 1110.7L677.53 1103.25L668.93 1103.25Z" fill="none" stroke="#4a8a5e" stroke-width="3.6" stroke-linejoin="round"/>
<path d="M685.55 1111.77L689.85 1104.32L681.25 1104.32Z" fill="none" stroke="#4a8a5e" stroke-width="3.6" stroke-linejoin="round"/>
<path d="M697.34 1112.57L701.64 1105.13L693.04 1105.13Z" fill="none" stroke="#4a8a5e" stroke-width="3.6" stroke-linejoin="round"/>
<path d="M709.66 1113.38L713.96 1105.93L705.36 1105.93Z" fill="none" stroke="#4a8a5e" stroke-width="3.6" stroke-linejoin="round"/>
<path d="M721.45 1113.38L725.75 1105.93L717.15 1105.93Z" fill="none" stroke="#4a8a5e" stroke-width="3.6" stroke-linejoin="round"/>
<path d="M733.5 1114.45L737.8 1107L729.2 1107Z" fill="none" stroke="#4a8a5e" stroke-width="3.6" stroke-linejoin="round"/>
<path d="M745.56 1115.25L749.86 1107.8L741.26 1107.8Z" fill="none" stroke="#4a8a5e" stroke-width="3.6" stroke-linejoin="round"/>
<path d="M757.61 1116.06L761.91 1108.61L753.31 1108.61Z" fill="none" stroke="#4a8a5e" stroke-width="3.6" stroke-linejoin="round"/>
<path d="M769.67 1116.06L773.97 1108.61L765.37 1108.61Z" fill="none" stroke="#4a8a5e" stroke-width="3.6" stroke-linejoin="round"/>
<path d="M781.72 1116.59L786.02 1109.14L777.42 1109.14Z" fill="none" stroke="#4a8a5e" stroke-width="3.6" stroke-linejoin="round"/>
<path d="M793.77 1116.59L798.07 1109.14L789.47 1109.14Z" fill="none" stroke="#4a8a5e" stroke-width="3.6" stroke-linejoin="round"/>
<path d="M806.1 1116.59L810.4 1109.14L801.8 1109.14Z" fill="none" stroke="#4a8a5e" stroke-width="3.6" stroke-linejoin="round"/>
<path d="M808.78 1210.35L813.08 1202.9L804.48 1202.9Z" fill="none" stroke="#4a8a5e" stroke-width="3.6" stroke-linejoin="round"/>
<path d="M814.67 1211.69L818.97 1204.24L810.37 1204.24Z" fill="none" stroke="#4a8a5e" stroke-width="3.6" stroke-linejoin="round"/>
<path d="M821.37 1211.69L825.67 1204.24L817.07 1204.24Z" fill="none" stroke="#4a8a5e" stroke-width="3.6" stroke-linejoin="round"/>
<path d="M832.89 1134L837.19 1126.56L828.59 1126.56Z" fill="none" stroke="#4a8a5e" stroke-width="3.6" stroke-linejoin="round"/>
<path d="M844.94 1135.34L849.24 1127.9L840.64 1127.9Z" fill="none" stroke="#4a8a5e" stroke-width="3.6" stroke-linejoin="round"/>
<path d="M856.99 1132.13L861.29 1124.68L852.69 1124.68Z" fill="none" stroke="#4a8a5e" stroke-width="3.6" stroke-linejoin="round"/>
<path d="M869.05 1131.32L873.35 1123.88L864.75 1123.88Z" fill="none" stroke="#4a8a5e" stroke-width="3.6" stroke-linejoin="round"/>
<path d="M881.1 1130.52L885.4 1123.07L876.8 1123.07Z" fill="none" stroke="#4a8a5e" stroke-width="3.6" stroke-linejoin="round"/>
<path d="M893.16 1129.99L897.46 1122.54L888.86 1122.54Z" fill="none" stroke="#4a8a5e" stroke-width="3.6" stroke-linejoin="round"/>
<path d="M905.21 1129.45L909.51 1122L900.91 1122Z" fill="none" stroke="#4a8a5e" stroke-width="3.6" stroke-linejoin="round"/>
<path d="M917.27 1129.45L921.57 1122L912.97 1122Z" fill="none" stroke="#4a8a5e" stroke-width="3.6" stroke-linejoin="round"/>
<path d="M929.32 1128.65L933.62 1121.2L925.02 1121.2Z" fill="none" stroke="#4a8a5e" stroke-width="3.6" stroke-linejoin="round"/>
<path d="M941.38 1128.65L945.68 1121.2L937.08 1121.2Z" fill="none" stroke="#4a8a5e" stroke-width="3.6" stroke-linejoin="round"/>
<path d="M953.43 1128.11L957.73 1120.66L949.13 1120.66Z" fill="none" stroke="#4a8a5e" stroke-width="3.6" stroke-linejoin="round"/>
<path d="M965.49 1128.11L969.79 1120.66L961.19 1120.66Z" fill="none" stroke="#4a8a5e" stroke-width="3.6" stroke-linejoin="round"/>
<path d="M977.54 1127.84L981.84 1120.39L973.24 1120.39Z" fill="none" stroke="#4a8a5e" stroke-width="3.6" stroke-linejoin="round"/>
<path d="M989.6 1127.84L993.9 1120.39L985.3 1120.39Z" fill="none" stroke="#4a8a5e" stroke-width="3.6" stroke-linejoin="round"/>
<path d="M999.51 1127.31L1003.81 1119.86L995.21 1119.86Z" fill="none" stroke="#4a8a5e" stroke-width="3.6" stroke-linejoin="round"/>
<path d="M637.06 1026.3L641.36 1033.74L632.76 1033.74Z" fill="none" stroke="#ad4a40" stroke-width="3.6" stroke-linejoin="round"/>
<path d="M649.39 1018.26L653.69 1025.71L645.09 1025.71Z" fill="none" stroke="#ad4a40" stroke-width="3.6" stroke-linejoin="round"/>
<path d="M661.44 1015.58L665.74 1023.03L657.14 1023.03Z" fill="none" stroke="#ad4a40" stroke-width="3.6" stroke-linejoin="round"/>
<path d="M673.23 1017.72L677.53 1025.17L668.93 1025.17Z" fill="none" stroke="#ad4a40" stroke-width="3.6" stroke-linejoin="round"/>
<path d="M685.55 1018.8L689.85 1026.24L681.25 1026.24Z" fill="none" stroke="#ad4a40" stroke-width="3.6" stroke-linejoin="round"/>
<path d="M697.34 1019.6L701.64 1027.05L693.04 1027.05Z" fill="none" stroke="#ad4a40" stroke-width="3.6" stroke-linejoin="round"/>
<path d="M709.66 1019.6L713.96 1027.05L705.36 1027.05Z" fill="none" stroke="#ad4a40" stroke-width="3.6" stroke-linejoin="round"/>
<path d="M721.45 1020.4L725.75 1027.85L717.15 1027.85Z" fill="none" stroke="#ad4a40" stroke-width="3.6" stroke-linejoin="round"/>
<path d="M733.5 1020.94L737.8 1028.39L729.2 1028.39Z" fill="none" stroke="#ad4a40" stroke-width="3.6" stroke-linejoin="round"/>
<path d="M745.56 1020.94L749.86 1028.39L741.26 1028.39Z" fill="none" stroke="#ad4a40" stroke-width="3.6" stroke-linejoin="round"/>
<path d="M757.61 1020.94L761.91 1028.39L753.31 1028.39Z" fill="none" stroke="#ad4a40" stroke-width="3.6" stroke-linejoin="round"/>
<path d="M769.67 1021.47L773.97 1028.92L765.37 1028.92Z" fill="none" stroke="#ad4a40" stroke-width="3.6" stroke-linejoin="round"/>
<path d="M781.72 1021.74L786.02 1029.19L777.42 1029.19Z" fill="none" stroke="#ad4a40" stroke-width="3.6" stroke-linejoin="round"/>
<path d="M793.77 1021.47L798.07 1028.92L789.47 1028.92Z" fill="none" stroke="#ad4a40" stroke-width="3.6" stroke-linejoin="round"/>
<path d="M806.1 1021.47L810.4 1028.92L801.8 1028.92Z" fill="none" stroke="#ad4a40" stroke-width="3.6" stroke-linejoin="round"/>
<path d="M808.78 1170.95L813.08 1178.4L804.48 1178.4Z" fill="none" stroke="#ad4a40" stroke-width="3.6" stroke-linejoin="round"/>
<path d="M814.67 1170.95L818.97 1178.4L810.37 1178.4Z" fill="none" stroke="#ad4a40" stroke-width="3.6" stroke-linejoin="round"/>
<path d="M821.37 1171.49L825.67 1178.94L817.07 1178.94Z" fill="none" stroke="#ad4a40" stroke-width="3.6" stroke-linejoin="round"/>
<path d="M832.89 1055.23L837.19 1062.68L828.59 1062.68Z" fill="none" stroke="#ad4a40" stroke-width="3.6" stroke-linejoin="round"/>
<path d="M844.94 1048.26L849.24 1055.71L840.64 1055.71Z" fill="none" stroke="#ad4a40" stroke-width="3.6" stroke-linejoin="round"/>
<path d="M856.99 1045.58L861.29 1053.03L852.69 1053.03Z" fill="none" stroke="#ad4a40" stroke-width="3.6" stroke-linejoin="round"/>
<path d="M869.05 1043.71L873.35 1051.16L864.75 1051.16Z" fill="none" stroke="#ad4a40" stroke-width="3.6" stroke-linejoin="round"/>
<path d="M881.1 1042.91L885.4 1050.35L876.8 1050.35Z" fill="none" stroke="#ad4a40" stroke-width="3.6" stroke-linejoin="round"/>
<path d="M893.16 1041.83L897.46 1049.28L888.86 1049.28Z" fill="none" stroke="#ad4a40" stroke-width="3.6" stroke-linejoin="round"/>
<path d="M905.21 1041.57L909.51 1049.01L900.91 1049.01Z" fill="none" stroke="#ad4a40" stroke-width="3.6" stroke-linejoin="round"/>
<path d="M917.27 1041.03L921.57 1048.48L912.97 1048.48Z" fill="none" stroke="#ad4a40" stroke-width="3.6" stroke-linejoin="round"/>
<path d="M929.32 1040.49L933.62 1047.94L925.02 1047.94Z" fill="none" stroke="#ad4a40" stroke-width="3.6" stroke-linejoin="round"/>
<path d="M941.38 1040.23L945.68 1047.67L937.08 1047.67Z" fill="none" stroke="#ad4a40" stroke-width="3.6" stroke-linejoin="round"/>
<path d="M953.43 1039.96L957.73 1047.41L949.13 1047.41Z" fill="none" stroke="#ad4a40" stroke-width="3.6" stroke-linejoin="round"/>
<path d="M965.49 1039.69L969.79 1047.14L961.19 1047.14Z" fill="none" stroke="#ad4a40" stroke-width="3.6" stroke-linejoin="round"/>
<path d="M977.54 1039.69L981.84 1047.14L973.24 1047.14Z" fill="none" stroke="#ad4a40" stroke-width="3.6" stroke-linejoin="round"/>
<path d="M989.6 1039.69L993.9 1047.14L985.3 1047.14Z" fill="none" stroke="#ad4a40" stroke-width="3.6" stroke-linejoin="round"/>
<path d="M999.51 1039.69L1003.81 1047.14L995.21 1047.14Z" fill="none" stroke="#ad4a40" stroke-width="3.6" stroke-linejoin="round"/>
<circle cx="637.06" cy="1011.17" r="3.4" fill="none" stroke="#dfb244" stroke-width="4.2"/>
<circle cx="649.39" cy="1000.46" r="3.4" fill="none" stroke="#dfb244" stroke-width="4.2"/>
<circle cx="661.44" cy="997.78" r="3.4" fill="none" stroke="#dfb244" stroke-width="4.2"/>
<circle cx="673.23" cy="998.31" r="3.4" fill="none" stroke="#dfb244" stroke-width="4.2"/>
<circle cx="685.55" cy="999.12" r="3.4" fill="none" stroke="#dfb244" stroke-width="4.2"/>
<circle cx="697.34" cy="999.65" r="3.4" fill="none" stroke="#dfb244" stroke-width="4.2"/>
<circle cx="709.66" cy="1000.46" r="3.4" fill="none" stroke="#dfb244" stroke-width="4.2"/>
<circle cx="721.45" cy="1000.46" r="3.4" fill="none" stroke="#dfb244" stroke-width="4.2"/>
<circle cx="733.5" cy="1001.26" r="3.4" fill="none" stroke="#dfb244" stroke-width="4.2"/>
<circle cx="745.56" cy="1001.26" r="3.4" fill="none" stroke="#dfb244" stroke-width="4.2"/>
<circle cx="757.61" cy="1001.79" r="3.4" fill="none" stroke="#dfb244" stroke-width="4.2"/>
<circle cx="769.67" cy="1002.33" r="3.4" fill="none" stroke="#dfb244" stroke-width="4.2"/>
<circle cx="781.72" cy="1001.79" r="3.4" fill="none" stroke="#dfb244" stroke-width="4.2"/>
<circle cx="793.77" cy="1002.33" r="3.4" fill="none" stroke="#dfb244" stroke-width="4.2"/>
<circle cx="806.1" cy="1002.6" r="3.4" fill="none" stroke="#dfb244" stroke-width="4.2"/>
<circle cx="808.78" cy="1163.86" r="3.4" fill="none" stroke="#dfb244" stroke-width="4.2"/>
<circle cx="814.67" cy="1163.86" r="3.4" fill="none" stroke="#dfb244" stroke-width="4.2"/>
<circle cx="821.37" cy="1164.4" r="3.4" fill="none" stroke="#dfb244" stroke-width="4.2"/>
<circle cx="832.89" cy="1034.48" r="3.4" fill="none" stroke="#dfb244" stroke-width="4.2"/>
<circle cx="844.94" cy="1025.37" r="3.4" fill="none" stroke="#dfb244" stroke-width="4.2"/>
<circle cx="856.99" cy="1021.89" r="3.4" fill="none" stroke="#dfb244" stroke-width="4.2"/>
<circle cx="869.05" cy="1020.01" r="3.4" fill="none" stroke="#dfb244" stroke-width="4.2"/>
<circle cx="881.1" cy="1018.4" r="3.4" fill="none" stroke="#dfb244" stroke-width="4.2"/>
<circle cx="893.16" cy="1017.87" r="3.4" fill="none" stroke="#dfb244" stroke-width="4.2"/>
<circle cx="905.21" cy="1017.06" r="3.4" fill="none" stroke="#dfb244" stroke-width="4.2"/>
<circle cx="917.27" cy="1016.53" r="3.4" fill="none" stroke="#dfb244" stroke-width="4.2"/>
<circle cx="929.32" cy="1015.99" r="3.4" fill="none" stroke="#dfb244" stroke-width="4.2"/>
<circle cx="941.38" cy="1015.72" r="3.4" fill="none" stroke="#dfb244" stroke-width="4.2"/>
<circle cx="953.43" cy="1015.72" r="3.4" fill="none" stroke="#dfb244" stroke-width="4.2"/>
<circle cx="965.49" cy="1015.19" r="3.4" fill="none" stroke="#dfb244" stroke-width="4.2"/>
<circle cx="977.54" cy="1015.19" r="3.4" fill="none" stroke="#dfb244" stroke-width="4.2"/>
<circle cx="989.6" cy="1014.65" r="3.4" fill="none" stroke="#dfb244" stroke-width="4.2"/>
<circle cx="999.51" cy="1014.65" r="3.4" fill="none" stroke="#dfb244" stroke-width="4.2"/>
<rect x="634.16" y="993.54" width="5.8" height="5.8" fill="none" stroke="#435283" stroke-width="3.8"/>
<rect x="646.49" y="980.68" width="5.8" height="5.8" fill="none" stroke="#435283" stroke-width="3.8"/>
<rect x="658.54" y="976.66" width="5.8" height="5.8" fill="none" stroke="#435283" stroke-width="3.8"/>
<rect x="670.33" y="975.32" width="5.8" height="5.8" fill="none" stroke="#435283" stroke-width="3.8"/>
<rect x="682.65" y="974.79" width="5.8" height="5.8" fill="none" stroke="#435283" stroke-width="3.8"/>
<rect x="694.44" y="975.32" width="5.8" height="5.8" fill="none" stroke="#435283" stroke-width="3.8"/>
<rect x="706.76" y="976.66" width="5.8" height="5.8" fill="none" stroke="#435283" stroke-width="3.8"/>
<rect x="718.55" y="976.66" width="5.8" height="5.8" fill="none" stroke="#435283" stroke-width="3.8"/>
<rect x="730.6" y="976.66" width="5.8" height="5.8" fill="none" stroke="#435283" stroke-width="3.8"/>
<rect x="742.66" y="976.93" width="5.8" height="5.8" fill="none" stroke="#435283" stroke-width="3.8"/>
<rect x="754.71" y="978" width="5.8" height="5.8" fill="none" stroke="#435283" stroke-width="3.8"/>
<rect x="766.77" y="979.34" width="5.8" height="5.8" fill="none" stroke="#435283" stroke-width="3.8"/>
<rect x="778.82" y="978.27" width="5.8" height="5.8" fill="none" stroke="#435283" stroke-width="3.8"/>
<rect x="790.87" y="978.8" width="5.8" height="5.8" fill="none" stroke="#435283" stroke-width="3.8"/>
<rect x="803.2" y="980.14" width="5.8" height="5.8" fill="none" stroke="#435283" stroke-width="3.8"/>
<rect x="805.88" y="1150.25" width="5.8" height="5.8" fill="none" stroke="#435283" stroke-width="3.8"/>
<rect x="811.77" y="1152.12" width="5.8" height="5.8" fill="none" stroke="#435283" stroke-width="3.8"/>
<rect x="818.47" y="1152.93" width="5.8" height="5.8" fill="none" stroke="#435283" stroke-width="3.8"/>
<rect x="829.99" y="1018.18" width="5.8" height="5.8" fill="none" stroke="#435283" stroke-width="3.8"/>
<rect x="842.04" y="1006.93" width="5.8" height="5.8" fill="none" stroke="#435283" stroke-width="3.8"/>
<rect x="854.09" y="1002.91" width="5.8" height="5.8" fill="none" stroke="#435283" stroke-width="3.8"/>
<rect x="866.15" y="1000.23" width="5.8" height="5.8" fill="none" stroke="#435283" stroke-width="3.8"/>
<rect x="878.2" y="998.36" width="5.8" height="5.8" fill="none" stroke="#435283" stroke-width="3.8"/>
<rect x="890.26" y="997.56" width="5.8" height="5.8" fill="none" stroke="#435283" stroke-width="3.8"/>
<rect x="902.31" y="997.56" width="5.8" height="5.8" fill="none" stroke="#435283" stroke-width="3.8"/>
<rect x="914.37" y="996.75" width="5.8" height="5.8" fill="none" stroke="#435283" stroke-width="3.8"/>
<rect x="926.42" y="996.22" width="5.8" height="5.8" fill="none" stroke="#435283" stroke-width="3.8"/>
<rect x="938.48" y="995.68" width="5.8" height="5.8" fill="none" stroke="#435283" stroke-width="3.8"/>
<rect x="950.53" y="995.68" width="5.8" height="5.8" fill="none" stroke="#435283" stroke-width="3.8"/>
<rect x="962.59" y="995.41" width="5.8" height="5.8" fill="none" stroke="#435283" stroke-width="3.8"/>
<rect x="974.64" y="994.88" width="5.8" height="5.8" fill="none" stroke="#435283" stroke-width="3.8"/>
<rect x="986.7" y="994.88" width="5.8" height="5.8" fill="none" stroke="#435283" stroke-width="3.8"/>
<rect x="996.61" y="994.88" width="5.8" height="5.8" fill="none" stroke="#435283" stroke-width="3.8"/>
<rect x="625.6" y="948.5" width="384" height="294.5" fill="none" stroke="#231f20" stroke-width="2.6"/>
<line x1="615.7" y1="1242.9" x2="624.3" y2="1242.9" stroke="#231f20" stroke-width="2.3" stroke-linecap="butt"/>
<line x1="620.7" y1="1225.16" x2="624.3" y2="1225.16" stroke="#231f20" stroke-width="1.9" stroke-linecap="butt"/>
<line x1="620.7" y1="1214.78" x2="624.3" y2="1214.78" stroke="#231f20" stroke-width="1.9" stroke-linecap="butt"/>
<line x1="620.7" y1="1207.41" x2="624.3" y2="1207.41" stroke="#231f20" stroke-width="1.9" stroke-linecap="butt"/>
<line x1="620.7" y1="1201.7" x2="624.3" y2="1201.7" stroke="#231f20" stroke-width="1.9" stroke-linecap="butt"/>
<line x1="620.7" y1="1197.04" x2="624.3" y2="1197.04" stroke="#231f20" stroke-width="1.9" stroke-linecap="butt"/>
<line x1="620.7" y1="1193.09" x2="624.3" y2="1193.09" stroke="#231f20" stroke-width="1.9" stroke-linecap="butt"/>
<line x1="620.7" y1="1189.67" x2="624.3" y2="1189.67" stroke="#231f20" stroke-width="1.9" stroke-linecap="butt"/>
<line x1="620.7" y1="1186.66" x2="624.3" y2="1186.66" stroke="#231f20" stroke-width="1.9" stroke-linecap="butt"/>
<line x1="615.7" y1="1183.96" x2="624.3" y2="1183.96" stroke="#231f20" stroke-width="2.3" stroke-linecap="butt"/>
<line x1="620.7" y1="1166.22" x2="624.3" y2="1166.22" stroke="#231f20" stroke-width="1.9" stroke-linecap="butt"/>
<line x1="620.7" y1="1155.84" x2="624.3" y2="1155.84" stroke="#231f20" stroke-width="1.9" stroke-linecap="butt"/>
<line x1="620.7" y1="1148.47" x2="624.3" y2="1148.47" stroke="#231f20" stroke-width="1.9" stroke-linecap="butt"/>
<line x1="620.7" y1="1142.76" x2="624.3" y2="1142.76" stroke="#231f20" stroke-width="1.9" stroke-linecap="butt"/>
<line x1="620.7" y1="1138.1" x2="624.3" y2="1138.1" stroke="#231f20" stroke-width="1.9" stroke-linecap="butt"/>
<line x1="620.7" y1="1134.15" x2="624.3" y2="1134.15" stroke="#231f20" stroke-width="1.9" stroke-linecap="butt"/>
<line x1="620.7" y1="1130.73" x2="624.3" y2="1130.73" stroke="#231f20" stroke-width="1.9" stroke-linecap="butt"/>
<line x1="620.7" y1="1127.72" x2="624.3" y2="1127.72" stroke="#231f20" stroke-width="1.9" stroke-linecap="butt"/>
<line x1="615.7" y1="1125.02" x2="624.3" y2="1125.02" stroke="#231f20" stroke-width="2.3" stroke-linecap="butt"/>
<line x1="620.7" y1="1107.28" x2="624.3" y2="1107.28" stroke="#231f20" stroke-width="1.9" stroke-linecap="butt"/>
<line x1="620.7" y1="1096.9" x2="624.3" y2="1096.9" stroke="#231f20" stroke-width="1.9" stroke-linecap="butt"/>
<line x1="620.7" y1="1089.53" x2="624.3" y2="1089.53" stroke="#231f20" stroke-width="1.9" stroke-linecap="butt"/>
<line x1="620.7" y1="1083.82" x2="624.3" y2="1083.82" stroke="#231f20" stroke-width="1.9" stroke-linecap="butt"/>
<line x1="620.7" y1="1079.16" x2="624.3" y2="1079.16" stroke="#231f20" stroke-width="1.9" stroke-linecap="butt"/>
<line x1="620.7" y1="1075.21" x2="624.3" y2="1075.21" stroke="#231f20" stroke-width="1.9" stroke-linecap="butt"/>
<line x1="620.7" y1="1071.79" x2="624.3" y2="1071.79" stroke="#231f20" stroke-width="1.9" stroke-linecap="butt"/>
<line x1="620.7" y1="1068.78" x2="624.3" y2="1068.78" stroke="#231f20" stroke-width="1.9" stroke-linecap="butt"/>
<line x1="615.7" y1="1066.08" x2="624.3" y2="1066.08" stroke="#231f20" stroke-width="2.3" stroke-linecap="butt"/>
<line x1="620.7" y1="1048.34" x2="624.3" y2="1048.34" stroke="#231f20" stroke-width="1.9" stroke-linecap="butt"/>
<line x1="620.7" y1="1037.96" x2="624.3" y2="1037.96" stroke="#231f20" stroke-width="1.9" stroke-linecap="butt"/>
<line x1="620.7" y1="1030.59" x2="624.3" y2="1030.59" stroke="#231f20" stroke-width="1.9" stroke-linecap="butt"/>
<line x1="620.7" y1="1024.88" x2="624.3" y2="1024.88" stroke="#231f20" stroke-width="1.9" stroke-linecap="butt"/>
<line x1="620.7" y1="1020.22" x2="624.3" y2="1020.22" stroke="#231f20" stroke-width="1.9" stroke-linecap="butt"/>
<line x1="620.7" y1="1016.27" x2="624.3" y2="1016.27" stroke="#231f20" stroke-width="1.9" stroke-linecap="butt"/>
<line x1="620.7" y1="1012.85" x2="624.3" y2="1012.85" stroke="#231f20" stroke-width="1.9" stroke-linecap="butt"/>
<line x1="620.7" y1="1009.84" x2="624.3" y2="1009.84" stroke="#231f20" stroke-width="1.9" stroke-linecap="butt"/>
<line x1="615.7" y1="1007.14" x2="624.3" y2="1007.14" stroke="#231f20" stroke-width="2.3" stroke-linecap="butt"/>
<line x1="620.7" y1="989.4" x2="624.3" y2="989.4" stroke="#231f20" stroke-width="1.9" stroke-linecap="butt"/>
<line x1="620.7" y1="979.02" x2="624.3" y2="979.02" stroke="#231f20" stroke-width="1.9" stroke-linecap="butt"/>
<line x1="620.7" y1="971.65" x2="624.3" y2="971.65" stroke="#231f20" stroke-width="1.9" stroke-linecap="butt"/>
<line x1="620.7" y1="965.94" x2="624.3" y2="965.94" stroke="#231f20" stroke-width="1.9" stroke-linecap="butt"/>
<line x1="620.7" y1="961.28" x2="624.3" y2="961.28" stroke="#231f20" stroke-width="1.9" stroke-linecap="butt"/>
<line x1="620.7" y1="957.33" x2="624.3" y2="957.33" stroke="#231f20" stroke-width="1.9" stroke-linecap="butt"/>
<line x1="620.7" y1="953.91" x2="624.3" y2="953.91" stroke="#231f20" stroke-width="1.9" stroke-linecap="butt"/>
<line x1="620.7" y1="950.9" x2="624.3" y2="950.9" stroke="#231f20" stroke-width="1.9" stroke-linecap="butt"/>
<text x="605.9" y="1254.4" font-size="31" text-anchor="end" fill="#231f20" font-weight="bold">10<tspan font-size="18" dy="-10">2</tspan></text>
<text x="605.9" y="1195.46" font-size="31" text-anchor="end" fill="#231f20" font-weight="bold">10<tspan font-size="18" dy="-10">3</tspan></text>
<text x="605.9" y="1136.52" font-size="31" text-anchor="end" fill="#231f20" font-weight="bold">10<tspan font-size="18" dy="-10">4</tspan></text>
<text x="605.9" y="1077.58" font-size="31" text-anchor="end" fill="#231f20" font-weight="bold">10<tspan font-size="18" dy="-10">5</tspan></text>
<text x="605.9" y="1018.64" font-size="31" text-anchor="end" fill="#231f20" font-weight="bold">10<tspan font-size="18" dy="-10">6</tspan></text>
<text x="605.9" y="959.7" font-size="31" text-anchor="end" fill="#231f20" font-weight="bold">10<tspan font-size="18" dy="-10">7</tspan></text>
<line x1="624.5" y1="1244.3" x2="624.5" y2="1252.8" stroke="#231f20" stroke-width="2.3" stroke-linecap="butt"/>
<text x="624.5" y="1283" font-size="31" text-anchor="middle" fill="#231f20" font-weight="bold">0</text>
<line x1="700.04" y1="1244.3" x2="700.04" y2="1252.8" stroke="#231f20" stroke-width="2.3" stroke-linecap="butt"/>
<text x="700.04" y="1283" font-size="31" text-anchor="middle" fill="#231f20" font-weight="bold">50</text>
<line x1="775.58" y1="1244.3" x2="775.58" y2="1252.8" stroke="#231f20" stroke-width="2.3" stroke-linecap="butt"/>
<text x="775.58" y="1283" font-size="31" text-anchor="middle" fill="#231f20" font-weight="bold">100</text>
<line x1="851.12" y1="1244.3" x2="851.12" y2="1252.8" stroke="#231f20" stroke-width="2.3" stroke-linecap="butt"/>
<text x="851.12" y="1283" font-size="31" text-anchor="middle" fill="#231f20" font-weight="bold">150</text>
<line x1="926.66" y1="1244.3" x2="926.66" y2="1252.8" stroke="#231f20" stroke-width="2.3" stroke-linecap="butt"/>
<text x="926.66" y="1283" font-size="31" text-anchor="middle" fill="#231f20" font-weight="bold">200</text>
<line x1="1002.2" y1="1244.3" x2="1002.2" y2="1252.8" stroke="#231f20" stroke-width="2.3" stroke-linecap="butt"/>
<text x="1002.2" y="1283" font-size="31" text-anchor="middle" fill="#231f20" font-weight="bold">250</text>
<line x1="662.27" y1="1244.3" x2="662.27" y2="1248.8" stroke="#231f20" stroke-width="1.8" stroke-linecap="butt"/>
<line x1="737.81" y1="1244.3" x2="737.81" y2="1248.8" stroke="#231f20" stroke-width="1.8" stroke-linecap="butt"/>
<line x1="813.35" y1="1244.3" x2="813.35" y2="1248.8" stroke="#231f20" stroke-width="1.8" stroke-linecap="butt"/>
<line x1="888.89" y1="1244.3" x2="888.89" y2="1248.8" stroke="#231f20" stroke-width="1.8" stroke-linecap="butt"/>
<line x1="964.43" y1="1244.3" x2="964.43" y2="1248.8" stroke="#231f20" stroke-width="1.8" stroke-linecap="butt"/>
<text x="554.49" y="1091.5" font-size="30.5" text-anchor="middle" fill="#231f20" font-weight="bold" transform="rotate(-90 554.49 1091.5)">Viscosity/(mPa·s)</text>
<text x="807.4" y="1321.4" font-size="30.5" text-anchor="middle" fill="#231f20" font-weight="bold">Time/s</text>
<path d="M1147.24 1047.48L1151.54 1040.03L1142.94 1040.03Z" fill="none" stroke="#4a8a5e" stroke-width="3.6" stroke-linejoin="round"/>
<path d="M1156.62 1049.09L1160.92 1041.64L1152.32 1041.64Z" fill="none" stroke="#4a8a5e" stroke-width="3.6" stroke-linejoin="round"/>
<path d="M1166.8 1050.16L1171.1 1042.71L1162.5 1042.71Z" fill="none" stroke="#4a8a5e" stroke-width="3.6" stroke-linejoin="round"/>
<path d="M1178.59 1050.96L1182.89 1043.51L1174.29 1043.51Z" fill="none" stroke="#4a8a5e" stroke-width="3.6" stroke-linejoin="round"/>
<path d="M1190.1 1051.76L1194.4 1044.32L1185.8 1044.32Z" fill="none" stroke="#4a8a5e" stroke-width="3.6" stroke-linejoin="round"/>
<path d="M1201.62 1052.3L1205.92 1044.85L1197.32 1044.85Z" fill="none" stroke="#4a8a5e" stroke-width="3.6" stroke-linejoin="round"/>
<path d="M1213.41 1053.64L1217.71 1046.19L1209.11 1046.19Z" fill="none" stroke="#4a8a5e" stroke-width="3.6" stroke-linejoin="round"/>
<path d="M1224.93 1055.51L1229.23 1048.07L1220.63 1048.07Z" fill="none" stroke="#4a8a5e" stroke-width="3.6" stroke-linejoin="round"/>
<path d="M1236.45 1057.66L1240.75 1050.21L1232.15 1050.21Z" fill="none" stroke="#4a8a5e" stroke-width="3.6" stroke-linejoin="round"/>
<path d="M1248.23 1060.34L1252.53 1052.89L1243.93 1052.89Z" fill="none" stroke="#4a8a5e" stroke-width="3.6" stroke-linejoin="round"/>
<path d="M1260.29 1063.82L1264.59 1056.37L1255.99 1056.37Z" fill="none" stroke="#4a8a5e" stroke-width="3.6" stroke-linejoin="round"/>
<path d="M1271.81 1068.37L1276.11 1060.92L1267.51 1060.92Z" fill="none" stroke="#4a8a5e" stroke-width="3.6" stroke-linejoin="round"/>
<path d="M1283.86 1075.07L1288.16 1067.62L1279.56 1067.62Z" fill="none" stroke="#4a8a5e" stroke-width="3.6" stroke-linejoin="round"/>
<path d="M1295.38 1086.59L1299.68 1079.14L1291.08 1079.14Z" fill="none" stroke="#4a8a5e" stroke-width="3.6" stroke-linejoin="round"/>
<path d="M1307.17 1098.38L1311.47 1090.93L1302.87 1090.93Z" fill="none" stroke="#4a8a5e" stroke-width="3.6" stroke-linejoin="round"/>
<path d="M1318.69 1112.57L1322.99 1105.13L1314.39 1105.13Z" fill="none" stroke="#4a8a5e" stroke-width="3.6" stroke-linejoin="round"/>
<path d="M1330.21 1128.11L1334.51 1120.66L1325.91 1120.66Z" fill="none" stroke="#4a8a5e" stroke-width="3.6" stroke-linejoin="round"/>
<path d="M1341.46 1132.66L1345.76 1125.22L1337.16 1125.22Z" fill="none" stroke="#4a8a5e" stroke-width="3.6" stroke-linejoin="round"/>
<path d="M1353.51 1147.4L1357.81 1139.95L1349.21 1139.95Z" fill="none" stroke="#4a8a5e" stroke-width="3.6" stroke-linejoin="round"/>
<path d="M1365.03 1163.47L1369.33 1156.02L1360.73 1156.02Z" fill="none" stroke="#4a8a5e" stroke-width="3.6" stroke-linejoin="round"/>
<path d="M1376.28 1186.78L1380.58 1179.33L1371.98 1179.33Z" fill="none" stroke="#4a8a5e" stroke-width="3.6" stroke-linejoin="round"/>
<path d="M1387.8 1198.29L1392.1 1190.85L1383.5 1190.85Z" fill="none" stroke="#4a8a5e" stroke-width="3.6" stroke-linejoin="round"/>
<path d="M1399.05 1199.63L1403.35 1192.19L1394.75 1192.19Z" fill="none" stroke="#4a8a5e" stroke-width="3.6" stroke-linejoin="round"/>
<path d="M1410.57 1204.46L1414.87 1197.01L1406.27 1197.01Z" fill="none" stroke="#4a8a5e" stroke-width="3.6" stroke-linejoin="round"/>
<path d="M1421.82 1212.49L1426.12 1205.04L1417.52 1205.04Z" fill="none" stroke="#4a8a5e" stroke-width="3.6" stroke-linejoin="round"/>
<path d="M1433.88 1213.03L1438.18 1205.58L1429.58 1205.58Z" fill="none" stroke="#4a8a5e" stroke-width="3.6" stroke-linejoin="round"/>
<path d="M1444.59 1213.56L1448.89 1206.12L1440.29 1206.12Z" fill="none" stroke="#4a8a5e" stroke-width="3.6" stroke-linejoin="round"/>
<path d="M1456.11 1217.05L1460.41 1209.6L1451.81 1209.6Z" fill="none" stroke="#4a8a5e" stroke-width="3.6" stroke-linejoin="round"/>
<path d="M1467.36 1217.05L1471.66 1209.6L1463.06 1209.6Z" fill="none" stroke="#4a8a5e" stroke-width="3.6" stroke-linejoin="round"/>
<path d="M1478.61 1213.03L1482.91 1205.58L1474.31 1205.58Z" fill="none" stroke="#4a8a5e" stroke-width="3.6" stroke-linejoin="round"/>
<path d="M1147.24 1011.56L1151.54 1019.01L1142.94 1019.01Z" fill="none" stroke="#ad4a40" stroke-width="3.6" stroke-linejoin="round"/>
<path d="M1156.62 1012.37L1160.92 1019.81L1152.32 1019.81Z" fill="none" stroke="#ad4a40" stroke-width="3.6" stroke-linejoin="round"/>
<path d="M1166.8 1015.58L1171.1 1023.03L1162.5 1023.03Z" fill="none" stroke="#ad4a40" stroke-width="3.6" stroke-linejoin="round"/>
<path d="M1178.59 1016.92L1182.89 1024.37L1174.29 1024.37Z" fill="none" stroke="#ad4a40" stroke-width="3.6" stroke-linejoin="round"/>
<path d="M1190.1 1017.72L1194.4 1025.17L1185.8 1025.17Z" fill="none" stroke="#ad4a40" stroke-width="3.6" stroke-linejoin="round"/>
<path d="M1201.62 1018.26L1205.92 1025.71L1197.32 1025.71Z" fill="none" stroke="#ad4a40" stroke-width="3.6" stroke-linejoin="round"/>
<path d="M1213.41 1018.8L1217.71 1026.24L1209.11 1026.24Z" fill="none" stroke="#ad4a40" stroke-width="3.6" stroke-linejoin="round"/>
<path d="M1224.93 1019.6L1229.23 1027.05L1220.63 1027.05Z" fill="none" stroke="#ad4a40" stroke-width="3.6" stroke-linejoin="round"/>
<path d="M1236.45 1020.94L1240.75 1028.39L1232.15 1028.39Z" fill="none" stroke="#ad4a40" stroke-width="3.6" stroke-linejoin="round"/>
<path d="M1248.23 1022.28L1252.53 1029.73L1243.93 1029.73Z" fill="none" stroke="#ad4a40" stroke-width="3.6" stroke-linejoin="round"/>
<path d="M1260.29 1024.15L1264.59 1031.6L1255.99 1031.6Z" fill="none" stroke="#ad4a40" stroke-width="3.6" stroke-linejoin="round"/>
<path d="M1271.81 1026.3L1276.11 1033.74L1267.51 1033.74Z" fill="none" stroke="#ad4a40" stroke-width="3.6" stroke-linejoin="round"/>
<path d="M1283.86 1028.98L1288.16 1036.42L1279.56 1036.42Z" fill="none" stroke="#ad4a40" stroke-width="3.6" stroke-linejoin="round"/>
<path d="M1295.38 1032.99L1299.68 1040.44L1291.08 1040.44Z" fill="none" stroke="#ad4a40" stroke-width="3.6" stroke-linejoin="round"/>
<path d="M1307.17 1039.69L1311.47 1047.14L1302.87 1047.14Z" fill="none" stroke="#ad4a40" stroke-width="3.6" stroke-linejoin="round"/>
<path d="M1318.69 1049.07L1322.99 1056.51L1314.39 1056.51Z" fill="none" stroke="#ad4a40" stroke-width="3.6" stroke-linejoin="round"/>
<path d="M1330.21 1063.26L1334.51 1070.71L1325.91 1070.71Z" fill="none" stroke="#ad4a40" stroke-width="3.6" stroke-linejoin="round"/>
<path d="M1341.46 1086.57L1345.76 1094.02L1337.16 1094.02Z" fill="none" stroke="#ad4a40" stroke-width="3.6" stroke-linejoin="round"/>
<path d="M1353.51 1111.48L1357.81 1118.93L1349.21 1118.93Z" fill="none" stroke="#ad4a40" stroke-width="3.6" stroke-linejoin="round"/>
<path d="M1365.03 1142.82L1369.33 1150.27L1360.73 1150.27Z" fill="none" stroke="#ad4a40" stroke-width="3.6" stroke-linejoin="round"/>
<path d="M1376.28 1153.54L1380.58 1160.99L1371.98 1160.99Z" fill="none" stroke="#ad4a40" stroke-width="3.6" stroke-linejoin="round"/>
<path d="M1387.8 1165.06L1392.1 1172.51L1383.5 1172.51Z" fill="none" stroke="#ad4a40" stroke-width="3.6" stroke-linejoin="round"/>
<path d="M1399.05 1165.06L1403.35 1172.51L1394.75 1172.51Z" fill="none" stroke="#ad4a40" stroke-width="3.6" stroke-linejoin="round"/>
<path d="M1410.57 1174.97L1414.87 1182.42L1406.27 1182.42Z" fill="none" stroke="#ad4a40" stroke-width="3.6" stroke-linejoin="round"/>
<path d="M1421.82 1173.63L1426.12 1181.08L1417.52 1181.08Z" fill="none" stroke="#ad4a40" stroke-width="3.6" stroke-linejoin="round"/>
<path d="M1433.88 1178.99L1438.18 1186.44L1429.58 1186.44Z" fill="none" stroke="#ad4a40" stroke-width="3.6" stroke-linejoin="round"/>
<path d="M1444.59 1174.97L1448.89 1182.42L1440.29 1182.42Z" fill="none" stroke="#ad4a40" stroke-width="3.6" stroke-linejoin="round"/>
<path d="M1456.11 1177.65L1460.41 1185.1L1451.81 1185.1Z" fill="none" stroke="#ad4a40" stroke-width="3.6" stroke-linejoin="round"/>
<path d="M1467.36 1169.61L1471.66 1177.06L1463.06 1177.06Z" fill="none" stroke="#ad4a40" stroke-width="3.6" stroke-linejoin="round"/>
<path d="M1478.61 1177.65L1482.91 1185.1L1474.31 1185.1Z" fill="none" stroke="#ad4a40" stroke-width="3.6" stroke-linejoin="round"/>
<circle cx="1147.24" cy="987.06" r="3.4" fill="none" stroke="#dfb244" stroke-width="4.2"/>
<circle cx="1156.62" cy="988.4" r="3.4" fill="none" stroke="#dfb244" stroke-width="4.2"/>
<circle cx="1166.8" cy="989.74" r="3.4" fill="none" stroke="#dfb244" stroke-width="4.2"/>
<circle cx="1178.59" cy="990.54" r="3.4" fill="none" stroke="#dfb244" stroke-width="4.2"/>
<circle cx="1190.1" cy="991.08" r="3.4" fill="none" stroke="#dfb244" stroke-width="4.2"/>
<circle cx="1201.62" cy="991.88" r="3.4" fill="none" stroke="#dfb244" stroke-width="4.2"/>
<circle cx="1213.41" cy="992.95" r="3.4" fill="none" stroke="#dfb244" stroke-width="4.2"/>
<circle cx="1224.93" cy="994.29" r="3.4" fill="none" stroke="#dfb244" stroke-width="4.2"/>
<circle cx="1236.45" cy="995.9" r="3.4" fill="none" stroke="#dfb244" stroke-width="4.2"/>
<circle cx="1248.23" cy="997.78" r="3.4" fill="none" stroke="#dfb244" stroke-width="4.2"/>
<circle cx="1260.29" cy="1000.46" r="3.4" fill="none" stroke="#dfb244" stroke-width="4.2"/>
<circle cx="1271.81" cy="1003.13" r="3.4" fill="none" stroke="#dfb244" stroke-width="4.2"/>
<circle cx="1283.86" cy="1006.62" r="3.4" fill="none" stroke="#dfb244" stroke-width="4.2"/>
<circle cx="1295.38" cy="1009.83" r="3.4" fill="none" stroke="#dfb244" stroke-width="4.2"/>
<circle cx="1307.17" cy="1015.72" r="3.4" fill="none" stroke="#dfb244" stroke-width="4.2"/>
<circle cx="1318.69" cy="1025.37" r="3.4" fill="none" stroke="#dfb244" stroke-width="4.2"/>
<circle cx="1330.21" cy="1050.82" r="3.4" fill="none" stroke="#dfb244" stroke-width="4.2"/>
<circle cx="1341.46" cy="1078.14" r="3.4" fill="none" stroke="#dfb244" stroke-width="4.2"/>
<circle cx="1353.51" cy="1102.25" r="3.4" fill="none" stroke="#dfb244" stroke-width="4.2"/>
<circle cx="1365.03" cy="1133.06" r="3.4" fill="none" stroke="#dfb244" stroke-width="4.2"/>
<circle cx="1387.8" cy="1165.2" r="3.4" fill="none" stroke="#dfb244" stroke-width="4.2"/>
<circle cx="1399.05" cy="1174.58" r="3.4" fill="none" stroke="#dfb244" stroke-width="4.2"/>
<circle cx="1410.57" cy="1183.42" r="3.4" fill="none" stroke="#dfb244" stroke-width="4.2"/>
<circle cx="1421.82" cy="1182.61" r="3.4" fill="none" stroke="#dfb244" stroke-width="4.2"/>
<circle cx="1433.88" cy="1181.28" r="3.4" fill="none" stroke="#dfb244" stroke-width="4.2"/>
<circle cx="1444.59" cy="1183.42" r="3.4" fill="none" stroke="#dfb244" stroke-width="4.2"/>
<circle cx="1456.11" cy="1183.95" r="3.4" fill="none" stroke="#dfb244" stroke-width="4.2"/>
<circle cx="1467.36" cy="1194.67" r="3.4" fill="none" stroke="#dfb244" stroke-width="4.2"/>
<circle cx="1478.61" cy="1194.67" r="3.4" fill="none" stroke="#dfb244" stroke-width="4.2"/>
<rect x="1144.34" y="961.39" width="5.8" height="5.8" fill="none" stroke="#435283" stroke-width="3.8"/>
<rect x="1153.72" y="962.73" width="5.8" height="5.8" fill="none" stroke="#435283" stroke-width="3.8"/>
<rect x="1163.9" y="964.07" width="5.8" height="5.8" fill="none" stroke="#435283" stroke-width="3.8"/>
<rect x="1175.69" y="965.41" width="5.8" height="5.8" fill="none" stroke="#435283" stroke-width="3.8"/>
<rect x="1187.2" y="966.75" width="5.8" height="5.8" fill="none" stroke="#435283" stroke-width="3.8"/>
<rect x="1198.72" y="968.09" width="5.8" height="5.8" fill="none" stroke="#435283" stroke-width="3.8"/>
<rect x="1210.51" y="969.96" width="5.8" height="5.8" fill="none" stroke="#435283" stroke-width="3.8"/>
<rect x="1222.03" y="972.11" width="5.8" height="5.8" fill="none" stroke="#435283" stroke-width="3.8"/>
<rect x="1233.55" y="974.25" width="5.8" height="5.8" fill="none" stroke="#435283" stroke-width="3.8"/>
<rect x="1245.33" y="976.93" width="5.8" height="5.8" fill="none" stroke="#435283" stroke-width="3.8"/>
<rect x="1257.39" y="980.14" width="5.8" height="5.8" fill="none" stroke="#435283" stroke-width="3.8"/>
<rect x="1268.91" y="983.36" width="5.8" height="5.8" fill="none" stroke="#435283" stroke-width="3.8"/>
<rect x="1280.96" y="987.64" width="5.8" height="5.8" fill="none" stroke="#435283" stroke-width="3.8"/>
<rect x="1292.48" y="992.2" width="5.8" height="5.8" fill="none" stroke="#435283" stroke-width="3.8"/>
<rect x="1304.27" y="998.36" width="5.8" height="5.8" fill="none" stroke="#435283" stroke-width="3.8"/>
<rect x="1315.79" y="1006.93" width="5.8" height="5.8" fill="none" stroke="#435283" stroke-width="3.8"/>
<rect x="1327.31" y="1029.7" width="5.8" height="5.8" fill="none" stroke="#435283" stroke-width="3.8"/>
<rect x="1338.56" y="1063.19" width="5.8" height="5.8" fill="none" stroke="#435283" stroke-width="3.8"/>
<rect x="1350.61" y="1089.44" width="5.8" height="5.8" fill="none" stroke="#435283" stroke-width="3.8"/>
<rect x="1362.13" y="1121.58" width="5.8" height="5.8" fill="none" stroke="#435283" stroke-width="3.8"/>
<rect x="1373.38" y="1140.34" width="5.8" height="5.8" fill="none" stroke="#435283" stroke-width="3.8"/>
<rect x="1384.9" y="1157.48" width="5.8" height="5.8" fill="none" stroke="#435283" stroke-width="3.8"/>
<rect x="1396.15" y="1162.84" width="5.8" height="5.8" fill="none" stroke="#435283" stroke-width="3.8"/>
<rect x="1407.67" y="1169" width="5.8" height="5.8" fill="none" stroke="#435283" stroke-width="3.8"/>
<rect x="1418.92" y="1167.12" width="5.8" height="5.8" fill="none" stroke="#435283" stroke-width="3.8"/>
<rect x="1430.98" y="1169" width="5.8" height="5.8" fill="none" stroke="#435283" stroke-width="3.8"/>
<rect x="1453.21" y="1171.68" width="5.8" height="5.8" fill="none" stroke="#435283" stroke-width="3.8"/>
<rect x="1464.46" y="1170.34" width="5.8" height="5.8" fill="none" stroke="#435283" stroke-width="3.8"/>
<rect x="1475.71" y="1177.04" width="5.8" height="5.8" fill="none" stroke="#435283" stroke-width="3.8"/>
<rect x="1129.7" y="948.2" width="384" height="294.7" fill="none" stroke="#231f20" stroke-width="2.6"/>
<line x1="1120.6" y1="1242.9" x2="1128.4" y2="1242.9" stroke="#231f20" stroke-width="2.3" stroke-linecap="butt"/>
<line x1="1124.8" y1="1225.16" x2="1128.4" y2="1225.16" stroke="#231f20" stroke-width="1.9" stroke-linecap="butt"/>
<line x1="1124.8" y1="1214.78" x2="1128.4" y2="1214.78" stroke="#231f20" stroke-width="1.9" stroke-linecap="butt"/>
<line x1="1124.8" y1="1207.41" x2="1128.4" y2="1207.41" stroke="#231f20" stroke-width="1.9" stroke-linecap="butt"/>
<line x1="1124.8" y1="1201.7" x2="1128.4" y2="1201.7" stroke="#231f20" stroke-width="1.9" stroke-linecap="butt"/>
<line x1="1124.8" y1="1197.04" x2="1128.4" y2="1197.04" stroke="#231f20" stroke-width="1.9" stroke-linecap="butt"/>
<line x1="1124.8" y1="1193.09" x2="1128.4" y2="1193.09" stroke="#231f20" stroke-width="1.9" stroke-linecap="butt"/>
<line x1="1124.8" y1="1189.67" x2="1128.4" y2="1189.67" stroke="#231f20" stroke-width="1.9" stroke-linecap="butt"/>
<line x1="1124.8" y1="1186.66" x2="1128.4" y2="1186.66" stroke="#231f20" stroke-width="1.9" stroke-linecap="butt"/>
<line x1="1120.6" y1="1183.96" x2="1128.4" y2="1183.96" stroke="#231f20" stroke-width="2.3" stroke-linecap="butt"/>
<line x1="1124.8" y1="1166.22" x2="1128.4" y2="1166.22" stroke="#231f20" stroke-width="1.9" stroke-linecap="butt"/>
<line x1="1124.8" y1="1155.84" x2="1128.4" y2="1155.84" stroke="#231f20" stroke-width="1.9" stroke-linecap="butt"/>
<line x1="1124.8" y1="1148.47" x2="1128.4" y2="1148.47" stroke="#231f20" stroke-width="1.9" stroke-linecap="butt"/>
<line x1="1124.8" y1="1142.76" x2="1128.4" y2="1142.76" stroke="#231f20" stroke-width="1.9" stroke-linecap="butt"/>
<line x1="1124.8" y1="1138.1" x2="1128.4" y2="1138.1" stroke="#231f20" stroke-width="1.9" stroke-linecap="butt"/>
<line x1="1124.8" y1="1134.15" x2="1128.4" y2="1134.15" stroke="#231f20" stroke-width="1.9" stroke-linecap="butt"/>
<line x1="1124.8" y1="1130.73" x2="1128.4" y2="1130.73" stroke="#231f20" stroke-width="1.9" stroke-linecap="butt"/>
<line x1="1124.8" y1="1127.72" x2="1128.4" y2="1127.72" stroke="#231f20" stroke-width="1.9" stroke-linecap="butt"/>
<line x1="1120.6" y1="1125.02" x2="1128.4" y2="1125.02" stroke="#231f20" stroke-width="2.3" stroke-linecap="butt"/>
<line x1="1124.8" y1="1107.28" x2="1128.4" y2="1107.28" stroke="#231f20" stroke-width="1.9" stroke-linecap="butt"/>
<line x1="1124.8" y1="1096.9" x2="1128.4" y2="1096.9" stroke="#231f20" stroke-width="1.9" stroke-linecap="butt"/>
<line x1="1124.8" y1="1089.53" x2="1128.4" y2="1089.53" stroke="#231f20" stroke-width="1.9" stroke-linecap="butt"/>
<line x1="1124.8" y1="1083.82" x2="1128.4" y2="1083.82" stroke="#231f20" stroke-width="1.9" stroke-linecap="butt"/>
<line x1="1124.8" y1="1079.16" x2="1128.4" y2="1079.16" stroke="#231f20" stroke-width="1.9" stroke-linecap="butt"/>
<line x1="1124.8" y1="1075.21" x2="1128.4" y2="1075.21" stroke="#231f20" stroke-width="1.9" stroke-linecap="butt"/>
<line x1="1124.8" y1="1071.79" x2="1128.4" y2="1071.79" stroke="#231f20" stroke-width="1.9" stroke-linecap="butt"/>
<line x1="1124.8" y1="1068.78" x2="1128.4" y2="1068.78" stroke="#231f20" stroke-width="1.9" stroke-linecap="butt"/>
<line x1="1120.6" y1="1066.08" x2="1128.4" y2="1066.08" stroke="#231f20" stroke-width="2.3" stroke-linecap="butt"/>
<line x1="1124.8" y1="1048.34" x2="1128.4" y2="1048.34" stroke="#231f20" stroke-width="1.9" stroke-linecap="butt"/>
<line x1="1124.8" y1="1037.96" x2="1128.4" y2="1037.96" stroke="#231f20" stroke-width="1.9" stroke-linecap="butt"/>
<line x1="1124.8" y1="1030.59" x2="1128.4" y2="1030.59" stroke="#231f20" stroke-width="1.9" stroke-linecap="butt"/>
<line x1="1124.8" y1="1024.88" x2="1128.4" y2="1024.88" stroke="#231f20" stroke-width="1.9" stroke-linecap="butt"/>
<line x1="1124.8" y1="1020.22" x2="1128.4" y2="1020.22" stroke="#231f20" stroke-width="1.9" stroke-linecap="butt"/>
<line x1="1124.8" y1="1016.27" x2="1128.4" y2="1016.27" stroke="#231f20" stroke-width="1.9" stroke-linecap="butt"/>
<line x1="1124.8" y1="1012.85" x2="1128.4" y2="1012.85" stroke="#231f20" stroke-width="1.9" stroke-linecap="butt"/>
<line x1="1124.8" y1="1009.84" x2="1128.4" y2="1009.84" stroke="#231f20" stroke-width="1.9" stroke-linecap="butt"/>
<line x1="1120.6" y1="1007.14" x2="1128.4" y2="1007.14" stroke="#231f20" stroke-width="2.3" stroke-linecap="butt"/>
<line x1="1124.8" y1="989.4" x2="1128.4" y2="989.4" stroke="#231f20" stroke-width="1.9" stroke-linecap="butt"/>
<line x1="1124.8" y1="979.02" x2="1128.4" y2="979.02" stroke="#231f20" stroke-width="1.9" stroke-linecap="butt"/>
<line x1="1124.8" y1="971.65" x2="1128.4" y2="971.65" stroke="#231f20" stroke-width="1.9" stroke-linecap="butt"/>
<line x1="1124.8" y1="965.94" x2="1128.4" y2="965.94" stroke="#231f20" stroke-width="1.9" stroke-linecap="butt"/>
<line x1="1124.8" y1="961.28" x2="1128.4" y2="961.28" stroke="#231f20" stroke-width="1.9" stroke-linecap="butt"/>
<line x1="1124.8" y1="957.33" x2="1128.4" y2="957.33" stroke="#231f20" stroke-width="1.9" stroke-linecap="butt"/>
<line x1="1124.8" y1="953.91" x2="1128.4" y2="953.91" stroke="#231f20" stroke-width="1.9" stroke-linecap="butt"/>
<line x1="1124.8" y1="950.9" x2="1128.4" y2="950.9" stroke="#231f20" stroke-width="1.9" stroke-linecap="butt"/>
<text x="1113.4" y="1254" font-size="31" text-anchor="end" fill="#231f20" font-weight="bold">10<tspan font-size="18" dy="-10">−3</tspan></text>
<text x="1113.4" y="1195.06" font-size="31" text-anchor="end" fill="#231f20" font-weight="bold">10<tspan font-size="18" dy="-10">−2</tspan></text>
<text x="1113.4" y="1136.12" font-size="31" text-anchor="end" fill="#231f20" font-weight="bold">10<tspan font-size="18" dy="-10">−1</tspan></text>
<text x="1113.4" y="1077.18" font-size="31" text-anchor="end" fill="#231f20" font-weight="bold">10<tspan font-size="18" dy="-10">0</tspan></text>
<text x="1113.4" y="1018.24" font-size="31" text-anchor="end" fill="#231f20" font-weight="bold">10<tspan font-size="18" dy="-10">1</tspan></text>
<text x="1113.4" y="959.3" font-size="31" text-anchor="end" fill="#231f20" font-weight="bold">10<tspan font-size="18" dy="-10">2</tspan></text>
<line x1="1146.4" y1="1244.2" x2="1146.4" y2="1252.7" stroke="#231f20" stroke-width="2.3" stroke-linecap="butt"/>
<text x="1146.4" y="1281.6" font-size="31" text-anchor="middle" fill="#231f20" font-weight="bold">20</text>
<line x1="1229.85" y1="1244.2" x2="1229.85" y2="1252.7" stroke="#231f20" stroke-width="2.3" stroke-linecap="butt"/>
<text x="1229.85" y="1281.6" font-size="31" text-anchor="middle" fill="#231f20" font-weight="bold">25</text>
<line x1="1313.3" y1="1244.2" x2="1313.3" y2="1252.7" stroke="#231f20" stroke-width="2.3" stroke-linecap="butt"/>
<text x="1313.3" y="1281.6" font-size="31" text-anchor="middle" fill="#231f20" font-weight="bold">30</text>
<line x1="1396.75" y1="1244.2" x2="1396.75" y2="1252.7" stroke="#231f20" stroke-width="2.3" stroke-linecap="butt"/>
<text x="1396.75" y="1281.6" font-size="31" text-anchor="middle" fill="#231f20" font-weight="bold">35</text>
<line x1="1480.2" y1="1244.2" x2="1480.2" y2="1252.7" stroke="#231f20" stroke-width="2.3" stroke-linecap="butt"/>
<text x="1480.2" y="1281.6" font-size="31" text-anchor="middle" fill="#231f20" font-weight="bold">40</text>
<line x1="1188.12" y1="1244.2" x2="1188.12" y2="1248.7" stroke="#231f20" stroke-width="1.8" stroke-linecap="butt"/>
<line x1="1271.58" y1="1244.2" x2="1271.58" y2="1248.7" stroke="#231f20" stroke-width="1.8" stroke-linecap="butt"/>
<line x1="1355.03" y1="1244.2" x2="1355.03" y2="1248.7" stroke="#231f20" stroke-width="1.8" stroke-linecap="butt"/>
<line x1="1438.47" y1="1244.2" x2="1438.47" y2="1248.7" stroke="#231f20" stroke-width="1.8" stroke-linecap="butt"/>
<text x="1049.49" y="1092.2" font-size="30.5" text-anchor="middle" fill="#231f20" font-weight="bold" transform="rotate(-90 1049.49 1092.2)">Viscosity/(Pa·s)</text>
<text x="1310.6" y="1315.2" font-size="30.5" text-anchor="middle" fill="#231f20" font-weight="bold">Temperature/°C</text>
<clipPath id="ci"><rect x="123.5" y="1416.6" width="380.6" height="283.9"/></clipPath>
<g clip-path="url(#ci)">
<rect x="120.62" y="1654.77" width="5.8" height="5.8" fill="none" stroke="#435283" stroke-width="3.8"/>
<rect x="130.38" y="1654.51" width="5.8" height="5.8" fill="none" stroke="#435283" stroke-width="3.8"/>
<rect x="144.1" y="1648.44" width="5.8" height="5.8" fill="none" stroke="#435283" stroke-width="3.8"/>
<rect x="158.09" y="1640.52" width="5.8" height="5.8" fill="none" stroke="#435283" stroke-width="3.8"/>
<rect x="171.82" y="1633.66" width="5.8" height="5.8" fill="none" stroke="#435283" stroke-width="3.8"/>
<rect x="185.01" y="1627.85" width="5.8" height="5.8" fill="none" stroke="#435283" stroke-width="3.8"/>
<rect x="199" y="1621.78" width="5.8" height="5.8" fill="none" stroke="#435283" stroke-width="3.8"/>
<rect x="212.99" y="1613.08" width="5.8" height="5.8" fill="none" stroke="#435283" stroke-width="3.8"/>
<rect x="226.71" y="1608.59" width="5.8" height="5.8" fill="none" stroke="#435283" stroke-width="3.8"/>
<rect x="240.44" y="1607.8" width="5.8" height="5.8" fill="none" stroke="#435283" stroke-width="3.8"/>
<rect x="254.42" y="1599.35" width="5.8" height="5.8" fill="none" stroke="#435283" stroke-width="3.8"/>
<rect x="268.15" y="1589.32" width="5.8" height="5.8" fill="none" stroke="#435283" stroke-width="3.8"/>
<rect x="282.14" y="1580.35" width="5.8" height="5.8" fill="none" stroke="#435283" stroke-width="3.8"/>
<rect x="295.86" y="1570.32" width="5.8" height="5.8" fill="none" stroke="#435283" stroke-width="3.8"/>
<rect x="309.85" y="1560.29" width="5.8" height="5.8" fill="none" stroke="#435283" stroke-width="3.8"/>
<rect x="323.57" y="1550.53" width="5.8" height="5.8" fill="none" stroke="#435283" stroke-width="3.8"/>
<rect x="337.56" y="1541.82" width="5.8" height="5.8" fill="none" stroke="#435283" stroke-width="3.8"/>
<rect x="351.28" y="1533.9" width="5.8" height="5.8" fill="none" stroke="#435283" stroke-width="3.8"/>
<rect x="364.74" y="1525.98" width="5.8" height="5.8" fill="none" stroke="#435283" stroke-width="3.8"/>
<rect x="378.47" y="1518.06" width="5.8" height="5.8" fill="none" stroke="#435283" stroke-width="3.8"/>
<rect x="392.19" y="1510.15" width="5.8" height="5.8" fill="none" stroke="#435283" stroke-width="3.8"/>
<rect x="406.18" y="1503.81" width="5.8" height="5.8" fill="none" stroke="#435283" stroke-width="3.8"/>
<rect x="419.9" y="1496.95" width="5.8" height="5.8" fill="none" stroke="#435283" stroke-width="3.8"/>
<rect x="433.89" y="1489.82" width="5.8" height="5.8" fill="none" stroke="#435283" stroke-width="3.8"/>
<rect x="447.61" y="1483.23" width="5.8" height="5.8" fill="none" stroke="#435283" stroke-width="3.8"/>
<rect x="461.6" y="1476.63" width="5.8" height="5.8" fill="none" stroke="#435283" stroke-width="3.8"/>
<rect x="475.33" y="1472.14" width="5.8" height="5.8" fill="none" stroke="#435283" stroke-width="3.8"/>
<rect x="484.04" y="1470.56" width="5.8" height="5.8" fill="none" stroke="#435283" stroke-width="3.8"/>
<circle cx="123.52" cy="1566.62" r="3.4" fill="none" stroke="#dfb244" stroke-width="4.2"/>
<circle cx="133.28" cy="1566.62" r="3.4" fill="none" stroke="#dfb244" stroke-width="4.2"/>
<circle cx="147" cy="1565.83" r="3.4" fill="none" stroke="#dfb244" stroke-width="4.2"/>
<circle cx="160.99" cy="1563.98" r="3.4" fill="none" stroke="#dfb244" stroke-width="4.2"/>
<circle cx="174.72" cy="1562.14" r="3.4" fill="none" stroke="#dfb244" stroke-width="4.2"/>
<circle cx="187.91" cy="1559.5" r="3.4" fill="none" stroke="#dfb244" stroke-width="4.2"/>
<circle cx="201.9" cy="1556.86" r="3.4" fill="none" stroke="#dfb244" stroke-width="4.2"/>
<circle cx="215.89" cy="1553.43" r="3.4" fill="none" stroke="#dfb244" stroke-width="4.2"/>
<circle cx="229.61" cy="1551.58" r="3.4" fill="none" stroke="#dfb244" stroke-width="4.2"/>
<circle cx="243.34" cy="1548.15" r="3.4" fill="none" stroke="#dfb244" stroke-width="4.2"/>
<circle cx="257.32" cy="1543.66" r="3.4" fill="none" stroke="#dfb244" stroke-width="4.2"/>
<circle cx="271.05" cy="1537.59" r="3.4" fill="none" stroke="#dfb244" stroke-width="4.2"/>
<circle cx="285.04" cy="1533.63" r="3.4" fill="none" stroke="#dfb244" stroke-width="4.2"/>
<circle cx="298.76" cy="1527.83" r="3.4" fill="none" stroke="#dfb244" stroke-width="4.2"/>
<circle cx="312.75" cy="1522.55" r="3.4" fill="none" stroke="#dfb244" stroke-width="4.2"/>
<circle cx="326.47" cy="1516.48" r="3.4" fill="none" stroke="#dfb244" stroke-width="4.2"/>
<circle cx="340.46" cy="1509.88" r="3.4" fill="none" stroke="#dfb244" stroke-width="4.2"/>
<circle cx="354.18" cy="1504.07" r="3.4" fill="none" stroke="#dfb244" stroke-width="4.2"/>
<circle cx="367.64" cy="1498" r="3.4" fill="none" stroke="#dfb244" stroke-width="4.2"/>
<circle cx="381.37" cy="1491.4" r="3.4" fill="none" stroke="#dfb244" stroke-width="4.2"/>
<circle cx="395.09" cy="1485.6" r="3.4" fill="none" stroke="#dfb244" stroke-width="4.2"/>
<circle cx="409.08" cy="1478.21" r="3.4" fill="none" stroke="#dfb244" stroke-width="4.2"/>
<circle cx="422.8" cy="1472.93" r="3.4" fill="none" stroke="#dfb244" stroke-width="4.2"/>
<circle cx="436.79" cy="1467.65" r="3.4" fill="none" stroke="#dfb244" stroke-width="4.2"/>
<circle cx="450.51" cy="1461.05" r="3.4" fill="none" stroke="#dfb244" stroke-width="4.2"/>
<circle cx="464.5" cy="1455.77" r="3.4" fill="none" stroke="#dfb244" stroke-width="4.2"/>
<circle cx="478.23" cy="1453.93" r="3.4" fill="none" stroke="#dfb244" stroke-width="4.2"/>
<circle cx="486.94" cy="1451.82" r="3.4" fill="none" stroke="#dfb244" stroke-width="4.2"/>
<path d="M123.52 1504.91L127.82 1512.36L119.22 1512.36Z" fill="none" stroke="#ad4a40" stroke-width="3.6" stroke-linejoin="round"/>
<path d="M133.28 1503.59L137.58 1511.04L128.98 1511.04Z" fill="none" stroke="#ad4a40" stroke-width="3.6" stroke-linejoin="round"/>
<path d="M147 1504.91L151.3 1512.36L142.7 1512.36Z" fill="none" stroke="#ad4a40" stroke-width="3.6" stroke-linejoin="round"/>
<path d="M160.99 1506.23L165.29 1513.68L156.69 1513.68Z" fill="none" stroke="#ad4a40" stroke-width="3.6" stroke-linejoin="round"/>
<path d="M174.72 1507.55L179.02 1515L170.42 1515Z" fill="none" stroke="#ad4a40" stroke-width="3.6" stroke-linejoin="round"/>
<path d="M187.91 1508.87L192.21 1516.32L183.61 1516.32Z" fill="none" stroke="#ad4a40" stroke-width="3.6" stroke-linejoin="round"/>
<path d="M201.9 1509.66L206.2 1517.11L197.6 1517.11Z" fill="none" stroke="#ad4a40" stroke-width="3.6" stroke-linejoin="round"/>
<path d="M215.89 1510.19L220.19 1517.64L211.59 1517.64Z" fill="none" stroke="#ad4a40" stroke-width="3.6" stroke-linejoin="round"/>
<path d="M229.61 1512.3L233.91 1519.75L225.31 1519.75Z" fill="none" stroke="#ad4a40" stroke-width="3.6" stroke-linejoin="round"/>
<path d="M243.34 1513.62L247.64 1521.07L239.04 1521.07Z" fill="none" stroke="#ad4a40" stroke-width="3.6" stroke-linejoin="round"/>
<path d="M257.32 1514.15L261.62 1521.6L253.02 1521.6Z" fill="none" stroke="#ad4a40" stroke-width="3.6" stroke-linejoin="round"/>
<path d="M271.05 1514.15L275.35 1521.6L266.75 1521.6Z" fill="none" stroke="#ad4a40" stroke-width="3.6" stroke-linejoin="round"/>
<path d="M285.04 1512.83L289.34 1520.28L280.74 1520.28Z" fill="none" stroke="#ad4a40" stroke-width="3.6" stroke-linejoin="round"/>
<path d="M298.76 1509.66L303.06 1517.11L294.46 1517.11Z" fill="none" stroke="#ad4a40" stroke-width="3.6" stroke-linejoin="round"/>
<path d="M312.75 1506.23L317.05 1513.68L308.45 1513.68Z" fill="none" stroke="#ad4a40" stroke-width="3.6" stroke-linejoin="round"/>
<path d="M326.47 1500.95L330.77 1508.4L322.17 1508.4Z" fill="none" stroke="#ad4a40" stroke-width="3.6" stroke-linejoin="round"/>
<path d="M340.46 1495.68L344.76 1503.12L336.16 1503.12Z" fill="none" stroke="#ad4a40" stroke-width="3.6" stroke-linejoin="round"/>
<path d="M354.18 1491.72L358.48 1499.17L349.88 1499.17Z" fill="none" stroke="#ad4a40" stroke-width="3.6" stroke-linejoin="round"/>
<path d="M367.64 1486.97L371.94 1494.41L363.34 1494.41Z" fill="none" stroke="#ad4a40" stroke-width="3.6" stroke-linejoin="round"/>
<path d="M381.37 1483.27L385.67 1490.72L377.07 1490.72Z" fill="none" stroke="#ad4a40" stroke-width="3.6" stroke-linejoin="round"/>
<path d="M395.09 1477.2L399.39 1484.65L390.79 1484.65Z" fill="none" stroke="#ad4a40" stroke-width="3.6" stroke-linejoin="round"/>
<path d="M409.08 1470.6L413.38 1478.05L404.78 1478.05Z" fill="none" stroke="#ad4a40" stroke-width="3.6" stroke-linejoin="round"/>
<path d="M422.8 1465.33L427.1 1472.77L418.5 1472.77Z" fill="none" stroke="#ad4a40" stroke-width="3.6" stroke-linejoin="round"/>
<path d="M436.79 1460.05L441.09 1467.49L432.49 1467.49Z" fill="none" stroke="#ad4a40" stroke-width="3.6" stroke-linejoin="round"/>
<path d="M450.51 1454.24L454.81 1461.69L446.21 1461.69Z" fill="none" stroke="#ad4a40" stroke-width="3.6" stroke-linejoin="round"/>
<path d="M464.5 1447.38L468.8 1454.83L460.2 1454.83Z" fill="none" stroke="#ad4a40" stroke-width="3.6" stroke-linejoin="round"/>
<path d="M478.23 1443.68L482.53 1451.13L473.93 1451.13Z" fill="none" stroke="#ad4a40" stroke-width="3.6" stroke-linejoin="round"/>
<path d="M486.94 1442.1L491.24 1449.55L482.64 1449.55Z" fill="none" stroke="#ad4a40" stroke-width="3.6" stroke-linejoin="round"/>
<path d="M123.52 1471.3L127.82 1463.85L119.22 1463.85Z" fill="none" stroke="#4a8a5e" stroke-width="3.6" stroke-linejoin="round"/>
<path d="M133.28 1473.94L137.58 1466.49L128.98 1466.49Z" fill="none" stroke="#4a8a5e" stroke-width="3.6" stroke-linejoin="round"/>
<path d="M147 1473.94L151.3 1466.49L142.7 1466.49Z" fill="none" stroke="#4a8a5e" stroke-width="3.6" stroke-linejoin="round"/>
<path d="M160.99 1477.37L165.29 1469.92L156.69 1469.92Z" fill="none" stroke="#4a8a5e" stroke-width="3.6" stroke-linejoin="round"/>
<path d="M174.72 1480.53L179.02 1473.09L170.42 1473.09Z" fill="none" stroke="#4a8a5e" stroke-width="3.6" stroke-linejoin="round"/>
<path d="M187.91 1480.53L192.21 1473.09L183.61 1473.09Z" fill="none" stroke="#4a8a5e" stroke-width="3.6" stroke-linejoin="round"/>
<path d="M201.9 1480.53L206.2 1473.09L197.6 1473.09Z" fill="none" stroke="#4a8a5e" stroke-width="3.6" stroke-linejoin="round"/>
<path d="M215.89 1481.85L220.19 1474.41L211.59 1474.41Z" fill="none" stroke="#4a8a5e" stroke-width="3.6" stroke-linejoin="round"/>
<path d="M229.61 1481.85L233.91 1474.41L225.31 1474.41Z" fill="none" stroke="#4a8a5e" stroke-width="3.6" stroke-linejoin="round"/>
<path d="M243.34 1483.17L247.64 1475.73L239.04 1475.73Z" fill="none" stroke="#4a8a5e" stroke-width="3.6" stroke-linejoin="round"/>
<path d="M257.32 1485.28L261.62 1477.84L253.02 1477.84Z" fill="none" stroke="#4a8a5e" stroke-width="3.6" stroke-linejoin="round"/>
<path d="M271.05 1487.92L275.35 1480.48L266.75 1480.48Z" fill="none" stroke="#4a8a5e" stroke-width="3.6" stroke-linejoin="round"/>
<path d="M285.04 1490.56L289.34 1483.12L280.74 1483.12Z" fill="none" stroke="#4a8a5e" stroke-width="3.6" stroke-linejoin="round"/>
<path d="M298.76 1491.62L303.06 1484.17L294.46 1484.17Z" fill="none" stroke="#4a8a5e" stroke-width="3.6" stroke-linejoin="round"/>
<path d="M312.75 1490.56L317.05 1483.12L308.45 1483.12Z" fill="none" stroke="#4a8a5e" stroke-width="3.6" stroke-linejoin="round"/>
<path d="M326.47 1488.45L330.77 1481L322.17 1481Z" fill="none" stroke="#4a8a5e" stroke-width="3.6" stroke-linejoin="round"/>
<path d="M340.46 1485.28L344.76 1477.84L336.16 1477.84Z" fill="none" stroke="#4a8a5e" stroke-width="3.6" stroke-linejoin="round"/>
<path d="M354.18 1481.85L358.48 1474.41L349.88 1474.41Z" fill="none" stroke="#4a8a5e" stroke-width="3.6" stroke-linejoin="round"/>
<path d="M367.64 1476.57L371.94 1469.13L363.34 1469.13Z" fill="none" stroke="#4a8a5e" stroke-width="3.6" stroke-linejoin="round"/>
<path d="M381.37 1472.62L385.67 1465.17L377.07 1465.17Z" fill="none" stroke="#4a8a5e" stroke-width="3.6" stroke-linejoin="round"/>
<path d="M395.09 1468.66L399.39 1461.21L390.79 1461.21Z" fill="none" stroke="#4a8a5e" stroke-width="3.6" stroke-linejoin="round"/>
<path d="M409.08 1467.34L413.38 1459.89L404.78 1459.89Z" fill="none" stroke="#4a8a5e" stroke-width="3.6" stroke-linejoin="round"/>
<path d="M422.8 1463.38L427.1 1455.93L418.5 1455.93Z" fill="none" stroke="#4a8a5e" stroke-width="3.6" stroke-linejoin="round"/>
<path d="M436.79 1458.1L441.09 1450.65L432.49 1450.65Z" fill="none" stroke="#4a8a5e" stroke-width="3.6" stroke-linejoin="round"/>
<path d="M450.51 1451.5L454.81 1444.05L446.21 1444.05Z" fill="none" stroke="#4a8a5e" stroke-width="3.6" stroke-linejoin="round"/>
<path d="M464.5 1444.9L468.8 1437.46L460.2 1437.46Z" fill="none" stroke="#4a8a5e" stroke-width="3.6" stroke-linejoin="round"/>
<path d="M478.23 1442.27L482.53 1434.82L473.93 1434.82Z" fill="none" stroke="#4a8a5e" stroke-width="3.6" stroke-linejoin="round"/>
<path d="M486.94 1439.63L491.24 1432.18L482.64 1432.18Z" fill="none" stroke="#4a8a5e" stroke-width="3.6" stroke-linejoin="round"/>
</g>
<rect x="123.5" y="1416.6" width="380.6" height="283.9" fill="none" stroke="#231f20" stroke-width="2.6"/>
<line x1="113.8" y1="1701.3" x2="122.2" y2="1701.3" stroke="#231f20" stroke-width="2.3" stroke-linecap="butt"/>
<line x1="118.2" y1="1679.91" x2="122.2" y2="1679.91" stroke="#231f20" stroke-width="1.9" stroke-linecap="butt"/>
<line x1="118.2" y1="1667.4" x2="122.2" y2="1667.4" stroke="#231f20" stroke-width="1.9" stroke-linecap="butt"/>
<line x1="118.2" y1="1658.52" x2="122.2" y2="1658.52" stroke="#231f20" stroke-width="1.9" stroke-linecap="butt"/>
<line x1="118.2" y1="1651.64" x2="122.2" y2="1651.64" stroke="#231f20" stroke-width="1.9" stroke-linecap="butt"/>
<line x1="118.2" y1="1646.01" x2="122.2" y2="1646.01" stroke="#231f20" stroke-width="1.9" stroke-linecap="butt"/>
<line x1="118.2" y1="1641.26" x2="122.2" y2="1641.26" stroke="#231f20" stroke-width="1.9" stroke-linecap="butt"/>
<line x1="118.2" y1="1637.14" x2="122.2" y2="1637.14" stroke="#231f20" stroke-width="1.9" stroke-linecap="butt"/>
<line x1="118.2" y1="1633.5" x2="122.2" y2="1633.5" stroke="#231f20" stroke-width="1.9" stroke-linecap="butt"/>
<line x1="113.8" y1="1630.25" x2="122.2" y2="1630.25" stroke="#231f20" stroke-width="2.3" stroke-linecap="butt"/>
<line x1="118.2" y1="1608.86" x2="122.2" y2="1608.86" stroke="#231f20" stroke-width="1.9" stroke-linecap="butt"/>
<line x1="118.2" y1="1596.35" x2="122.2" y2="1596.35" stroke="#231f20" stroke-width="1.9" stroke-linecap="butt"/>
<line x1="118.2" y1="1587.47" x2="122.2" y2="1587.47" stroke="#231f20" stroke-width="1.9" stroke-linecap="butt"/>
<line x1="118.2" y1="1580.59" x2="122.2" y2="1580.59" stroke="#231f20" stroke-width="1.9" stroke-linecap="butt"/>
<line x1="118.2" y1="1574.96" x2="122.2" y2="1574.96" stroke="#231f20" stroke-width="1.9" stroke-linecap="butt"/>
<line x1="118.2" y1="1570.21" x2="122.2" y2="1570.21" stroke="#231f20" stroke-width="1.9" stroke-linecap="butt"/>
<line x1="118.2" y1="1566.09" x2="122.2" y2="1566.09" stroke="#231f20" stroke-width="1.9" stroke-linecap="butt"/>
<line x1="118.2" y1="1562.45" x2="122.2" y2="1562.45" stroke="#231f20" stroke-width="1.9" stroke-linecap="butt"/>
<line x1="113.8" y1="1559.2" x2="122.2" y2="1559.2" stroke="#231f20" stroke-width="2.3" stroke-linecap="butt"/>
<line x1="118.2" y1="1537.81" x2="122.2" y2="1537.81" stroke="#231f20" stroke-width="1.9" stroke-linecap="butt"/>
<line x1="118.2" y1="1525.3" x2="122.2" y2="1525.3" stroke="#231f20" stroke-width="1.9" stroke-linecap="butt"/>
<line x1="118.2" y1="1516.42" x2="122.2" y2="1516.42" stroke="#231f20" stroke-width="1.9" stroke-linecap="butt"/>
<line x1="118.2" y1="1509.54" x2="122.2" y2="1509.54" stroke="#231f20" stroke-width="1.9" stroke-linecap="butt"/>
<line x1="118.2" y1="1503.91" x2="122.2" y2="1503.91" stroke="#231f20" stroke-width="1.9" stroke-linecap="butt"/>
<line x1="118.2" y1="1499.16" x2="122.2" y2="1499.16" stroke="#231f20" stroke-width="1.9" stroke-linecap="butt"/>
<line x1="118.2" y1="1495.04" x2="122.2" y2="1495.04" stroke="#231f20" stroke-width="1.9" stroke-linecap="butt"/>
<line x1="118.2" y1="1491.4" x2="122.2" y2="1491.4" stroke="#231f20" stroke-width="1.9" stroke-linecap="butt"/>
<line x1="113.8" y1="1488.15" x2="122.2" y2="1488.15" stroke="#231f20" stroke-width="2.3" stroke-linecap="butt"/>
<line x1="118.2" y1="1466.76" x2="122.2" y2="1466.76" stroke="#231f20" stroke-width="1.9" stroke-linecap="butt"/>
<line x1="118.2" y1="1454.25" x2="122.2" y2="1454.25" stroke="#231f20" stroke-width="1.9" stroke-linecap="butt"/>
<line x1="118.2" y1="1445.37" x2="122.2" y2="1445.37" stroke="#231f20" stroke-width="1.9" stroke-linecap="butt"/>
<line x1="118.2" y1="1438.49" x2="122.2" y2="1438.49" stroke="#231f20" stroke-width="1.9" stroke-linecap="butt"/>
<line x1="118.2" y1="1432.86" x2="122.2" y2="1432.86" stroke="#231f20" stroke-width="1.9" stroke-linecap="butt"/>
<line x1="118.2" y1="1428.11" x2="122.2" y2="1428.11" stroke="#231f20" stroke-width="1.9" stroke-linecap="butt"/>
<line x1="118.2" y1="1423.99" x2="122.2" y2="1423.99" stroke="#231f20" stroke-width="1.9" stroke-linecap="butt"/>
<line x1="118.2" y1="1420.35" x2="122.2" y2="1420.35" stroke="#231f20" stroke-width="1.9" stroke-linecap="butt"/>
<line x1="113.8" y1="1417.1" x2="122.2" y2="1417.1" stroke="#231f20" stroke-width="2.3" stroke-linecap="butt"/>
<text x="104.8" y="1712.4" font-size="31" text-anchor="end" fill="#231f20" font-weight="bold">10<tspan font-size="18" dy="-10">−2</tspan></text>
<text x="104.8" y="1640" font-size="31" text-anchor="end" fill="#231f20" font-weight="bold">10<tspan font-size="18" dy="-10">−1</tspan></text>
<text x="104.8" y="1568.7" font-size="31" text-anchor="end" fill="#231f20" font-weight="bold">10<tspan font-size="18" dy="-10">0</tspan></text>
<text x="104.8" y="1497.4" font-size="31" text-anchor="end" fill="#231f20" font-weight="bold">10<tspan font-size="18" dy="-10">1</tspan></text>
<text x="104.8" y="1426.1" font-size="31" text-anchor="end" fill="#231f20" font-weight="bold">10<tspan font-size="18" dy="-10">2</tspan></text>
<line x1="122.7" y1="1701.8" x2="122.7" y2="1710.3" stroke="#231f20" stroke-width="2.3" stroke-linecap="butt"/>
<line x1="150.11" y1="1701.8" x2="150.11" y2="1705.8" stroke="#231f20" stroke-width="1.9" stroke-linecap="butt"/>
<line x1="166.14" y1="1701.8" x2="166.14" y2="1705.8" stroke="#231f20" stroke-width="1.9" stroke-linecap="butt"/>
<line x1="177.52" y1="1701.8" x2="177.52" y2="1705.8" stroke="#231f20" stroke-width="1.9" stroke-linecap="butt"/>
<line x1="186.34" y1="1701.8" x2="186.34" y2="1705.8" stroke="#231f20" stroke-width="1.9" stroke-linecap="butt"/>
<line x1="193.55" y1="1701.8" x2="193.55" y2="1705.8" stroke="#231f20" stroke-width="1.9" stroke-linecap="butt"/>
<line x1="199.65" y1="1701.8" x2="199.65" y2="1705.8" stroke="#231f20" stroke-width="1.9" stroke-linecap="butt"/>
<line x1="204.93" y1="1701.8" x2="204.93" y2="1705.8" stroke="#231f20" stroke-width="1.9" stroke-linecap="butt"/>
<line x1="209.58" y1="1701.8" x2="209.58" y2="1705.8" stroke="#231f20" stroke-width="1.9" stroke-linecap="butt"/>
<line x1="213.75" y1="1701.8" x2="213.75" y2="1710.3" stroke="#231f20" stroke-width="2.3" stroke-linecap="butt"/>
<line x1="241.16" y1="1701.8" x2="241.16" y2="1705.8" stroke="#231f20" stroke-width="1.9" stroke-linecap="butt"/>
<line x1="257.19" y1="1701.8" x2="257.19" y2="1705.8" stroke="#231f20" stroke-width="1.9" stroke-linecap="butt"/>
<line x1="268.57" y1="1701.8" x2="268.57" y2="1705.8" stroke="#231f20" stroke-width="1.9" stroke-linecap="butt"/>
<line x1="277.39" y1="1701.8" x2="277.39" y2="1705.8" stroke="#231f20" stroke-width="1.9" stroke-linecap="butt"/>
<line x1="284.6" y1="1701.8" x2="284.6" y2="1705.8" stroke="#231f20" stroke-width="1.9" stroke-linecap="butt"/>
<line x1="290.7" y1="1701.8" x2="290.7" y2="1705.8" stroke="#231f20" stroke-width="1.9" stroke-linecap="butt"/>
<line x1="295.98" y1="1701.8" x2="295.98" y2="1705.8" stroke="#231f20" stroke-width="1.9" stroke-linecap="butt"/>
<line x1="300.63" y1="1701.8" x2="300.63" y2="1705.8" stroke="#231f20" stroke-width="1.9" stroke-linecap="butt"/>
<line x1="304.8" y1="1701.8" x2="304.8" y2="1710.3" stroke="#231f20" stroke-width="2.3" stroke-linecap="butt"/>
<line x1="332.21" y1="1701.8" x2="332.21" y2="1705.8" stroke="#231f20" stroke-width="1.9" stroke-linecap="butt"/>
<line x1="348.24" y1="1701.8" x2="348.24" y2="1705.8" stroke="#231f20" stroke-width="1.9" stroke-linecap="butt"/>
<line x1="359.62" y1="1701.8" x2="359.62" y2="1705.8" stroke="#231f20" stroke-width="1.9" stroke-linecap="butt"/>
<line x1="368.44" y1="1701.8" x2="368.44" y2="1705.8" stroke="#231f20" stroke-width="1.9" stroke-linecap="butt"/>
<line x1="375.65" y1="1701.8" x2="375.65" y2="1705.8" stroke="#231f20" stroke-width="1.9" stroke-linecap="butt"/>
<line x1="381.75" y1="1701.8" x2="381.75" y2="1705.8" stroke="#231f20" stroke-width="1.9" stroke-linecap="butt"/>
<line x1="387.03" y1="1701.8" x2="387.03" y2="1705.8" stroke="#231f20" stroke-width="1.9" stroke-linecap="butt"/>
<line x1="391.68" y1="1701.8" x2="391.68" y2="1705.8" stroke="#231f20" stroke-width="1.9" stroke-linecap="butt"/>
<line x1="395.85" y1="1701.8" x2="395.85" y2="1710.3" stroke="#231f20" stroke-width="2.3" stroke-linecap="butt"/>
<line x1="423.26" y1="1701.8" x2="423.26" y2="1705.8" stroke="#231f20" stroke-width="1.9" stroke-linecap="butt"/>
<line x1="439.29" y1="1701.8" x2="439.29" y2="1705.8" stroke="#231f20" stroke-width="1.9" stroke-linecap="butt"/>
<line x1="450.67" y1="1701.8" x2="450.67" y2="1705.8" stroke="#231f20" stroke-width="1.9" stroke-linecap="butt"/>
<line x1="459.49" y1="1701.8" x2="459.49" y2="1705.8" stroke="#231f20" stroke-width="1.9" stroke-linecap="butt"/>
<line x1="466.7" y1="1701.8" x2="466.7" y2="1705.8" stroke="#231f20" stroke-width="1.9" stroke-linecap="butt"/>
<line x1="472.8" y1="1701.8" x2="472.8" y2="1705.8" stroke="#231f20" stroke-width="1.9" stroke-linecap="butt"/>
<line x1="478.08" y1="1701.8" x2="478.08" y2="1705.8" stroke="#231f20" stroke-width="1.9" stroke-linecap="butt"/>
<line x1="482.73" y1="1701.8" x2="482.73" y2="1705.8" stroke="#231f20" stroke-width="1.9" stroke-linecap="butt"/>
<line x1="486.9" y1="1701.8" x2="486.9" y2="1710.3" stroke="#231f20" stroke-width="2.3" stroke-linecap="butt"/>
<text x="122.7" y="1745.5" font-size="31" text-anchor="middle" fill="#231f20" font-weight="bold">10<tspan font-size="18" dy="-10.5">−2</tspan></text>
<text x="213.75" y="1745.5" font-size="31" text-anchor="middle" fill="#231f20" font-weight="bold">10<tspan font-size="18" dy="-10.5">−1</tspan></text>
<text x="304.8" y="1745.5" font-size="31" text-anchor="middle" fill="#231f20" font-weight="bold">10<tspan font-size="18" dy="-10.5">0</tspan></text>
<text x="395.85" y="1745.5" font-size="31" text-anchor="middle" fill="#231f20" font-weight="bold">10<tspan font-size="18" dy="-10.5">1</tspan></text>
<text x="486.9" y="1745.5" font-size="31" text-anchor="middle" fill="#231f20" font-weight="bold">10<tspan font-size="18" dy="-10.5">2</tspan></text>
<text x="45.79" y="1560.7" font-size="30.5" text-anchor="middle" fill="#231f20" font-weight="bold" transform="rotate(-90 45.79 1560.7)">Shear stress/Pa</text>
<text x="218.5" y="1781.7" font-size="30.5" font-weight="bold" fill="#231f20">Shear rate/s<tspan font-size="18" dy="-12">−1</tspan></text>
<rect x="626.63" y="1520.7" width="5.8" height="5.8" fill="none" stroke="#435283" stroke-width="3.8"/>
<rect x="638.5" y="1522.02" width="5.8" height="5.8" fill="none" stroke="#435283" stroke-width="3.8"/>
<rect x="650.38" y="1520.97" width="5.8" height="5.8" fill="none" stroke="#435283" stroke-width="3.8"/>
<rect x="662.26" y="1520.17" width="5.8" height="5.8" fill="none" stroke="#435283" stroke-width="3.8"/>
<rect x="674.66" y="1519.65" width="5.8" height="5.8" fill="none" stroke="#435283" stroke-width="3.8"/>
<rect x="686.8" y="1518.86" width="5.8" height="5.8" fill="none" stroke="#435283" stroke-width="3.8"/>
<rect x="698.68" y="1518.86" width="5.8" height="5.8" fill="none" stroke="#435283" stroke-width="3.8"/>
<rect x="710.55" y="1518.06" width="5.8" height="5.8" fill="none" stroke="#435283" stroke-width="3.8"/>
<rect x="722.43" y="1517.54" width="5.8" height="5.8" fill="none" stroke="#435283" stroke-width="3.8"/>
<rect x="734.31" y="1517.54" width="5.8" height="5.8" fill="none" stroke="#435283" stroke-width="3.8"/>
<rect x="746.18" y="1517.54" width="5.8" height="5.8" fill="none" stroke="#435283" stroke-width="3.8"/>
<rect x="758.06" y="1517.54" width="5.8" height="5.8" fill="none" stroke="#435283" stroke-width="3.8"/>
<rect x="769.94" y="1517.54" width="5.8" height="5.8" fill="none" stroke="#435283" stroke-width="3.8"/>
<rect x="781.81" y="1517.01" width="5.8" height="5.8" fill="none" stroke="#435283" stroke-width="3.8"/>
<rect x="793.69" y="1515.42" width="5.8" height="5.8" fill="none" stroke="#435283" stroke-width="3.8"/>
<rect x="796.86" y="1671.93" width="5.8" height="5.8" fill="none" stroke="#435283" stroke-width="3.8"/>
<rect x="802.93" y="1671.93" width="5.8" height="5.8" fill="none" stroke="#435283" stroke-width="3.8"/>
<rect x="808.73" y="1671.14" width="5.8" height="5.8" fill="none" stroke="#435283" stroke-width="3.8"/>
<rect x="820.61" y="1530.73" width="5.8" height="5.8" fill="none" stroke="#435283" stroke-width="3.8"/>
<rect x="832.49" y="1525.98" width="5.8" height="5.8" fill="none" stroke="#435283" stroke-width="3.8"/>
<rect x="844.36" y="1523.34" width="5.8" height="5.8" fill="none" stroke="#435283" stroke-width="3.8"/>
<rect x="856.24" y="1521.49" width="5.8" height="5.8" fill="none" stroke="#435283" stroke-width="3.8"/>
<rect x="868.12" y="1521.49" width="5.8" height="5.8" fill="none" stroke="#435283" stroke-width="3.8"/>
<rect x="879.99" y="1520.97" width="5.8" height="5.8" fill="none" stroke="#435283" stroke-width="3.8"/>
<rect x="891.87" y="1520.7" width="5.8" height="5.8" fill="none" stroke="#435283" stroke-width="3.8"/>
<rect x="903.75" y="1520.17" width="5.8" height="5.8" fill="none" stroke="#435283" stroke-width="3.8"/>
<rect x="916.15" y="1520.17" width="5.8" height="5.8" fill="none" stroke="#435283" stroke-width="3.8"/>
<rect x="928.03" y="1520.17" width="5.8" height="5.8" fill="none" stroke="#435283" stroke-width="3.8"/>
<rect x="939.9" y="1520.17" width="5.8" height="5.8" fill="none" stroke="#435283" stroke-width="3.8"/>
<rect x="951.78" y="1519.65" width="5.8" height="5.8" fill="none" stroke="#435283" stroke-width="3.8"/>
<rect x="963.66" y="1519.65" width="5.8" height="5.8" fill="none" stroke="#435283" stroke-width="3.8"/>
<rect x="976.32" y="1519.38" width="5.8" height="5.8" fill="none" stroke="#435283" stroke-width="3.8"/>
<rect x="986.88" y="1519.38" width="5.8" height="5.8" fill="none" stroke="#435283" stroke-width="3.8"/>
<circle cx="629.53" cy="1484.81" r="3.4" fill="none" stroke="#dfb244" stroke-width="4.2"/>
<circle cx="641.4" cy="1490.08" r="3.4" fill="none" stroke="#dfb244" stroke-width="4.2"/>
<circle cx="653.28" cy="1490.08" r="3.4" fill="none" stroke="#dfb244" stroke-width="4.2"/>
<circle cx="665.16" cy="1490.61" r="3.4" fill="none" stroke="#dfb244" stroke-width="4.2"/>
<circle cx="677.56" cy="1490.61" r="3.4" fill="none" stroke="#dfb244" stroke-width="4.2"/>
<circle cx="689.7" cy="1490.61" r="3.4" fill="none" stroke="#dfb244" stroke-width="4.2"/>
<circle cx="701.58" cy="1490.08" r="3.4" fill="none" stroke="#dfb244" stroke-width="4.2"/>
<circle cx="713.45" cy="1490.08" r="3.4" fill="none" stroke="#dfb244" stroke-width="4.2"/>
<circle cx="725.33" cy="1490.08" r="3.4" fill="none" stroke="#dfb244" stroke-width="4.2"/>
<circle cx="737.21" cy="1490.08" r="3.4" fill="none" stroke="#dfb244" stroke-width="4.2"/>
<circle cx="749.08" cy="1490.08" r="3.4" fill="none" stroke="#dfb244" stroke-width="4.2"/>
<circle cx="760.96" cy="1490.08" r="3.4" fill="none" stroke="#dfb244" stroke-width="4.2"/>
<circle cx="772.84" cy="1490.08" r="3.4" fill="none" stroke="#dfb244" stroke-width="4.2"/>
<circle cx="784.71" cy="1490.08" r="3.4" fill="none" stroke="#dfb244" stroke-width="4.2"/>
<circle cx="796.59" cy="1490.08" r="3.4" fill="none" stroke="#dfb244" stroke-width="4.2"/>
<circle cx="799.76" cy="1644.48" r="3.4" fill="none" stroke="#dfb244" stroke-width="4.2"/>
<circle cx="805.83" cy="1645.01" r="3.4" fill="none" stroke="#dfb244" stroke-width="4.2"/>
<circle cx="811.63" cy="1643.69" r="3.4" fill="none" stroke="#dfb244" stroke-width="4.2"/>
<circle cx="823.51" cy="1511.2" r="3.4" fill="none" stroke="#dfb244" stroke-width="4.2"/>
<circle cx="835.39" cy="1504.07" r="3.4" fill="none" stroke="#dfb244" stroke-width="4.2"/>
<circle cx="847.26" cy="1500.11" r="3.4" fill="none" stroke="#dfb244" stroke-width="4.2"/>
<circle cx="859.14" cy="1498.53" r="3.4" fill="none" stroke="#dfb244" stroke-width="4.2"/>
<circle cx="871.02" cy="1497.21" r="3.4" fill="none" stroke="#dfb244" stroke-width="4.2"/>
<circle cx="882.89" cy="1496.68" r="3.4" fill="none" stroke="#dfb244" stroke-width="4.2"/>
<circle cx="894.77" cy="1496.15" r="3.4" fill="none" stroke="#dfb244" stroke-width="4.2"/>
<circle cx="906.65" cy="1495.89" r="3.4" fill="none" stroke="#dfb244" stroke-width="4.2"/>
<circle cx="919.05" cy="1495.36" r="3.4" fill="none" stroke="#dfb244" stroke-width="4.2"/>
<circle cx="930.93" cy="1494.84" r="3.4" fill="none" stroke="#dfb244" stroke-width="4.2"/>
<circle cx="942.8" cy="1494.84" r="3.4" fill="none" stroke="#dfb244" stroke-width="4.2"/>
<circle cx="954.68" cy="1494.57" r="3.4" fill="none" stroke="#dfb244" stroke-width="4.2"/>
<circle cx="966.56" cy="1494.57" r="3.4" fill="none" stroke="#dfb244" stroke-width="4.2"/>
<circle cx="979.22" cy="1494.04" r="3.4" fill="none" stroke="#dfb244" stroke-width="4.2"/>
<circle cx="989.78" cy="1494.04" r="3.4" fill="none" stroke="#dfb244" stroke-width="4.2"/>
<path d="M629.53 1466.12L633.83 1473.56L625.23 1473.56Z" fill="none" stroke="#ad4a40" stroke-width="3.6" stroke-linejoin="round"/>
<path d="M641.4 1464.01L645.7 1471.45L637.1 1471.45Z" fill="none" stroke="#ad4a40" stroke-width="3.6" stroke-linejoin="round"/>
<path d="M653.28 1463.21L657.58 1470.66L648.98 1470.66Z" fill="none" stroke="#ad4a40" stroke-width="3.6" stroke-linejoin="round"/>
<path d="M665.16 1462.16L669.46 1469.61L660.86 1469.61Z" fill="none" stroke="#ad4a40" stroke-width="3.6" stroke-linejoin="round"/>
<path d="M677.56 1461.37L681.86 1468.81L673.26 1468.81Z" fill="none" stroke="#ad4a40" stroke-width="3.6" stroke-linejoin="round"/>
<path d="M689.7 1460.57L694 1468.02L685.4 1468.02Z" fill="none" stroke="#ad4a40" stroke-width="3.6" stroke-linejoin="round"/>
<path d="M701.58 1460.05L705.88 1467.49L697.28 1467.49Z" fill="none" stroke="#ad4a40" stroke-width="3.6" stroke-linejoin="round"/>
<path d="M713.45 1460.05L717.75 1467.49L709.15 1467.49Z" fill="none" stroke="#ad4a40" stroke-width="3.6" stroke-linejoin="round"/>
<path d="M725.33 1459.52L729.63 1466.97L721.03 1466.97Z" fill="none" stroke="#ad4a40" stroke-width="3.6" stroke-linejoin="round"/>
<path d="M737.21 1459.52L741.51 1466.97L732.91 1466.97Z" fill="none" stroke="#ad4a40" stroke-width="3.6" stroke-linejoin="round"/>
<path d="M749.08 1459.52L753.38 1466.97L744.78 1466.97Z" fill="none" stroke="#ad4a40" stroke-width="3.6" stroke-linejoin="round"/>
<path d="M760.96 1458.99L765.26 1466.44L756.66 1466.44Z" fill="none" stroke="#ad4a40" stroke-width="3.6" stroke-linejoin="round"/>
<path d="M772.84 1458.73L777.14 1466.17L768.54 1466.17Z" fill="none" stroke="#ad4a40" stroke-width="3.6" stroke-linejoin="round"/>
<path d="M784.71 1458.73L789.01 1466.17L780.41 1466.17Z" fill="none" stroke="#ad4a40" stroke-width="3.6" stroke-linejoin="round"/>
<path d="M796.59 1458.73L800.89 1466.17L792.29 1466.17Z" fill="none" stroke="#ad4a40" stroke-width="3.6" stroke-linejoin="round"/>
<path d="M799.76 1605.73L804.06 1613.18L795.46 1613.18Z" fill="none" stroke="#ad4a40" stroke-width="3.6" stroke-linejoin="round"/>
<path d="M805.83 1605.73L810.13 1613.18L801.53 1613.18Z" fill="none" stroke="#ad4a40" stroke-width="3.6" stroke-linejoin="round"/>
<path d="M811.63 1605.73L815.93 1613.18L807.33 1613.18Z" fill="none" stroke="#ad4a40" stroke-width="3.6" stroke-linejoin="round"/>
<path d="M823.51 1493.83L827.81 1501.28L819.21 1501.28Z" fill="none" stroke="#ad4a40" stroke-width="3.6" stroke-linejoin="round"/>
<path d="M835.39 1486.97L839.69 1494.41L831.09 1494.41Z" fill="none" stroke="#ad4a40" stroke-width="3.6" stroke-linejoin="round"/>
<path d="M847.26 1483.27L851.56 1490.72L842.96 1490.72Z" fill="none" stroke="#ad4a40" stroke-width="3.6" stroke-linejoin="round"/>
<path d="M859.14 1480.37L863.44 1487.82L854.84 1487.82Z" fill="none" stroke="#ad4a40" stroke-width="3.6" stroke-linejoin="round"/>
<path d="M871.02 1478.52L875.32 1485.97L866.72 1485.97Z" fill="none" stroke="#ad4a40" stroke-width="3.6" stroke-linejoin="round"/>
<path d="M882.89 1477.2L887.19 1484.65L878.59 1484.65Z" fill="none" stroke="#ad4a40" stroke-width="3.6" stroke-linejoin="round"/>
<path d="M894.77 1475.88L899.07 1483.33L890.47 1483.33Z" fill="none" stroke="#ad4a40" stroke-width="3.6" stroke-linejoin="round"/>
<path d="M906.65 1475.35L910.95 1482.8L902.35 1482.8Z" fill="none" stroke="#ad4a40" stroke-width="3.6" stroke-linejoin="round"/>
<path d="M919.05 1474.56L923.35 1482.01L914.75 1482.01Z" fill="none" stroke="#ad4a40" stroke-width="3.6" stroke-linejoin="round"/>
<path d="M930.93 1473.77L935.23 1481.22L926.63 1481.22Z" fill="none" stroke="#ad4a40" stroke-width="3.6" stroke-linejoin="round"/>
<path d="M942.8 1473.24L947.1 1480.69L938.5 1480.69Z" fill="none" stroke="#ad4a40" stroke-width="3.6" stroke-linejoin="round"/>
<path d="M954.68 1472.72L958.98 1480.16L950.38 1480.16Z" fill="none" stroke="#ad4a40" stroke-width="3.6" stroke-linejoin="round"/>
<path d="M966.56 1471.92L970.86 1479.37L962.26 1479.37Z" fill="none" stroke="#ad4a40" stroke-width="3.6" stroke-linejoin="round"/>
<path d="M979.22 1471.92L983.52 1479.37L974.92 1479.37Z" fill="none" stroke="#ad4a40" stroke-width="3.6" stroke-linejoin="round"/>
<path d="M989.78 1471.92L994.08 1479.37L985.48 1479.37Z" fill="none" stroke="#ad4a40" stroke-width="3.6" stroke-linejoin="round"/>
<path d="M629.53 1448.86L633.83 1441.42L625.23 1441.42Z" fill="none" stroke="#4a8a5e" stroke-width="3.6" stroke-linejoin="round"/>
<path d="M641.4 1458.1L645.7 1450.65L637.1 1450.65Z" fill="none" stroke="#4a8a5e" stroke-width="3.6" stroke-linejoin="round"/>
<path d="M653.28 1459.42L657.58 1451.97L648.98 1451.97Z" fill="none" stroke="#4a8a5e" stroke-width="3.6" stroke-linejoin="round"/>
<path d="M665.16 1459.95L669.46 1452.5L660.86 1452.5Z" fill="none" stroke="#4a8a5e" stroke-width="3.6" stroke-linejoin="round"/>
<path d="M677.56 1459.95L681.86 1452.5L673.26 1452.5Z" fill="none" stroke="#4a8a5e" stroke-width="3.6" stroke-linejoin="round"/>
<path d="M689.7 1459.95L694 1452.5L685.4 1452.5Z" fill="none" stroke="#4a8a5e" stroke-width="3.6" stroke-linejoin="round"/>
<path d="M701.58 1459.95L705.88 1452.5L697.28 1452.5Z" fill="none" stroke="#4a8a5e" stroke-width="3.6" stroke-linejoin="round"/>
<path d="M713.45 1459.42L717.75 1451.97L709.15 1451.97Z" fill="none" stroke="#4a8a5e" stroke-width="3.6" stroke-linejoin="round"/>
<path d="M725.33 1459.42L729.63 1451.97L721.03 1451.97Z" fill="none" stroke="#4a8a5e" stroke-width="3.6" stroke-linejoin="round"/>
<path d="M737.21 1459.95L741.51 1452.5L732.91 1452.5Z" fill="none" stroke="#4a8a5e" stroke-width="3.6" stroke-linejoin="round"/>
<path d="M749.08 1459.95L753.38 1452.5L744.78 1452.5Z" fill="none" stroke="#4a8a5e" stroke-width="3.6" stroke-linejoin="round"/>
<path d="M760.96 1459.95L765.26 1452.5L756.66 1452.5Z" fill="none" stroke="#4a8a5e" stroke-width="3.6" stroke-linejoin="round"/>
<path d="M772.84 1459.42L777.14 1451.97L768.54 1451.97Z" fill="none" stroke="#4a8a5e" stroke-width="3.6" stroke-linejoin="round"/>
<path d="M784.71 1459.42L789.01 1451.97L780.41 1451.97Z" fill="none" stroke="#4a8a5e" stroke-width="3.6" stroke-linejoin="round"/>
<path d="M796.59 1458.89L800.89 1451.44L792.29 1451.44Z" fill="none" stroke="#4a8a5e" stroke-width="3.6" stroke-linejoin="round"/>
<path d="M799.76 1621.73L804.06 1614.28L795.46 1614.28Z" fill="none" stroke="#4a8a5e" stroke-width="3.6" stroke-linejoin="round"/>
<path d="M805.83 1621.73L810.13 1614.28L801.53 1614.28Z" fill="none" stroke="#4a8a5e" stroke-width="3.6" stroke-linejoin="round"/>
<path d="M811.63 1621.73L815.93 1614.28L807.33 1614.28Z" fill="none" stroke="#4a8a5e" stroke-width="3.6" stroke-linejoin="round"/>
<path d="M823.51 1481.85L827.81 1474.41L819.21 1474.41Z" fill="none" stroke="#4a8a5e" stroke-width="3.6" stroke-linejoin="round"/>
<path d="M835.39 1474.73L839.69 1467.28L831.09 1467.28Z" fill="none" stroke="#4a8a5e" stroke-width="3.6" stroke-linejoin="round"/>
<path d="M847.26 1472.09L851.56 1464.64L842.96 1464.64Z" fill="none" stroke="#4a8a5e" stroke-width="3.6" stroke-linejoin="round"/>
<path d="M859.14 1470.5L863.44 1463.06L854.84 1463.06Z" fill="none" stroke="#4a8a5e" stroke-width="3.6" stroke-linejoin="round"/>
<path d="M871.02 1469.45L875.32 1462L866.72 1462Z" fill="none" stroke="#4a8a5e" stroke-width="3.6" stroke-linejoin="round"/>
<path d="M882.89 1468.66L887.19 1461.21L878.59 1461.21Z" fill="none" stroke="#4a8a5e" stroke-width="3.6" stroke-linejoin="round"/>
<path d="M894.77 1467.87L899.07 1460.42L890.47 1460.42Z" fill="none" stroke="#4a8a5e" stroke-width="3.6" stroke-linejoin="round"/>
<path d="M906.65 1467.34L910.95 1459.89L902.35 1459.89Z" fill="none" stroke="#4a8a5e" stroke-width="3.6" stroke-linejoin="round"/>
<path d="M919.05 1466.81L923.35 1459.36L914.75 1459.36Z" fill="none" stroke="#4a8a5e" stroke-width="3.6" stroke-linejoin="round"/>
<path d="M930.93 1466.81L935.23 1459.36L926.63 1459.36Z" fill="none" stroke="#4a8a5e" stroke-width="3.6" stroke-linejoin="round"/>
<path d="M942.8 1466.28L947.1 1458.83L938.5 1458.83Z" fill="none" stroke="#4a8a5e" stroke-width="3.6" stroke-linejoin="round"/>
<path d="M954.68 1466.02L958.98 1458.57L950.38 1458.57Z" fill="none" stroke="#4a8a5e" stroke-width="3.6" stroke-linejoin="round"/>
<path d="M966.56 1466.02L970.86 1458.57L962.26 1458.57Z" fill="none" stroke="#4a8a5e" stroke-width="3.6" stroke-linejoin="round"/>
<path d="M979.22 1465.75L983.52 1458.31L974.92 1458.31Z" fill="none" stroke="#4a8a5e" stroke-width="3.6" stroke-linejoin="round"/>
<path d="M989.78 1465.49L994.08 1458.04L985.48 1458.04Z" fill="none" stroke="#4a8a5e" stroke-width="3.6" stroke-linejoin="round"/>
<rect x="618.3" y="1416.1" width="379.9" height="283.8" fill="none" stroke="#231f20" stroke-width="2.6"/>
<line x1="613.4" y1="1699.7" x2="617" y2="1699.7" stroke="#231f20" stroke-width="1.9" stroke-linecap="butt"/>
<line x1="613.4" y1="1687.21" x2="617" y2="1687.21" stroke="#231f20" stroke-width="1.9" stroke-linecap="butt"/>
<line x1="613.4" y1="1678.34" x2="617" y2="1678.34" stroke="#231f20" stroke-width="1.9" stroke-linecap="butt"/>
<line x1="613.4" y1="1671.46" x2="617" y2="1671.46" stroke="#231f20" stroke-width="1.9" stroke-linecap="butt"/>
<line x1="613.4" y1="1665.84" x2="617" y2="1665.84" stroke="#231f20" stroke-width="1.9" stroke-linecap="butt"/>
<line x1="613.4" y1="1661.09" x2="617" y2="1661.09" stroke="#231f20" stroke-width="1.9" stroke-linecap="butt"/>
<line x1="613.4" y1="1656.98" x2="617" y2="1656.98" stroke="#231f20" stroke-width="1.9" stroke-linecap="butt"/>
<line x1="613.4" y1="1653.35" x2="617" y2="1653.35" stroke="#231f20" stroke-width="1.9" stroke-linecap="butt"/>
<line x1="609.3" y1="1650.1" x2="617" y2="1650.1" stroke="#231f20" stroke-width="2.3" stroke-linecap="butt"/>
<line x1="613.4" y1="1628.74" x2="617" y2="1628.74" stroke="#231f20" stroke-width="1.9" stroke-linecap="butt"/>
<line x1="613.4" y1="1616.24" x2="617" y2="1616.24" stroke="#231f20" stroke-width="1.9" stroke-linecap="butt"/>
<line x1="613.4" y1="1607.37" x2="617" y2="1607.37" stroke="#231f20" stroke-width="1.9" stroke-linecap="butt"/>
<line x1="613.4" y1="1600.5" x2="617" y2="1600.5" stroke="#231f20" stroke-width="1.9" stroke-linecap="butt"/>
<line x1="613.4" y1="1594.88" x2="617" y2="1594.88" stroke="#231f20" stroke-width="1.9" stroke-linecap="butt"/>
<line x1="613.4" y1="1590.13" x2="617" y2="1590.13" stroke="#231f20" stroke-width="1.9" stroke-linecap="butt"/>
<line x1="613.4" y1="1586.01" x2="617" y2="1586.01" stroke="#231f20" stroke-width="1.9" stroke-linecap="butt"/>
<line x1="613.4" y1="1582.38" x2="617" y2="1582.38" stroke="#231f20" stroke-width="1.9" stroke-linecap="butt"/>
<line x1="609.3" y1="1579.13" x2="617" y2="1579.13" stroke="#231f20" stroke-width="2.3" stroke-linecap="butt"/>
<line x1="613.4" y1="1557.77" x2="617" y2="1557.77" stroke="#231f20" stroke-width="1.9" stroke-linecap="butt"/>
<line x1="613.4" y1="1545.27" x2="617" y2="1545.27" stroke="#231f20" stroke-width="1.9" stroke-linecap="butt"/>
<line x1="613.4" y1="1536.41" x2="617" y2="1536.41" stroke="#231f20" stroke-width="1.9" stroke-linecap="butt"/>
<line x1="613.4" y1="1529.53" x2="617" y2="1529.53" stroke="#231f20" stroke-width="1.9" stroke-linecap="butt"/>
<line x1="613.4" y1="1523.91" x2="617" y2="1523.91" stroke="#231f20" stroke-width="1.9" stroke-linecap="butt"/>
<line x1="613.4" y1="1519.16" x2="617" y2="1519.16" stroke="#231f20" stroke-width="1.9" stroke-linecap="butt"/>
<line x1="613.4" y1="1515.04" x2="617" y2="1515.04" stroke="#231f20" stroke-width="1.9" stroke-linecap="butt"/>
<line x1="613.4" y1="1511.41" x2="617" y2="1511.41" stroke="#231f20" stroke-width="1.9" stroke-linecap="butt"/>
<line x1="609.3" y1="1508.17" x2="617" y2="1508.17" stroke="#231f20" stroke-width="2.3" stroke-linecap="butt"/>
<line x1="613.4" y1="1486.8" x2="617" y2="1486.8" stroke="#231f20" stroke-width="1.9" stroke-linecap="butt"/>
<line x1="613.4" y1="1474.31" x2="617" y2="1474.31" stroke="#231f20" stroke-width="1.9" stroke-linecap="butt"/>
<line x1="613.4" y1="1465.44" x2="617" y2="1465.44" stroke="#231f20" stroke-width="1.9" stroke-linecap="butt"/>
<line x1="613.4" y1="1458.56" x2="617" y2="1458.56" stroke="#231f20" stroke-width="1.9" stroke-linecap="butt"/>
<line x1="613.4" y1="1452.94" x2="617" y2="1452.94" stroke="#231f20" stroke-width="1.9" stroke-linecap="butt"/>
<line x1="613.4" y1="1448.19" x2="617" y2="1448.19" stroke="#231f20" stroke-width="1.9" stroke-linecap="butt"/>
<line x1="613.4" y1="1444.08" x2="617" y2="1444.08" stroke="#231f20" stroke-width="1.9" stroke-linecap="butt"/>
<line x1="613.4" y1="1440.45" x2="617" y2="1440.45" stroke="#231f20" stroke-width="1.9" stroke-linecap="butt"/>
<line x1="609.3" y1="1437.2" x2="617" y2="1437.2" stroke="#231f20" stroke-width="2.3" stroke-linecap="butt"/>
<line x1="613.4" y1="1415.84" x2="617" y2="1415.84" stroke="#231f20" stroke-width="1.9" stroke-linecap="butt"/>
<text x="606.8" y="1662.6" font-size="31" text-anchor="end" fill="#231f20" font-weight="bold">10<tspan font-size="18" dy="-10">3</tspan></text>
<text x="606.8" y="1591.63" font-size="31" text-anchor="end" fill="#231f20" font-weight="bold">10<tspan font-size="18" dy="-10">4</tspan></text>
<text x="606.8" y="1520.67" font-size="31" text-anchor="end" fill="#231f20" font-weight="bold">10<tspan font-size="18" dy="-10">5</tspan></text>
<text x="606.8" y="1449.7" font-size="31" text-anchor="end" fill="#231f20" font-weight="bold">10<tspan font-size="18" dy="-10">6</tspan></text>
<line x1="617.7" y1="1701.2" x2="617.7" y2="1709.2" stroke="#231f20" stroke-width="2.3" stroke-linecap="butt"/>
<text x="617.7" y="1739.5" font-size="31" text-anchor="middle" fill="#231f20" font-weight="bold">0</text>
<line x1="692.12" y1="1701.2" x2="692.12" y2="1709.2" stroke="#231f20" stroke-width="2.3" stroke-linecap="butt"/>
<text x="692.12" y="1739.5" font-size="31" text-anchor="middle" fill="#231f20" font-weight="bold">50</text>
<line x1="766.54" y1="1701.2" x2="766.54" y2="1709.2" stroke="#231f20" stroke-width="2.3" stroke-linecap="butt"/>
<text x="766.54" y="1739.5" font-size="31" text-anchor="middle" fill="#231f20" font-weight="bold">100</text>
<line x1="840.96" y1="1701.2" x2="840.96" y2="1709.2" stroke="#231f20" stroke-width="2.3" stroke-linecap="butt"/>
<text x="840.96" y="1739.5" font-size="31" text-anchor="middle" fill="#231f20" font-weight="bold">150</text>
<line x1="915.38" y1="1701.2" x2="915.38" y2="1709.2" stroke="#231f20" stroke-width="2.3" stroke-linecap="butt"/>
<text x="915.38" y="1739.5" font-size="31" text-anchor="middle" fill="#231f20" font-weight="bold">200</text>
<line x1="989.8" y1="1701.2" x2="989.8" y2="1709.2" stroke="#231f20" stroke-width="2.3" stroke-linecap="butt"/>
<text x="989.8" y="1739.5" font-size="31" text-anchor="middle" fill="#231f20" font-weight="bold">250</text>
<line x1="654.91" y1="1701.2" x2="654.91" y2="1705.2" stroke="#231f20" stroke-width="1.8" stroke-linecap="butt"/>
<line x1="729.33" y1="1701.2" x2="729.33" y2="1705.2" stroke="#231f20" stroke-width="1.8" stroke-linecap="butt"/>
<line x1="803.75" y1="1701.2" x2="803.75" y2="1705.2" stroke="#231f20" stroke-width="1.8" stroke-linecap="butt"/>
<line x1="878.17" y1="1701.2" x2="878.17" y2="1705.2" stroke="#231f20" stroke-width="1.8" stroke-linecap="butt"/>
<line x1="952.59" y1="1701.2" x2="952.59" y2="1705.2" stroke="#231f20" stroke-width="1.8" stroke-linecap="butt"/>
<text x="554.99" y="1561.4" font-size="30.5" text-anchor="middle" fill="#231f20" font-weight="bold" transform="rotate(-90 554.99 1561.4)">Viscosity/(mPa·s)</text>
<text x="801.8" y="1780.4" font-size="30.5" text-anchor="middle" fill="#231f20" font-weight="bold">Time/s</text>
<rect x="1146.42" y="1475.84" width="5.8" height="5.8" fill="none" stroke="#435283" stroke-width="3.8"/>
<rect x="1156.45" y="1483.23" width="5.8" height="5.8" fill="none" stroke="#435283" stroke-width="3.8"/>
<rect x="1167.01" y="1488.5" width="5.8" height="5.8" fill="none" stroke="#435283" stroke-width="3.8"/>
<rect x="1177.3" y="1491.14" width="5.8" height="5.8" fill="none" stroke="#435283" stroke-width="3.8"/>
<rect x="1189.18" y="1491.67" width="5.8" height="5.8" fill="none" stroke="#435283" stroke-width="3.8"/>
<rect x="1201.05" y="1492.46" width="5.8" height="5.8" fill="none" stroke="#435283" stroke-width="3.8"/>
<rect x="1212.93" y="1493.25" width="5.8" height="5.8" fill="none" stroke="#435283" stroke-width="3.8"/>
<rect x="1224.81" y="1495.1" width="5.8" height="5.8" fill="none" stroke="#435283" stroke-width="3.8"/>
<rect x="1236.68" y="1496.42" width="5.8" height="5.8" fill="none" stroke="#435283" stroke-width="3.8"/>
<rect x="1248.56" y="1496.95" width="5.8" height="5.8" fill="none" stroke="#435283" stroke-width="3.8"/>
<rect x="1260.44" y="1497.74" width="5.8" height="5.8" fill="none" stroke="#435283" stroke-width="3.8"/>
<rect x="1271.78" y="1498.53" width="5.8" height="5.8" fill="none" stroke="#435283" stroke-width="3.8"/>
<rect x="1283.66" y="1499.06" width="5.8" height="5.8" fill="none" stroke="#435283" stroke-width="3.8"/>
<rect x="1295.01" y="1499.06" width="5.8" height="5.8" fill="none" stroke="#435283" stroke-width="3.8"/>
<rect x="1306.62" y="1501.17" width="5.8" height="5.8" fill="none" stroke="#435283" stroke-width="3.8"/>
<rect x="1317.97" y="1504.87" width="5.8" height="5.8" fill="none" stroke="#435283" stroke-width="3.8"/>
<rect x="1329.06" y="1511.73" width="5.8" height="5.8" fill="none" stroke="#435283" stroke-width="3.8"/>
<rect x="1339.61" y="1519.65" width="5.8" height="5.8" fill="none" stroke="#435283" stroke-width="3.8"/>
<rect x="1350.96" y="1529.41" width="5.8" height="5.8" fill="none" stroke="#435283" stroke-width="3.8"/>
<rect x="1362.84" y="1551.85" width="5.8" height="5.8" fill="none" stroke="#435283" stroke-width="3.8"/>
<rect x="1373.92" y="1583.52" width="5.8" height="5.8" fill="none" stroke="#435283" stroke-width="3.8"/>
<rect x="1385.27" y="1615.19" width="5.8" height="5.8" fill="none" stroke="#435283" stroke-width="3.8"/>
<rect x="1397.15" y="1627.06" width="5.8" height="5.8" fill="none" stroke="#435283" stroke-width="3.8"/>
<rect x="1407.7" y="1641.58" width="5.8" height="5.8" fill="none" stroke="#435283" stroke-width="3.8"/>
<rect x="1418.79" y="1650.82" width="5.8" height="5.8" fill="none" stroke="#435283" stroke-width="3.8"/>
<rect x="1430.14" y="1658.73" width="5.8" height="5.8" fill="none" stroke="#435283" stroke-width="3.8"/>
<rect x="1441.49" y="1660.05" width="5.8" height="5.8" fill="none" stroke="#435283" stroke-width="3.8"/>
<rect x="1453.1" y="1660.58" width="5.8" height="5.8" fill="none" stroke="#435283" stroke-width="3.8"/>
<rect x="1464.45" y="1660.58" width="5.8" height="5.8" fill="none" stroke="#435283" stroke-width="3.8"/>
<rect x="1476.32" y="1660.58" width="5.8" height="5.8" fill="none" stroke="#435283" stroke-width="3.8"/>
<circle cx="1149.32" cy="1484.81" r="3.4" fill="none" stroke="#dfb244" stroke-width="4.2"/>
<circle cx="1159.35" cy="1490.08" r="3.4" fill="none" stroke="#dfb244" stroke-width="4.2"/>
<circle cx="1169.91" cy="1490.88" r="3.4" fill="none" stroke="#dfb244" stroke-width="4.2"/>
<circle cx="1180.2" cy="1491.93" r="3.4" fill="none" stroke="#dfb244" stroke-width="4.2"/>
<circle cx="1192.08" cy="1491.93" r="3.4" fill="none" stroke="#dfb244" stroke-width="4.2"/>
<circle cx="1203.95" cy="1491.93" r="3.4" fill="none" stroke="#dfb244" stroke-width="4.2"/>
<circle cx="1215.83" cy="1492.72" r="3.4" fill="none" stroke="#dfb244" stroke-width="4.2"/>
<circle cx="1227.71" cy="1493.52" r="3.4" fill="none" stroke="#dfb244" stroke-width="4.2"/>
<circle cx="1239.58" cy="1494.04" r="3.4" fill="none" stroke="#dfb244" stroke-width="4.2"/>
<circle cx="1251.46" cy="1494.57" r="3.4" fill="none" stroke="#dfb244" stroke-width="4.2"/>
<circle cx="1263.34" cy="1494.57" r="3.4" fill="none" stroke="#dfb244" stroke-width="4.2"/>
<circle cx="1274.68" cy="1494.57" r="3.4" fill="none" stroke="#dfb244" stroke-width="4.2"/>
<circle cx="1286.56" cy="1496.15" r="3.4" fill="none" stroke="#dfb244" stroke-width="4.2"/>
<circle cx="1297.91" cy="1497.21" r="3.4" fill="none" stroke="#dfb244" stroke-width="4.2"/>
<circle cx="1309.52" cy="1498.79" r="3.4" fill="none" stroke="#dfb244" stroke-width="4.2"/>
<circle cx="1320.87" cy="1500.64" r="3.4" fill="none" stroke="#dfb244" stroke-width="4.2"/>
<circle cx="1331.96" cy="1505.13" r="3.4" fill="none" stroke="#dfb244" stroke-width="4.2"/>
<circle cx="1342.51" cy="1512.52" r="3.4" fill="none" stroke="#dfb244" stroke-width="4.2"/>
<circle cx="1353.86" cy="1523.07" r="3.4" fill="none" stroke="#dfb244" stroke-width="4.2"/>
<circle cx="1365.74" cy="1541.55" r="3.4" fill="none" stroke="#dfb244" stroke-width="4.2"/>
<circle cx="1376.82" cy="1579.82" r="3.4" fill="none" stroke="#dfb244" stroke-width="4.2"/>
<circle cx="1388.17" cy="1610.17" r="3.4" fill="none" stroke="#dfb244" stroke-width="4.2"/>
<circle cx="1400.05" cy="1623.37" r="3.4" fill="none" stroke="#dfb244" stroke-width="4.2"/>
<circle cx="1410.6" cy="1629.96" r="3.4" fill="none" stroke="#dfb244" stroke-width="4.2"/>
<circle cx="1421.69" cy="1637.88" r="3.4" fill="none" stroke="#dfb244" stroke-width="4.2"/>
<circle cx="1433.04" cy="1658.99" r="3.4" fill="none" stroke="#dfb244" stroke-width="4.2"/>
<circle cx="1444.39" cy="1658.99" r="3.4" fill="none" stroke="#dfb244" stroke-width="4.2"/>
<circle cx="1456" cy="1659.79" r="3.4" fill="none" stroke="#dfb244" stroke-width="4.2"/>
<circle cx="1467.35" cy="1661.63" r="3.4" fill="none" stroke="#dfb244" stroke-width="4.2"/>
<circle cx="1479.22" cy="1662.43" r="3.4" fill="none" stroke="#dfb244" stroke-width="4.2"/>
<path d="M1149.32 1454.24L1153.62 1461.69L1145.02 1461.69Z" fill="none" stroke="#ad4a40" stroke-width="3.6" stroke-linejoin="round"/>
<path d="M1159.35 1456.09L1163.65 1463.54L1155.05 1463.54Z" fill="none" stroke="#ad4a40" stroke-width="3.6" stroke-linejoin="round"/>
<path d="M1169.91 1456.88L1174.21 1464.33L1165.61 1464.33Z" fill="none" stroke="#ad4a40" stroke-width="3.6" stroke-linejoin="round"/>
<path d="M1180.2 1457.41L1184.5 1464.86L1175.9 1464.86Z" fill="none" stroke="#ad4a40" stroke-width="3.6" stroke-linejoin="round"/>
<path d="M1192.08 1457.94L1196.38 1465.38L1187.78 1465.38Z" fill="none" stroke="#ad4a40" stroke-width="3.6" stroke-linejoin="round"/>
<path d="M1203.95 1457.94L1208.25 1465.38L1199.65 1465.38Z" fill="none" stroke="#ad4a40" stroke-width="3.6" stroke-linejoin="round"/>
<path d="M1215.83 1458.73L1220.13 1466.17L1211.53 1466.17Z" fill="none" stroke="#ad4a40" stroke-width="3.6" stroke-linejoin="round"/>
<path d="M1227.71 1459.52L1232.01 1466.97L1223.41 1466.97Z" fill="none" stroke="#ad4a40" stroke-width="3.6" stroke-linejoin="round"/>
<path d="M1239.58 1460.57L1243.88 1468.02L1235.28 1468.02Z" fill="none" stroke="#ad4a40" stroke-width="3.6" stroke-linejoin="round"/>
<path d="M1251.46 1461.37L1255.76 1468.81L1247.16 1468.81Z" fill="none" stroke="#ad4a40" stroke-width="3.6" stroke-linejoin="round"/>
<path d="M1263.34 1462.16L1267.64 1469.61L1259.04 1469.61Z" fill="none" stroke="#ad4a40" stroke-width="3.6" stroke-linejoin="round"/>
<path d="M1274.68 1462.69L1278.98 1470.13L1270.38 1470.13Z" fill="none" stroke="#ad4a40" stroke-width="3.6" stroke-linejoin="round"/>
<path d="M1286.56 1464.01L1290.86 1471.45L1282.26 1471.45Z" fill="none" stroke="#ad4a40" stroke-width="3.6" stroke-linejoin="round"/>
<path d="M1297.91 1465.33L1302.21 1472.77L1293.61 1472.77Z" fill="none" stroke="#ad4a40" stroke-width="3.6" stroke-linejoin="round"/>
<path d="M1309.52 1466.64L1313.82 1474.09L1305.22 1474.09Z" fill="none" stroke="#ad4a40" stroke-width="3.6" stroke-linejoin="round"/>
<path d="M1320.87 1470.08L1325.17 1477.52L1316.57 1477.52Z" fill="none" stroke="#ad4a40" stroke-width="3.6" stroke-linejoin="round"/>
<path d="M1331.96 1475.88L1336.26 1483.33L1327.66 1483.33Z" fill="none" stroke="#ad4a40" stroke-width="3.6" stroke-linejoin="round"/>
<path d="M1342.51 1483.27L1346.81 1490.72L1338.21 1490.72Z" fill="none" stroke="#ad4a40" stroke-width="3.6" stroke-linejoin="round"/>
<path d="M1353.86 1497L1358.16 1504.44L1349.56 1504.44Z" fill="none" stroke="#ad4a40" stroke-width="3.6" stroke-linejoin="round"/>
<path d="M1365.74 1536.58L1370.04 1544.03L1361.44 1544.03Z" fill="none" stroke="#ad4a40" stroke-width="3.6" stroke-linejoin="round"/>
<path d="M1376.82 1594.12L1381.12 1601.57L1372.52 1601.57Z" fill="none" stroke="#ad4a40" stroke-width="3.6" stroke-linejoin="round"/>
<path d="M1388.17 1615.76L1392.47 1623.21L1383.87 1623.21Z" fill="none" stroke="#ad4a40" stroke-width="3.6" stroke-linejoin="round"/>
<path d="M1400.05 1619.72L1404.35 1627.17L1395.75 1627.17Z" fill="none" stroke="#ad4a40" stroke-width="3.6" stroke-linejoin="round"/>
<path d="M1410.6 1627.64L1414.9 1635.08L1406.3 1635.08Z" fill="none" stroke="#ad4a40" stroke-width="3.6" stroke-linejoin="round"/>
<path d="M1421.69 1634.24L1425.99 1641.68L1417.39 1641.68Z" fill="none" stroke="#ad4a40" stroke-width="3.6" stroke-linejoin="round"/>
<path d="M1433.04 1640.04L1437.34 1647.49L1428.74 1647.49Z" fill="none" stroke="#ad4a40" stroke-width="3.6" stroke-linejoin="round"/>
<path d="M1444.39 1646.9L1448.69 1654.35L1440.09 1654.35Z" fill="none" stroke="#ad4a40" stroke-width="3.6" stroke-linejoin="round"/>
<path d="M1456 1653.24L1460.3 1660.69L1451.7 1660.69Z" fill="none" stroke="#ad4a40" stroke-width="3.6" stroke-linejoin="round"/>
<path d="M1467.35 1656.67L1471.65 1664.12L1463.05 1664.12Z" fill="none" stroke="#ad4a40" stroke-width="3.6" stroke-linejoin="round"/>
<path d="M1479.22 1656.67L1483.52 1664.12L1474.92 1664.12Z" fill="none" stroke="#ad4a40" stroke-width="3.6" stroke-linejoin="round"/>
<path d="M1149.32 1441.47L1153.62 1434.03L1145.02 1434.03Z" fill="none" stroke="#4a8a5e" stroke-width="3.6" stroke-linejoin="round"/>
<path d="M1159.35 1444.11L1163.65 1436.66L1155.05 1436.66Z" fill="none" stroke="#4a8a5e" stroke-width="3.6" stroke-linejoin="round"/>
<path d="M1169.91 1445.7L1174.21 1438.25L1165.61 1438.25Z" fill="none" stroke="#4a8a5e" stroke-width="3.6" stroke-linejoin="round"/>
<path d="M1180.2 1445.7L1184.5 1438.25L1175.9 1438.25Z" fill="none" stroke="#4a8a5e" stroke-width="3.6" stroke-linejoin="round"/>
<path d="M1192.08 1446.75L1196.38 1439.3L1187.78 1439.3Z" fill="none" stroke="#4a8a5e" stroke-width="3.6" stroke-linejoin="round"/>
<path d="M1203.95 1447.54L1208.25 1440.1L1199.65 1440.1Z" fill="none" stroke="#4a8a5e" stroke-width="3.6" stroke-linejoin="round"/>
<path d="M1215.83 1448.34L1220.13 1440.89L1211.53 1440.89Z" fill="none" stroke="#4a8a5e" stroke-width="3.6" stroke-linejoin="round"/>
<path d="M1227.71 1449.39L1232.01 1441.94L1223.41 1441.94Z" fill="none" stroke="#4a8a5e" stroke-width="3.6" stroke-linejoin="round"/>
<path d="M1239.58 1450.18L1243.88 1442.74L1235.28 1442.74Z" fill="none" stroke="#4a8a5e" stroke-width="3.6" stroke-linejoin="round"/>
<path d="M1251.46 1450.97L1255.76 1443.53L1247.16 1443.53Z" fill="none" stroke="#4a8a5e" stroke-width="3.6" stroke-linejoin="round"/>
<path d="M1263.34 1452.03L1267.64 1444.58L1259.04 1444.58Z" fill="none" stroke="#4a8a5e" stroke-width="3.6" stroke-linejoin="round"/>
<path d="M1274.68 1453.61L1278.98 1446.17L1270.38 1446.17Z" fill="none" stroke="#4a8a5e" stroke-width="3.6" stroke-linejoin="round"/>
<path d="M1286.56 1454.67L1290.86 1447.22L1282.26 1447.22Z" fill="none" stroke="#4a8a5e" stroke-width="3.6" stroke-linejoin="round"/>
<path d="M1297.91 1456.25L1302.21 1448.81L1293.61 1448.81Z" fill="none" stroke="#4a8a5e" stroke-width="3.6" stroke-linejoin="round"/>
<path d="M1309.52 1458.89L1313.82 1451.44L1305.22 1451.44Z" fill="none" stroke="#4a8a5e" stroke-width="3.6" stroke-linejoin="round"/>
<path d="M1320.87 1462.06L1325.17 1454.61L1316.57 1454.61Z" fill="none" stroke="#4a8a5e" stroke-width="3.6" stroke-linejoin="round"/>
<path d="M1331.96 1466.81L1336.26 1459.36L1327.66 1459.36Z" fill="none" stroke="#4a8a5e" stroke-width="3.6" stroke-linejoin="round"/>
<path d="M1342.51 1474.73L1346.81 1467.28L1338.21 1467.28Z" fill="none" stroke="#4a8a5e" stroke-width="3.6" stroke-linejoin="round"/>
<path d="M1353.86 1488.98L1358.16 1481.53L1349.56 1481.53Z" fill="none" stroke="#4a8a5e" stroke-width="3.6" stroke-linejoin="round"/>
<path d="M1365.74 1532L1370.04 1524.55L1361.44 1524.55Z" fill="none" stroke="#4a8a5e" stroke-width="3.6" stroke-linejoin="round"/>
<path d="M1376.82 1591.91L1381.12 1584.46L1372.52 1584.46Z" fill="none" stroke="#4a8a5e" stroke-width="3.6" stroke-linejoin="round"/>
<path d="M1388.17 1621.73L1392.47 1614.28L1383.87 1614.28Z" fill="none" stroke="#4a8a5e" stroke-width="3.6" stroke-linejoin="round"/>
<path d="M1400.05 1628.86L1404.35 1621.41L1395.75 1621.41Z" fill="none" stroke="#4a8a5e" stroke-width="3.6" stroke-linejoin="round"/>
<path d="M1410.6 1633.08L1414.9 1625.63L1406.3 1625.63Z" fill="none" stroke="#4a8a5e" stroke-width="3.6" stroke-linejoin="round"/>
<path d="M1421.69 1632.29L1425.99 1624.84L1417.39 1624.84Z" fill="none" stroke="#4a8a5e" stroke-width="3.6" stroke-linejoin="round"/>
<path d="M1433.04 1635.72L1437.34 1628.27L1428.74 1628.27Z" fill="none" stroke="#4a8a5e" stroke-width="3.6" stroke-linejoin="round"/>
<path d="M1444.39 1645.48L1448.69 1638.04L1440.09 1638.04Z" fill="none" stroke="#4a8a5e" stroke-width="3.6" stroke-linejoin="round"/>
<path d="M1456 1651.56L1460.3 1644.11L1451.7 1644.11Z" fill="none" stroke="#4a8a5e" stroke-width="3.6" stroke-linejoin="round"/>
<path d="M1467.35 1658.68L1471.65 1651.23L1463.05 1651.23Z" fill="none" stroke="#4a8a5e" stroke-width="3.6" stroke-linejoin="round"/>
<path d="M1479.22 1658.68L1483.52 1651.23L1474.92 1651.23Z" fill="none" stroke="#4a8a5e" stroke-width="3.6" stroke-linejoin="round"/>
<rect x="1133.6" y="1416.2" width="379.9" height="283.7" fill="none" stroke="#231f20" stroke-width="2.6"/>
<line x1="1128.3" y1="1700.83" x2="1132.3" y2="1700.83" stroke="#231f20" stroke-width="1.9" stroke-linecap="butt"/>
<line x1="1128.3" y1="1694.35" x2="1132.3" y2="1694.35" stroke="#231f20" stroke-width="1.9" stroke-linecap="butt"/>
<line x1="1128.3" y1="1688.88" x2="1132.3" y2="1688.88" stroke="#231f20" stroke-width="1.9" stroke-linecap="butt"/>
<line x1="1128.3" y1="1684.13" x2="1132.3" y2="1684.13" stroke="#231f20" stroke-width="1.9" stroke-linecap="butt"/>
<line x1="1128.3" y1="1679.94" x2="1132.3" y2="1679.94" stroke="#231f20" stroke-width="1.9" stroke-linecap="butt"/>
<line x1="1123.3" y1="1676.2" x2="1132.3" y2="1676.2" stroke="#231f20" stroke-width="2.3" stroke-linecap="butt"/>
<line x1="1128.3" y1="1651.57" x2="1132.3" y2="1651.57" stroke="#231f20" stroke-width="1.9" stroke-linecap="butt"/>
<line x1="1128.3" y1="1637.16" x2="1132.3" y2="1637.16" stroke="#231f20" stroke-width="1.9" stroke-linecap="butt"/>
<line x1="1128.3" y1="1626.93" x2="1132.3" y2="1626.93" stroke="#231f20" stroke-width="1.9" stroke-linecap="butt"/>
<line x1="1128.3" y1="1619" x2="1132.3" y2="1619" stroke="#231f20" stroke-width="1.9" stroke-linecap="butt"/>
<line x1="1128.3" y1="1612.52" x2="1132.3" y2="1612.52" stroke="#231f20" stroke-width="1.9" stroke-linecap="butt"/>
<line x1="1128.3" y1="1607.04" x2="1132.3" y2="1607.04" stroke="#231f20" stroke-width="1.9" stroke-linecap="butt"/>
<line x1="1128.3" y1="1602.3" x2="1132.3" y2="1602.3" stroke="#231f20" stroke-width="1.9" stroke-linecap="butt"/>
<line x1="1128.3" y1="1598.11" x2="1132.3" y2="1598.11" stroke="#231f20" stroke-width="1.9" stroke-linecap="butt"/>
<line x1="1123.3" y1="1594.37" x2="1132.3" y2="1594.37" stroke="#231f20" stroke-width="2.3" stroke-linecap="butt"/>
<line x1="1128.3" y1="1569.73" x2="1132.3" y2="1569.73" stroke="#231f20" stroke-width="1.9" stroke-linecap="butt"/>
<line x1="1128.3" y1="1555.32" x2="1132.3" y2="1555.32" stroke="#231f20" stroke-width="1.9" stroke-linecap="butt"/>
<line x1="1128.3" y1="1545.1" x2="1132.3" y2="1545.1" stroke="#231f20" stroke-width="1.9" stroke-linecap="butt"/>
<line x1="1128.3" y1="1537.17" x2="1132.3" y2="1537.17" stroke="#231f20" stroke-width="1.9" stroke-linecap="butt"/>
<line x1="1128.3" y1="1530.69" x2="1132.3" y2="1530.69" stroke="#231f20" stroke-width="1.9" stroke-linecap="butt"/>
<line x1="1128.3" y1="1525.21" x2="1132.3" y2="1525.21" stroke="#231f20" stroke-width="1.9" stroke-linecap="butt"/>
<line x1="1128.3" y1="1520.46" x2="1132.3" y2="1520.46" stroke="#231f20" stroke-width="1.9" stroke-linecap="butt"/>
<line x1="1128.3" y1="1516.28" x2="1132.3" y2="1516.28" stroke="#231f20" stroke-width="1.9" stroke-linecap="butt"/>
<line x1="1123.3" y1="1512.53" x2="1132.3" y2="1512.53" stroke="#231f20" stroke-width="2.3" stroke-linecap="butt"/>
<line x1="1128.3" y1="1487.9" x2="1132.3" y2="1487.9" stroke="#231f20" stroke-width="1.9" stroke-linecap="butt"/>
<line x1="1128.3" y1="1473.49" x2="1132.3" y2="1473.49" stroke="#231f20" stroke-width="1.9" stroke-linecap="butt"/>
<line x1="1128.3" y1="1463.26" x2="1132.3" y2="1463.26" stroke="#231f20" stroke-width="1.9" stroke-linecap="butt"/>
<line x1="1128.3" y1="1455.33" x2="1132.3" y2="1455.33" stroke="#231f20" stroke-width="1.9" stroke-linecap="butt"/>
<line x1="1128.3" y1="1448.85" x2="1132.3" y2="1448.85" stroke="#231f20" stroke-width="1.9" stroke-linecap="butt"/>
<line x1="1128.3" y1="1443.38" x2="1132.3" y2="1443.38" stroke="#231f20" stroke-width="1.9" stroke-linecap="butt"/>
<line x1="1128.3" y1="1438.63" x2="1132.3" y2="1438.63" stroke="#231f20" stroke-width="1.9" stroke-linecap="butt"/>
<line x1="1128.3" y1="1434.44" x2="1132.3" y2="1434.44" stroke="#231f20" stroke-width="1.9" stroke-linecap="butt"/>
<line x1="1123.3" y1="1430.7" x2="1132.3" y2="1430.7" stroke="#231f20" stroke-width="2.3" stroke-linecap="butt"/>
<text x="1113.1" y="1687.3" font-size="31" text-anchor="end" fill="#231f20" font-weight="bold">10<tspan font-size="18" dy="-10">−2</tspan></text>
<text x="1113.1" y="1604.9" font-size="31" text-anchor="end" fill="#231f20" font-weight="bold">10<tspan font-size="18" dy="-10">−1</tspan></text>
<text x="1113.1" y="1522.5" font-size="31" text-anchor="end" fill="#231f20" font-weight="bold">10<tspan font-size="18" dy="-10">0</tspan></text>
<text x="1113.1" y="1440.2" font-size="31" text-anchor="end" fill="#231f20" font-weight="bold">10<tspan font-size="18" dy="-10">1</tspan></text>
<line x1="1149.3" y1="1701.2" x2="1149.3" y2="1709.7" stroke="#231f20" stroke-width="2.3" stroke-linecap="butt"/>
<text x="1149.3" y="1739.5" font-size="31" text-anchor="middle" fill="#231f20" font-weight="bold">20</text>
<line x1="1232.1" y1="1701.2" x2="1232.1" y2="1709.7" stroke="#231f20" stroke-width="2.3" stroke-linecap="butt"/>
<text x="1232.1" y="1739.5" font-size="31" text-anchor="middle" fill="#231f20" font-weight="bold">25</text>
<line x1="1314.9" y1="1701.2" x2="1314.9" y2="1709.7" stroke="#231f20" stroke-width="2.3" stroke-linecap="butt"/>
<text x="1314.9" y="1739.5" font-size="31" text-anchor="middle" fill="#231f20" font-weight="bold">30</text>
<line x1="1397.7" y1="1701.2" x2="1397.7" y2="1709.7" stroke="#231f20" stroke-width="2.3" stroke-linecap="butt"/>
<text x="1397.7" y="1739.5" font-size="31" text-anchor="middle" fill="#231f20" font-weight="bold">35</text>
<line x1="1480.5" y1="1701.2" x2="1480.5" y2="1709.7" stroke="#231f20" stroke-width="2.3" stroke-linecap="butt"/>
<text x="1480.5" y="1739.5" font-size="31" text-anchor="middle" fill="#231f20" font-weight="bold">40</text>
<line x1="1190.7" y1="1701.2" x2="1190.7" y2="1705.7" stroke="#231f20" stroke-width="1.8" stroke-linecap="butt"/>
<line x1="1273.5" y1="1701.2" x2="1273.5" y2="1705.7" stroke="#231f20" stroke-width="1.8" stroke-linecap="butt"/>
<line x1="1356.3" y1="1701.2" x2="1356.3" y2="1705.7" stroke="#231f20" stroke-width="1.8" stroke-linecap="butt"/>
<line x1="1439.1" y1="1701.2" x2="1439.1" y2="1705.7" stroke="#231f20" stroke-width="1.8" stroke-linecap="butt"/>
<text x="1049.59" y="1554.1" font-size="30.5" text-anchor="middle" fill="#231f20" font-weight="bold" transform="rotate(-90 1049.59 1554.1)">Viscosity/(Pa·s)</text>
<text x="1311.6" y="1773.8" font-size="30.5" text-anchor="middle" fill="#231f20" font-weight="bold">Temperature/°C</text>
<text x="413.2" y="1355.4" font-size="26.4" text-anchor="start" fill="#231f20" font-weight="bold">Microgel size</text>
<rect x="597.6" y="1340.7" width="9.6" height="9.6" fill="none" stroke="#435283" stroke-width="6.6"/>
<text x="623.5" y="1355.4" font-size="26.4" text-anchor="start" fill="#231f20" font-weight="bold">600 µm</text>
<circle cx="781.1" cy="1345.6" r="5.9" fill="none" stroke="#dfb244" stroke-width="6.8"/>
<text x="807.3" y="1355.4" font-size="26.4" text-anchor="start" fill="#231f20" font-weight="bold">450 µm</text>
<path d="M959.9 1337.66L967.3 1350.47L952.5 1350.47Z" fill="none" stroke="#ad4a40" stroke-width="7.6" stroke-linejoin="round"/>
<text x="987.8" y="1355.4" font-size="26.4" text-anchor="start" fill="#231f20" font-weight="bold">300 µm</text>
<path d="M1137.5 1353.04L1144.9 1340.23L1130.1 1340.23Z" fill="none" stroke="#4a8a5e" stroke-width="7.6" stroke-linejoin="round"/>
<text x="1160" y="1355.4" font-size="26.4" text-anchor="start" fill="#231f20" font-weight="bold">150 µm</text>
<text x="423.6" y="1822.4" font-size="26.4" text-anchor="start" fill="#231f20" font-weight="bold">GelMA: microgel</text>
<rect x="659.2" y="1807" width="9.6" height="9.6" fill="none" stroke="#435283" stroke-width="6.6"/>
<text x="690.2" y="1822.4" font-size="26.4" text-anchor="start" fill="#231f20" font-weight="bold">2:1</text>
<circle cx="791.5" cy="1812" r="5.9" fill="none" stroke="#dfb244" stroke-width="6.8"/>
<text x="816.8" y="1822.4" font-size="26.4" text-anchor="start" fill="#231f20" font-weight="bold">1:1</text>
<path d="M918 1803.96L925.4 1816.77L910.6 1816.77Z" fill="none" stroke="#ad4a40" stroke-width="7.6" stroke-linejoin="round"/>
<text x="942.2" y="1822.4" font-size="26.4" text-anchor="start" fill="#231f20" font-weight="bold">1:2</text>
<path d="M1044 1820.04L1051.4 1807.23L1036.6 1807.23Z" fill="none" stroke="#4a8a5e" stroke-width="7.6" stroke-linejoin="round"/>
<text x="1069.3" y="1822.4" font-size="26.4" text-anchor="start" fill="#231f20" font-weight="bold">1:3</text>
<rect x="1618.6" y="892.8" width="454.7" height="454.3" fill="#000" stroke="none" stroke-width="0"/>
<defs><filter id="rl0" filterUnits="userSpaceOnUse" x="1625.7" y="930.4" width="210.9" height="176.9" color-interpolation-filters="sRGB"><feTurbulence type="fractalNoise" baseFrequency="0.07" numOctaves="2" seed="31" result="t"/><feColorMatrix in="t" type="matrix" values="12.5 0 0 0 -4.62  12.5 0 0 0 -4.62  12.5 0 0 0 -4.62  0 0 0 0 1" result="m"/><feColorMatrix in="m" type="matrix" values="0.62 0 0 0 0.38  0 0.62 0 0 0.38  0 0 0.62 0 0.38  0 0 0 0 1" result="L"/><feComposite in="SourceGraphic" in2="L" operator="arithmetic" k1="1" k2="0" k3="0" k4="0"/></filter><filter id="rl1" filterUnits="userSpaceOnUse" x="1858.1" y="931.9" width="208.1" height="168.4" color-interpolation-filters="sRGB"><feTurbulence type="fractalNoise" baseFrequency="0.04" numOctaves="2" seed="32" result="t"/><feColorMatrix in="t" type="matrix" values="12.5 0 0 0 -5.38  12.5 0 0 0 -5.38  12.5 0 0 0 -5.38  0 0 0 0 1" result="m"/><feColorMatrix in="m" type="matrix" values="0.62 0 0 0 0.38  0 0.62 0 0 0.38  0 0 0.62 0 0.38  0 0 0 0 1" result="L"/><feComposite in="SourceGraphic" in2="L" operator="arithmetic" k1="1" k2="0" k3="0" k4="0"/></filter><filter id="rl2" filterUnits="userSpaceOnUse" x="1625.7" y="1161.4" width="208.1" height="171.3" color-interpolation-filters="sRGB"><feTurbulence type="fractalNoise" baseFrequency="0.03" numOctaves="2" seed="33" result="t"/><feColorMatrix in="t" type="matrix" values="12.5 0 0 0 -5.88  12.5 0 0 0 -5.88  12.5 0 0 0 -5.88  0 0 0 0 1" result="m"/><feColorMatrix in="m" type="matrix" values="0.62 0 0 0 0.38  0 0.62 0 0 0.38  0 0 0.62 0 0.38  0 0 0 0 1" result="L"/><feComposite in="SourceGraphic" in2="L" operator="arithmetic" k1="1" k2="0" k3="0" k4="0"/></filter><filter id="rl3" filterUnits="userSpaceOnUse" x="1869.5" y="1161.4" width="193.9" height="172.6" color-interpolation-filters="sRGB"><feTurbulence type="fractalNoise" baseFrequency="0.02" numOctaves="2" seed="34" result="t"/><feColorMatrix in="t" type="matrix" values="12.5 0 0 0 -5.62  12.5 0 0 0 -5.62  12.5 0 0 0 -5.62  0 0 0 0 1" result="m"/><feColorMatrix in="m" type="matrix" values="0.82 0 0 0 0.18  0 0.82 0 0 0.18  0 0 0.82 0 0.18  0 0 0 0 1" result="L"/><feComposite in="SourceGraphic" in2="L" operator="arithmetic" k1="1" k2="0" k3="0" k4="0"/></filter><linearGradient id="gl0" gradientUnits="userSpaceOnUse" x1="1627.7" y1="1105.3" x2="1834.6" y2="932.4"><stop offset="0" stop-color="#f2302c"/><stop offset="1" stop-color="#8a1e1e"/></linearGradient><linearGradient id="gl1" gradientUnits="userSpaceOnUse" x1="1860.1" y1="1098.3" x2="2064.2" y2="933.9"><stop offset="0" stop-color="#f0302c"/><stop offset="1" stop-color="#c82626"/></linearGradient><linearGradient id="gl2" gradientUnits="userSpaceOnUse" x1="1627.7" y1="1330.7" x2="1831.8" y2="1163.4"><stop offset="0" stop-color="#e82a2a"/><stop offset="1" stop-color="#701616"/></linearGradient><linearGradient id="gl3" gradientUnits="userSpaceOnUse" x1="1871.5" y1="1332" x2="2061.4" y2="1163.4"><stop offset="0" stop-color="#f0302c"/><stop offset="1" stop-color="#b82424"/></linearGradient></defs>
<g filter="url(#rl0)">
<polygon points="1627.7,997.6 1736.8,1091.3 1736.8,1105.3 1627.7,1011.6" fill="#b01e20"/>
<polygon points="1736.8,1091.3 1834.6,996.2 1834.6,1010.2 1736.8,1105.3" fill="#c42224"/>
<polygon points="1729.7,932.4 1834.6,996.2 1736.8,1091.3 1627.7,997.6" fill="url(#gl0)"/>
</g>
<g filter="url(#rl1)">
<polygon points="1860.1,999 1965,1084.3 1965,1098.3 1860.1,1013" fill="#b01e20"/>
<polygon points="1965,1084.3 2064.2,999 2064.2,1013 1965,1098.3" fill="#c42224"/>
<polygon points="1945.2,933.9 2064.2,999 1965,1084.3 1860.1,999" fill="url(#gl1)"/>
</g>
<g filter="url(#rl2)">
<polygon points="1627.7,1225.8 1738.3,1316.7 1738.3,1330.7 1627.7,1239.8" fill="#b01e20"/>
<polygon points="1738.3,1316.7 1831.8,1225.8 1831.8,1239.8 1738.3,1330.7" fill="#c42224"/>
<polygon points="1726.9,1163.4 1831.8,1225.8 1738.3,1316.7 1627.7,1225.8" fill="url(#gl2)"/>
</g>
<g filter="url(#rl3)">
<polygon points="1871.5,1225.8 1965,1318 1965,1332 1871.5,1239.8" fill="#b01e20"/>
<polygon points="1965,1318 2061.4,1224.4 2061.4,1238.4 1965,1332" fill="#c42224"/>
<polygon points="1945.2,1163.4 2061.4,1224.4 1965,1318 1871.5,1225.8" fill="url(#gl3)"/>
</g>
<text x="1628.3" y="930.1" font-size="30.5" text-anchor="start" fill="#ffffff" font-weight="bold">150 µm</text>
<text x="1853.5" y="930.1" font-size="30.5" text-anchor="start" fill="#ffffff" font-weight="bold">300 µm</text>
<text x="1629.5" y="1161.5" font-size="30.5" text-anchor="start" fill="#ffffff" font-weight="bold">450 µm</text>
<text x="1856.3" y="1161.5" font-size="30.5" text-anchor="start" fill="#ffffff" font-weight="bold">600 µm</text>
<rect x="1772.3" y="1105.3" width="49.6" height="8" fill="#ffffff" stroke="none" stroke-width="0"/>
<rect x="2007" y="1105.3" width="49.6" height="8" fill="#ffffff" stroke="none" stroke-width="0"/>
<rect x="1772.3" y="1332" width="49.6" height="8" fill="#ffffff" stroke="none" stroke-width="0"/>
<rect x="2007" y="1332" width="49.6" height="8" fill="#ffffff" stroke="none" stroke-width="0"/>
<rect x="1618.6" y="1386.1" width="454.7" height="454.9" fill="#000" stroke="none" stroke-width="0"/>
<defs><filter id="rm0" filterUnits="userSpaceOnUse" x="1625.7" y="1420.9" width="210.9" height="177.8" color-interpolation-filters="sRGB"><feTurbulence type="fractalNoise" baseFrequency="0.06" numOctaves="2" seed="41" result="t"/><feColorMatrix in="t" type="matrix" values="12.5 0 0 0 -4.5  12.5 0 0 0 -4.5  12.5 0 0 0 -4.5  0 0 0 0 1" result="m"/><feColorMatrix in="m" type="matrix" values="0.62 0 0 0 0.38  0 0.62 0 0 0.38  0 0 0.62 0 0.38  0 0 0 0 1" result="L"/><feComposite in="SourceGraphic" in2="L" operator="arithmetic" k1="1" k2="0" k3="0" k4="0"/></filter><filter id="rm1" filterUnits="userSpaceOnUse" x="1851.9" y="1419.8" width="213.8" height="181.2" color-interpolation-filters="sRGB"><feTurbulence type="fractalNoise" baseFrequency="0.05" numOctaves="2" seed="42" result="t"/><feColorMatrix in="t" type="matrix" values="12.5 0 0 0 -4.81  12.5 0 0 0 -4.81  12.5 0 0 0 -4.81  0 0 0 0 1" result="m"/><feColorMatrix in="m" type="matrix" values="0.62 0 0 0 0.38  0 0.62 0 0 0.38  0 0 0.62 0 0.38  0 0 0 0 1" result="L"/><feComposite in="SourceGraphic" in2="L" operator="arithmetic" k1="1" k2="0" k3="0" k4="0"/></filter><filter id="rm2" filterUnits="userSpaceOnUse" x="1624.3" y="1647.1" width="213.7" height="179.7" color-interpolation-filters="sRGB"><feTurbulence type="fractalNoise" baseFrequency="0.06" numOctaves="2" seed="43" result="t"/><feColorMatrix in="t" type="matrix" values="12.5 0 0 0 -4.94  12.5 0 0 0 -4.94  12.5 0 0 0 -4.94  0 0 0 0 1" result="m"/><feColorMatrix in="m" type="matrix" values="0.62 0 0 0 0.38  0 0.62 0 0 0.38  0 0 0.62 0 0.38  0 0 0 0 1" result="L"/><feComposite in="SourceGraphic" in2="L" operator="arithmetic" k1="1" k2="0" k3="0" k4="0"/></filter><filter id="rm3" filterUnits="userSpaceOnUse" x="1851" y="1645.7" width="213.8" height="182.6" color-interpolation-filters="sRGB"><feTurbulence type="fractalNoise" baseFrequency="0.06" numOctaves="2" seed="44" result="t"/><feColorMatrix in="t" type="matrix" values="12.5 0 0 0 -5  12.5 0 0 0 -5  12.5 0 0 0 -5  0 0 0 0 1" result="m"/><feColorMatrix in="m" type="matrix" values="0.62 0 0 0 0.38  0 0.62 0 0 0.38  0 0 0.62 0 0.38  0 0 0 0 1" result="L"/><feComposite in="SourceGraphic" in2="L" operator="arithmetic" k1="1" k2="0" k3="0" k4="0"/></filter><linearGradient id="gm0" gradientUnits="userSpaceOnUse" x1="1627.7" y1="1596.7" x2="1834.6" y2="1422.9"><stop offset="0" stop-color="#e02a2a"/><stop offset="1" stop-color="#d22828"/></linearGradient><linearGradient id="gm1" gradientUnits="userSpaceOnUse" x1="1853.9" y1="1599" x2="2063.7" y2="1421.8"><stop offset="0" stop-color="#b82424"/><stop offset="1" stop-color="#d42828"/></linearGradient><linearGradient id="gm2" gradientUnits="userSpaceOnUse" x1="1626.3" y1="1824.8" x2="1836" y2="1649.1"><stop offset="0" stop-color="#d42828"/><stop offset="1" stop-color="#c02626"/></linearGradient><linearGradient id="gm3" gradientUnits="userSpaceOnUse" x1="1853" y1="1826.3" x2="2062.8" y2="1647.7"><stop offset="0" stop-color="#d02828"/><stop offset="1" stop-color="#b82424"/></linearGradient></defs>
<g filter="url(#rm0)">
<polygon points="1627.7,1490.4 1736.8,1582.7 1736.8,1596.7 1627.7,1504.4" fill="#b01e20"/>
<polygon points="1736.8,1582.7 1834.6,1487.5 1834.6,1501.5 1736.8,1596.7" fill="#c42224"/>
<polygon points="1729.7,1422.9 1834.6,1487.5 1736.8,1582.7 1627.7,1490.4" fill="url(#gm0)"/>
</g>
<g filter="url(#rm1)">
<polygon points="1853.9,1489.8 1965,1585 1965,1599 1853.9,1503.8" fill="#b01e20"/>
<polygon points="1965,1585 2063.7,1489 2063.7,1503 1965,1599" fill="#c42224"/>
<polygon points="1956.5,1421.8 2063.7,1489 1965,1585 1853.9,1489.8" fill="url(#gm1)"/>
</g>
<g filter="url(#rm2)">
<polygon points="1626.3,1717.1 1736.8,1810.8 1736.8,1824.8 1626.3,1731.1" fill="#b01e20"/>
<polygon points="1736.8,1810.8 1836,1714.3 1836,1728.3 1736.8,1824.8" fill="#c42224"/>
<polygon points="1728.3,1649.1 1836,1714.3 1736.8,1810.8 1626.3,1717.1" fill="url(#gm2)"/>
</g>
<g filter="url(#rm3)">
<polygon points="1853,1718.6 1963.6,1812.3 1963.6,1826.3 1853,1732.6" fill="#b01e20"/>
<polygon points="1963.6,1812.3 2062.8,1714.3 2062.8,1728.3 1963.6,1826.3" fill="#c42224"/>
<polygon points="1955.1,1647.7 2062.8,1714.3 1963.6,1812.3 1853,1718.6" fill="url(#gm3)"/>
</g>
<text x="1629.5" y="1419.5" font-size="30.5" text-anchor="start" fill="#ffffff" font-weight="bold">2:1</text>
<text x="1857.7" y="1419.5" font-size="30.5" text-anchor="start" fill="#ffffff" font-weight="bold">1:1</text>
<text x="1628" y="1652" font-size="30.5" text-anchor="start" fill="#ffffff" font-weight="bold">1:2</text>
<text x="1854.9" y="1652" font-size="30.5" text-anchor="start" fill="#ffffff" font-weight="bold">1:3</text>
<rect x="1775" y="1596.7" width="49.7" height="7.8" fill="#ffffff" stroke="none" stroke-width="0"/>
<rect x="2009.8" y="1596.7" width="49.7" height="7.8" fill="#ffffff" stroke="none" stroke-width="0"/>
<rect x="1775" y="1824.8" width="49.7" height="7.8" fill="#ffffff" stroke="none" stroke-width="0"/>
<rect x="2009.8" y="1824.8" width="49.7" height="7.8" fill="#ffffff" stroke="none" stroke-width="0"/>
<text x="4.6" y="29.6" font-size="40" text-anchor="start" fill="#231f20" font-weight="bold">(a)</text>
<text x="3.2" y="487.8" font-size="40" text-anchor="start" fill="#231f20" font-weight="bold">(b)</text>
<text x="1038.2" y="29.4" font-size="40" text-anchor="start" fill="#231f20" font-weight="bold">(c)</text>
<text x="1611.4" y="30.1" font-size="40" text-anchor="start" fill="#231f20" font-weight="bold">(d)</text>
<text x="1611.4" y="451.4" font-size="40" text-anchor="start" fill="#231f20" font-weight="bold">(e)</text>
<text x="8.4" y="931.6" font-size="40" text-anchor="start" fill="#231f20" font-weight="bold">(f)</text>
<text x="517.7" y="932.6" font-size="40" text-anchor="start" fill="#231f20" font-weight="bold">(g)</text>
<text x="1028.4" y="931.6" font-size="40" text-anchor="start" fill="#231f20" font-weight="bold">(h)</text>
<text x="1551.7" y="930.6" font-size="40" text-anchor="start" fill="#231f20" font-weight="bold">(l)</text>
<text x="9.6" y="1409.1" font-size="40" text-anchor="start" fill="#231f20" font-weight="bold">(i)</text>
<text x="521.7" y="1410.2" font-size="40" text-anchor="start" fill="#231f20" font-weight="bold">(j)</text>
<text x="1029.6" y="1409.1" font-size="40" text-anchor="start" fill="#231f20" font-weight="bold">(k)</text>
<text x="1543.2" y="1410.6" font-size="40" text-anchor="start" fill="#231f20" font-weight="bold">(m)</text>
</svg></body></html>
